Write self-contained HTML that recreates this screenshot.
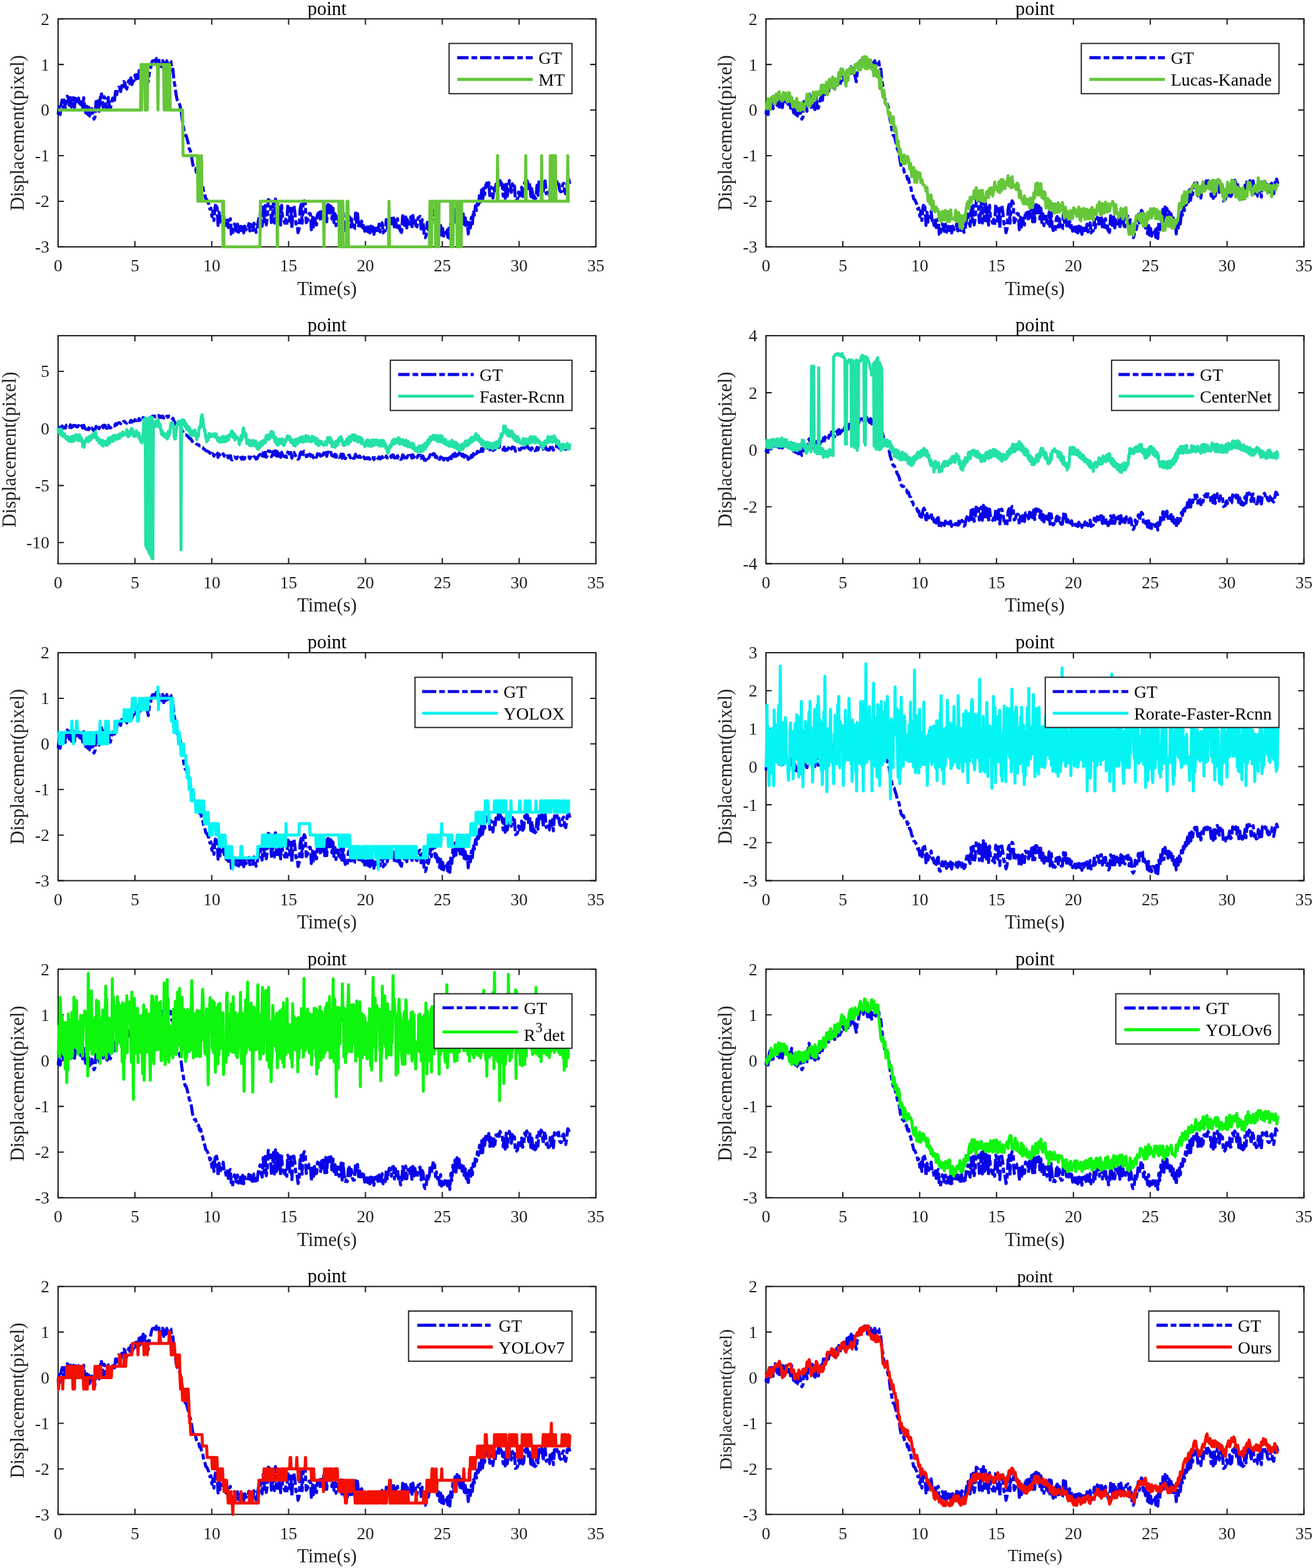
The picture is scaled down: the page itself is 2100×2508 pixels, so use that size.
<!DOCTYPE html>
<html lang="en"><head><meta charset="utf-8"><title>point displacement comparison</title>
<style>html,body{margin:0;padding:0;background:#fff}svg{display:block}text{font-family:"Liberation Serif", "Times New Roman", serif;fill:#000}.tk{font-size:27.5px;fill:#1f1f1f}.lg{font-size:28.0px}.lb{font-size:30.5px;fill:#1f1f1f}.tt{font-size:30.5px}</style></head><body>
<svg width="2100" height="2508" viewBox="0 0 2100 2508">
<rect width="2100" height="2508" fill="#fff"/>
<g id="p00">
<text class="tt" x="523" y="23.5" text-anchor="middle">point</text>
<g stroke="#1f1f1f" stroke-width="2.05" fill="none">
<rect x="92.9" y="30.2" width="860.2" height="364.6"/>
<path d="M92.9,394.8v-9.2M92.9,30.2v9.2M215.8,394.8v-9.2M215.8,30.2v9.2M338.7,394.8v-9.2M338.7,30.2v9.2M461.6,394.8v-9.2M461.6,30.2v9.2M584.5,394.8v-9.2M584.5,30.2v9.2M707.4,394.8v-9.2M707.4,30.2v9.2M830.3,394.8v-9.2M830.3,30.2v9.2M953.1,394.8v-9.2M953.1,30.2v9.2M92.9,30.2h9.2M953.1,30.2h-9.2M92.9,103.1h9.2M953.1,103.1h-9.2M92.9,176h9.2M953.1,176h-9.2M92.9,249h9.2M953.1,249h-9.2M92.9,321.9h9.2M953.1,321.9h-9.2M92.9,394.8h9.2M953.1,394.8h-9.2"/>
</g>
<clipPath id="c00"><rect x="90.5" y="27.8" width="865" height="369.4"/></clipPath>
<g clip-path="url(#c00)" fill="none" stroke-width="4.8" stroke-linejoin="round">
<polyline points="92.9,183.3 94.5,170.9 96.2,183.2 97.8,166.2 99.5,159.9 101.1,174 102.7,160 104.4,173.8 106,155.4 107.7,153.8 109.3,156.8 110.9,168.6 112.6,153.4 114.2,171.4 115.9,165.5 117.5,156.1 119.1,172.2 120.8,157.3 122.4,166.1 124.1,166.3 125.7,156.8 127.3,168.5 129,170.4 130.6,158.4 132.3,173.1 133.9,156.3 135.5,172 137.2,180.5 138.8,170 140.5,183.2 142.1,171.6 143.7,185.9 145.4,186.5 147,173.7 148.7,184.7 150.3,190.6 151.9,187.6 153.6,162.5 155.2,177.5 156.9,161.2 158.5,178 160.1,160.2 161.8,148.3 163.4,155.4 165.1,171.8 166.7,154.8 168.3,157.1 170,173.5 171.6,175.2 173.3,155.6 174.9,170.2 176.6,173.2 178.2,165.9 179.8,157.9 181.5,155.5 183.1,160.5 184.8,146.2 186.4,153.5 188,142.7 189.7,139.6 191.3,140.2 193,146.5 194.6,133.5 196.2,139.3 197.9,130.4 199.5,132.3 201.2,140.1 202.8,142.4 204.4,133.6 206.1,128.8 207.7,137.1 209.4,124.5 211,135.3 212.6,130.6 214.3,128.9 215.9,120.3 217.6,126.4 219.2,116.4 220.8,125.5 222.5,112.9 224.1,123.8 225.8,111.2 227.4,119.7 229,106.5 230.7,116.3 232.3,109.5 234,116.6 235.6,122.7 237.2,130.8 238.9,116.1 240.5,111.7 242.2,101.8 243.8,97.6 245.4,97.2 247.1,96.7 248.7,102.2 250.4,93.4 252,94.4 253.6,92.9 255.3,106.1 256.9,98.4 258.6,106.5 260.2,96.9 261.8,110.1 263.5,100.2 265.1,106.9 266.8,97.1 268.4,105 270,97.7 271.7,97.3 273.3,98.2 275,112 276.6,110.5 278.2,129.3 279.9,137.5 281.5,150.8 283.2,159.2 284.8,161.9 286.4,163.7 288.1,169.9 289.7,177.1 291.4,191.5 293,199.7 294.6,210.1 296.3,216.6 297.9,217 299.6,223.6 301.2,229.3 302.8,238.3 304.5,241.2 306.1,248.5 307.8,260 309.4,267.6 311,270.1 312.7,269.7 314.3,275.9 316,279.1 317.6,278.9 319.2,286.9 320.9,285.3 322.5,295.3 324.2,297.3 325.8,307.4 327.5,310.6 329.1,318.2 330.7,319.2 332.4,322.8 334,326.5 335.7,334.6 337.3,332.9 338.9,346.3 340.6,338 342.2,352.8 343.9,331.6 345.5,325.5 347.1,332 348.8,360.6 350.4,339.6 352.1,355.2 353.7,347.1 355.3,348.1 357,337.9 358.6,352.9 360.3,351.3 361.9,360.9 363.5,352 365.2,364 366.8,351.7 368.5,349.8 370.1,375.2 371.7,376.6 373.4,367.4 375,358.2 376.7,363.1 378.3,369.9 379.9,358.5 381.6,371.5 383.2,368 384.9,362 386.5,372 388.1,358.9 389.8,372.5 391.4,361.6 393.1,366.7 394.7,367.4 396.3,368.1 398,357.6 399.6,369.3 401.3,359 402.9,368.2 404.5,368.6 406.2,356.9 407.8,359.7 409.5,371.7 411.1,369 412.7,355.6 414.4,347.4 416,342.3 417.7,356.5 419.3,361.9 420.9,331 422.6,354.5 424.2,328.8 425.9,359.7 427.5,349.4 429.1,319.2 430.8,320.4 432.4,323 434.1,356 435.7,345.6 437.3,322.7 439,356.9 440.6,318.2 442.3,352.8 443.9,324.1 445.5,353.4 447.2,327.1 448.8,360.1 450.5,328.3 452.1,350.8 453.7,352.2 455.4,357 457,350.6 458.7,360.6 460.3,326.9 461.9,331.5 463.6,353.7 465.2,329.5 466.9,366 468.5,328.9 470.1,328.5 471.8,341 473.4,358.5 475.1,357.8 476.7,372.2 478.4,366 480,334.5 481.6,327.1 483.3,357.1 484.9,326.4 486.6,321.2 488.2,325 489.8,356.2 491.5,353.5 493.1,345.2 494.8,341.2 496.4,341.8 498,367.6 499.7,347.3 501.3,363.2 503,344.9 504.6,356 506.2,360 507.9,338 509.5,341.1 511.2,339.4 512.8,353 514.4,335.8 516.1,347.4 517.7,332.5 519.4,354.9 521,330.4 522.6,354.7 524.3,327.5 525.9,327.7 527.6,340.8 529.2,329.4 530.8,350.3 532.5,332.9 534.1,356 535.8,341.8 537.4,361 539,345.9 540.7,345.9 542.3,360.6 544,358.7 545.6,339.4 547.2,366.6 548.9,340.2 550.5,359.6 552.2,368.8 553.8,366.3 555.4,369.1 557.1,349.3 558.7,346.3 560.4,363.2 562,349.7 563.6,363.5 565.3,367.1 566.9,366.5 568.6,340.8 570.2,355.5 571.8,341.7 573.5,361.2 575.1,351.8 576.8,361.6 578.4,353.6 580,364.4 581.7,357.8 583.3,369.9 585,368.2 586.6,363 588.2,370.5 589.9,363 591.5,372.6 593.2,361.7 594.8,369.6 596.4,362.8 598.1,374.9 599.7,362.3 601.4,368.9 603,360.9 604.6,368.8 606.3,358.4 607.9,371 609.6,367.2 611.2,356.3 612.8,372.6 614.5,368.9 616.1,369.3 617.8,351.3 619.4,364.6 621,354.7 622.7,347.6 624.3,350.7 626,360.5 627.6,345.8 629.2,344.9 630.9,365 632.5,348.3 634.2,363.4 635.8,349.8 637.5,364.8 639.1,361.8 640.7,374.4 642.4,370.7 644,345 645.7,350.7 647.3,364.4 648.9,344.1 650.6,364.6 652.2,350.5 653.9,349.4 655.5,358.5 657.1,346.7 658.8,365.3 660.4,344.7 662.1,360.2 663.7,348.1 665.3,361.2 667,362.8 668.6,348.4 670.3,347.4 671.9,346.1 673.5,366.3 675.2,351.3 676.8,354.9 678.5,377.2 680.1,380.2 681.7,376.4 683.4,355.7 685,367.4 686.7,358.6 688.3,342.6 689.9,356.6 691.6,345.1 693.2,336.5 694.9,339 696.5,361.3 698.1,353.5 699.8,364.8 701.4,358.7 703.1,373.8 704.7,357.8 706.3,376.3 708,365.5 709.6,377.6 711.3,367.6 712.9,368.1 714.5,368 716.2,379.5 717.8,365.2 719.5,381.6 721.1,356 722.7,367.5 724.4,342.6 726,356 727.7,334.6 729.3,354.1 730.9,331 732.6,346.2 734.2,333.4 735.9,351.9 737.5,338.5 739.1,352.7 740.8,342 742.4,359.1 744.1,348.4 745.7,364.3 747.3,355.4 749,374.2 750.6,351.6 752.3,364.7 753.9,347.6 755.5,358.1 757.2,337 758.8,344.3 760.5,329.1 762.1,336.7 763.7,321.3 765.4,327.3 767,311 768.7,323 770.3,303.8 771.9,322.9 773.6,301 775.2,311.1 776.9,296.5 778.5,292.7 780.1,301.6 781.8,292.2 783.4,313.1 785.1,298.9 786.7,302.7 788.4,316.8 790,300.8 791.6,310 793.3,294.4 794.9,296.4 796.6,289.4 798.2,297 799.8,288.9 801.5,293 803.1,294.1 804.8,313.5 806.4,296.5 808,317.4 809.7,291.8 811.3,313.9 813,303.7 814.6,288.8 816.2,293.5 817.9,307.8 819.5,294 821.2,300.5 822.8,297.5 824.4,321.4 826.1,320.4 827.7,318.6 829.4,307 831,313.4 832.6,311.3 834.3,299.4 835.9,314.3 837.6,311.9 839.2,291.5 840.8,295.7 842.5,288.3 844.1,292 845.8,305.4 847.4,292.9 849,314.4 850.7,299.7 852.3,316.3 854,309.2 855.6,318.2 857.2,316.7 858.9,296.3 860.5,312.6 862.2,287.9 863.8,295.8 865.4,286.9 867.1,289.8 868.7,308.8 870.4,293.9 872,289.2 873.6,309.8 875.3,307.5 876.9,314.8 878.6,313.8 880.2,296.6 881.8,311 883.5,297.2 885.1,315.2 886.8,291.1 888.4,290.9 890,287.6 891.7,294.7 893.3,290.2 895,304.3 896.6,306.7 898.2,306.3 899.9,295 901.5,293.1 903.2,307.3 904.8,310 906.4,299.4 908.1,284.7 909.7,287.1 911.4,294.1" stroke="#0903ea" stroke-width="4.9" stroke-dasharray="18.2 4.7 9 4.7"/>
<polyline points="92.9,176 93.7,176 94.5,176 95.4,176 96.2,176 97,176 97.8,176 98.6,176 99.5,176 100.3,176 101.1,176 101.9,176 102.7,176 103.6,176 104.4,176 105.2,176 106,176 106.8,176 107.6,176 108.5,176 109.3,176 110.1,176 110.9,176 111.7,176 112.6,176 113.4,176 114.2,176 115,176 115.8,176 116.7,176 117.5,176 118.3,176 119.1,176 119.9,176 120.8,176 121.6,176 122.4,176 123.2,176 124,176 124.9,176 125.7,176 126.5,176 127.3,176 128.1,176 128.9,176 129.8,176 130.6,176 131.4,176 132.2,176 133,176 133.9,176 134.7,176 135.5,176 136.3,176 137.1,176 138,176 138.8,176 139.6,176 140.4,176 141.2,176 142.1,176 142.9,176 143.7,176 144.5,176 145.3,176 146.2,176 147,176 147.8,176 148.6,176 149.4,176 150.2,176 151.1,176 151.9,176 152.7,176 153.5,176 154.3,176 155.2,176 156,176 156.8,176 157.6,176 158.4,176 159.3,176 160.1,176 160.9,176 161.7,176 162.5,176 163.4,176 164.2,176 165,176 165.8,176 166.6,176 167.5,176 168.3,176 169.1,176 169.9,176 170.7,176 171.6,176 172.4,176 173.2,176 174,176 174.8,176 175.6,176 176.5,176 177.3,176 178.1,176 178.9,176 179.7,176 180.6,176 181.4,176 182.2,176 183,176 183.8,176 184.7,176 185.5,176 186.3,176 187.1,176 187.9,176 188.8,176 189.6,176 190.4,176 191.2,176 192,176 192.9,176 193.7,176 194.5,176 195.3,176 196.1,176 196.9,176 197.8,176 198.6,176 199.4,176 200.2,176 201,176 201.9,176 202.7,176 203.5,176 204.3,176 205.1,176 206,176 206.8,176 207.6,176 208.4,176 209.2,176 210.1,176 210.9,176 211.7,176 212.5,176 213.3,176 214.2,176 215,176 215.8,176 216.6,176 217.4,176 218.3,176 219.1,176 219.9,176 220.7,176 221.5,176 222.3,176 223.2,176 224,176 224.8,176 225.6,103.1 226.4,176 227.3,103.1 228.1,103.1 228.9,103.1 229.7,103.1 230.5,103.1 231.4,103.1 232.2,176 233,103.1 233.8,176 234.6,103.1 235.5,176 236.3,103.1 237.1,103.1 237.9,103.1 238.7,103.1 239.6,103.1 240.4,103.1 241.2,103.1 242,103.1 242.8,103.1 243.6,103.1 244.5,103.1 245.3,103.1 246.1,103.1 246.9,103.1 247.7,103.1 248.6,103.1 249.4,103.1 250.2,103.1 251,103.1 251.8,103.1 252.7,176 253.5,103.1 254.3,103.1 255.1,103.1 255.9,103.1 256.8,103.1 257.6,103.1 258.4,103.1 259.2,103.1 260,103.1 260.9,103.1 261.7,103.1 262.5,176 263.3,103.1 264.1,176 265,103.1 265.8,176 266.6,103.1 267.4,176 268.2,103.1 269,176 269.9,103.1 270.7,176 271.5,103.1 272.3,176 273.1,176 274,176 274.8,176 275.6,176 276.4,176 277.2,176 278.1,176 278.9,176 279.7,176 280.5,176 281.3,176 282.2,176 283,176 283.8,176 284.6,176 285.4,176 286.3,176 287.1,176 287.9,176 288.7,176 289.5,176 290.3,176 291.2,176 292,176 292.8,249 293.6,249 294.4,249 295.3,249 296.1,249 296.9,249 297.7,249 298.5,249 299.4,249 300.2,249 301,249 301.8,249 302.6,249 303.5,249 304.3,249 305.1,249 305.9,249 306.7,249 307.6,249 308.4,249 309.2,249 310,249 310.8,249 311.6,249 312.5,249 313.3,249 314.1,249 314.9,249 315.7,249 316.6,321.9 317.4,249 318.2,321.9 319,321.9 319.8,321.9 320.7,321.9 321.5,321.9 322.3,249 323.1,321.9 323.9,321.9 324.8,321.9 325.6,321.9 326.4,321.9 327.2,321.9 328,321.9 328.9,321.9 329.7,321.9 330.5,321.9 331.3,321.9 332.1,321.9 333,321.9 333.8,321.9 334.6,321.9 335.4,321.9 336.2,321.9 337,321.9 337.9,321.9 338.7,321.9 339.5,321.9 340.3,321.9 341.1,321.9 342,321.9 342.8,321.9 343.6,321.9 344.4,321.9 345.2,321.9 346.1,321.9 346.9,321.9 347.7,321.9 348.5,321.9 349.3,321.9 350.2,321.9 351,321.9 351.8,321.9 352.6,321.9 353.4,321.9 354.3,321.9 355.1,321.9 355.9,321.9 356.7,394.8 357.5,321.9 358.3,394.8 359.2,394.8 360,394.8 360.8,394.8 361.6,394.8 362.4,394.8 363.3,394.8 364.1,394.8 364.9,394.8 365.7,394.8 366.5,394.8 367.4,394.8 368.2,394.8 369,394.8 369.8,394.8 370.6,394.8 371.5,394.8 372.3,394.8 373.1,394.8 373.9,394.8 374.7,394.8 375.6,394.8 376.4,394.8 377.2,394.8 378,394.8 378.8,394.8 379.6,394.8 380.5,394.8 381.3,394.8 382.1,394.8 382.9,394.8 383.7,394.8 384.6,394.8 385.4,394.8 386.2,394.8 387,394.8 387.8,394.8 388.7,394.8 389.5,394.8 390.3,394.8 391.1,394.8 391.9,394.8 392.8,394.8 393.6,394.8 394.4,394.8 395.2,394.8 396,394.8 396.9,394.8 397.7,394.8 398.5,394.8 399.3,394.8 400.1,394.8 401,394.8 401.8,394.8 402.6,394.8 403.4,394.8 404.2,394.8 405,394.8 405.9,394.8 406.7,394.8 407.5,394.8 408.3,394.8 409.1,394.8 410,394.8 410.8,394.8 411.6,394.8 412.4,394.8 413.2,394.8 414.1,394.8 414.9,394.8 415.7,394.8 416.5,321.9 417.3,321.9 418.2,321.9 419,321.9 419.8,321.9 420.6,321.9 421.4,321.9 422.3,321.9 423.1,321.9 423.9,321.9 424.7,321.9 425.5,321.9 426.3,321.9 427.2,321.9 428,321.9 428.8,321.9 429.6,321.9 430.4,321.9 431.3,321.9 432.1,321.9 432.9,321.9 433.7,321.9 434.5,321.9 435.4,321.9 436.2,321.9 437,321.9 437.8,321.9 438.6,321.9 439.5,321.9 440.3,321.9 441.1,321.9 441.9,321.9 442.7,321.9 443.6,394.8 444.4,321.9 445.2,321.9 446,321.9 446.8,321.9 447.7,321.9 448.5,321.9 449.3,321.9 450.1,321.9 450.9,321.9 451.7,321.9 452.6,321.9 453.4,321.9 454.2,321.9 455,321.9 455.8,321.9 456.7,321.9 457.5,321.9 458.3,321.9 459.1,321.9 459.9,321.9 460.8,321.9 461.6,321.9 462.4,321.9 463.2,321.9 464,321.9 464.9,321.9 465.7,321.9 466.5,321.9 467.3,321.9 468.1,321.9 469,321.9 469.8,321.9 470.6,321.9 471.4,321.9 472.2,321.9 473,321.9 473.9,321.9 474.7,321.9 475.5,321.9 476.3,321.9 477.1,321.9 478,321.9 478.8,321.9 479.6,321.9 480.4,321.9 481.2,321.9 482.1,321.9 482.9,321.9 483.7,321.9 484.5,321.9 485.3,321.9 486.2,321.9 487,321.9 487.8,321.9 488.6,321.9 489.4,321.9 490.3,321.9 491.1,321.9 491.9,321.9 492.7,321.9 493.5,321.9 494.4,321.9 495.2,321.9 496,321.9 496.8,321.9 497.6,321.9 498.4,321.9 499.3,321.9 500.1,321.9 500.9,321.9 501.7,321.9 502.5,321.9 503.4,321.9 504.2,321.9 505,321.9 505.8,321.9 506.6,321.9 507.5,321.9 508.3,321.9 509.1,321.9 509.9,321.9 510.7,321.9 511.6,321.9 512.4,321.9 513.2,321.9 514,321.9 514.8,321.9 515.7,321.9 516.5,321.9 517.3,321.9 518.1,394.8 518.9,321.9 519.7,321.9 520.6,321.9 521.4,321.9 522.2,321.9 523,321.9 523.8,321.9 524.7,321.9 525.5,321.9 526.3,321.9 527.1,321.9 527.9,321.9 528.8,321.9 529.6,321.9 530.4,321.9 531.2,321.9 532,321.9 532.9,321.9 533.7,321.9 534.5,321.9 535.3,321.9 536.1,321.9 537,321.9 537.8,321.9 538.6,321.9 539.4,321.9 540.2,321.9 541,321.9 541.9,321.9 542.7,394.8 543.5,321.9 544.3,394.8 545.1,321.9 546,394.8 546.8,321.9 547.6,394.8 548.4,321.9 549.2,394.8 550.1,394.8 550.9,394.8 551.7,394.8 552.5,394.8 553.3,394.8 554.2,394.8 555,321.9 555.8,394.8 556.6,321.9 557.4,394.8 558.3,394.8 559.1,394.8 559.9,394.8 560.7,394.8 561.5,394.8 562.4,394.8 563.2,394.8 564,394.8 564.8,394.8 565.6,394.8 566.4,394.8 567.3,394.8 568.1,394.8 568.9,394.8 569.7,394.8 570.5,394.8 571.4,394.8 572.2,394.8 573,394.8 573.8,394.8 574.6,394.8 575.5,394.8 576.3,394.8 577.1,394.8 577.9,394.8 578.7,394.8 579.6,394.8 580.4,394.8 581.2,394.8 582,394.8 582.8,394.8 583.7,394.8 584.5,394.8 585.3,394.8 586.1,394.8 586.9,394.8 587.7,394.8 588.6,394.8 589.4,394.8 590.2,394.8 591,394.8 591.8,394.8 592.7,394.8 593.5,394.8 594.3,394.8 595.1,394.8 595.9,394.8 596.8,394.8 597.6,394.8 598.4,394.8 599.2,394.8 600,394.8 600.9,394.8 601.7,394.8 602.5,394.8 603.3,394.8 604.1,394.8 605,394.8 605.8,394.8 606.6,394.8 607.4,394.8 608.2,394.8 609,394.8 609.9,394.8 610.7,394.8 611.5,394.8 612.3,394.8 613.1,394.8 614,394.8 614.8,394.8 615.6,394.8 616.4,394.8 617.2,394.8 618.1,394.8 618.9,394.8 619.7,394.8 620.5,394.8 621.3,394.8 622.2,321.9 623,394.8 623.8,394.8 624.6,394.8 625.4,394.8 626.3,394.8 627.1,394.8 627.9,394.8 628.7,394.8 629.5,394.8 630.4,394.8 631.2,394.8 632,394.8 632.8,394.8 633.6,394.8 634.4,394.8 635.3,394.8 636.1,394.8 636.9,394.8 637.7,394.8 638.5,394.8 639.4,394.8 640.2,394.8 641,394.8 641.8,394.8 642.6,394.8 643.5,394.8 644.3,394.8 645.1,394.8 645.9,394.8 646.7,394.8 647.6,394.8 648.4,394.8 649.2,394.8 650,394.8 650.8,394.8 651.7,394.8 652.5,394.8 653.3,394.8 654.1,394.8 654.9,394.8 655.7,394.8 656.6,394.8 657.4,394.8 658.2,394.8 659,394.8 659.8,394.8 660.7,394.8 661.5,394.8 662.3,394.8 663.1,394.8 663.9,394.8 664.8,394.8 665.6,394.8 666.4,394.8 667.2,394.8 668,394.8 668.9,394.8 669.7,394.8 670.5,394.8 671.3,394.8 672.1,394.8 673,394.8 673.8,394.8 674.6,394.8 675.4,394.8 676.2,394.8 677.1,394.8 677.9,394.8 678.7,394.8 679.5,394.8 680.3,394.8 681.1,394.8 682,394.8 682.8,394.8 683.6,394.8 684.4,394.8 685.2,394.8 686.1,394.8 686.9,394.8 687.7,321.9 688.5,394.8 689.3,321.9 690.2,394.8 691,321.9 691.8,321.9 692.6,321.9 693.4,321.9 694.3,321.9 695.1,321.9 695.9,321.9 696.7,394.8 697.5,321.9 698.4,394.8 699.2,321.9 700,394.8 700.8,321.9 701.6,394.8 702.4,321.9 703.3,321.9 704.1,321.9 704.9,321.9 705.7,321.9 706.5,321.9 707.4,321.9 708.2,321.9 709,321.9 709.8,321.9 710.6,321.9 711.5,321.9 712.3,321.9 713.1,321.9 713.9,321.9 714.7,321.9 715.6,321.9 716.4,321.9 717.2,321.9 718,321.9 718.8,321.9 719.7,321.9 720.5,321.9 721.3,394.8 722.1,321.9 722.9,394.8 723.8,321.9 724.6,394.8 725.4,321.9 726.2,321.9 727,321.9 727.8,321.9 728.7,321.9 729.5,321.9 730.3,321.9 731.1,394.8 731.9,321.9 732.8,394.8 733.6,321.9 734.4,394.8 735.2,321.9 736,394.8 736.9,321.9 737.7,394.8 738.5,321.9 739.3,321.9 740.1,321.9 741,321.9 741.8,321.9 742.6,321.9 743.4,321.9 744.2,321.9 745.1,321.9 745.9,321.9 746.7,321.9 747.5,321.9 748.3,321.9 749.1,321.9 750,321.9 750.8,321.9 751.6,321.9 752.4,321.9 753.2,321.9 754.1,321.9 754.9,321.9 755.7,321.9 756.5,321.9 757.3,321.9 758.2,321.9 759,321.9 759.8,321.9 760.6,321.9 761.4,321.9 762.3,321.9 763.1,321.9 763.9,321.9 764.7,321.9 765.5,321.9 766.4,321.9 767.2,321.9 768,321.9 768.8,321.9 769.6,321.9 770.4,321.9 771.3,321.9 772.1,321.9 772.9,321.9 773.7,321.9 774.5,321.9 775.4,321.9 776.2,321.9 777,321.9 777.8,321.9 778.6,321.9 779.5,321.9 780.3,321.9 781.1,321.9 781.9,321.9 782.7,321.9 783.6,321.9 784.4,321.9 785.2,321.9 786,321.9 786.8,321.9 787.7,321.9 788.5,321.9 789.3,321.9 790.1,321.9 790.9,321.9 791.8,321.9 792.6,321.9 793.4,321.9 794.2,321.9 795,321.9 795.8,249 796.7,321.9 797.5,321.9 798.3,321.9 799.1,321.9 799.9,321.9 800.8,321.9 801.6,321.9 802.4,321.9 803.2,321.9 804,321.9 804.9,321.9 805.7,321.9 806.5,321.9 807.3,321.9 808.1,321.9 809,321.9 809.8,321.9 810.6,321.9 811.4,321.9 812.2,321.9 813.1,321.9 813.9,321.9 814.7,321.9 815.5,321.9 816.3,321.9 817.1,321.9 818,321.9 818.8,321.9 819.6,321.9 820.4,321.9 821.2,321.9 822.1,321.9 822.9,321.9 823.7,321.9 824.5,321.9 825.3,321.9 826.2,321.9 827,321.9 827.8,321.9 828.6,321.9 829.4,321.9 830.3,321.9 831.1,321.9 831.9,321.9 832.7,321.9 833.5,321.9 834.4,321.9 835.2,321.9 836,321.9 836.8,321.9 837.6,321.9 838.4,321.9 839.3,321.9 840.1,321.9 840.9,249 841.7,321.9 842.5,321.9 843.4,321.9 844.2,321.9 845,321.9 845.8,321.9 846.6,321.9 847.5,321.9 848.3,321.9 849.1,321.9 849.9,321.9 850.7,321.9 851.6,321.9 852.4,321.9 853.2,321.9 854,321.9 854.8,321.9 855.7,321.9 856.5,321.9 857.3,321.9 858.1,321.9 858.9,321.9 859.8,321.9 860.6,321.9 861.4,321.9 862.2,321.9 863,321.9 863.8,321.9 864.7,321.9 865.5,321.9 866.3,249 867.1,321.9 867.9,321.9 868.8,321.9 869.6,321.9 870.4,321.9 871.2,321.9 872,321.9 872.9,321.9 873.7,321.9 874.5,321.9 875.3,321.9 876.1,321.9 877,321.9 877.8,321.9 878.6,321.9 879.4,321.9 880.2,249 881.1,321.9 881.9,249 882.7,321.9 883.5,249 884.3,321.9 885.1,249 886,321.9 886.8,249 887.6,321.9 888.4,249 889.2,321.9 890.1,321.9 890.9,321.9 891.7,321.9 892.5,321.9 893.3,321.9 894.2,321.9 895,321.9 895.8,321.9 896.6,321.9 897.4,321.9 898.3,321.9 899.1,321.9 899.9,321.9 900.7,321.9 901.5,321.9 902.4,321.9 903.2,321.9 904,321.9 904.8,321.9 905.6,321.9 906.5,321.9 907.3,321.9 908.1,249 908.9,321.9 909.7,321.9 910.5,321.9 911.4,321.9" stroke="#66c63a"/>
</g>
<rect x="718.3" y="69.5" width="196.5" height="80.3" fill="#fff" stroke="#1c1c1c" stroke-width="1.9"/>
<path d="M731.2,92.3H852" fill="none" stroke="#0903ea" stroke-width="4.9" stroke-dasharray="18.2 4.7 9 4.7"/>
<path d="M731.2,127H852" fill="none" stroke="#66c63a" stroke-width="4.8"/>
<text class="lg" x="861.3" y="102.3">GT</text>
<text class="lg" x="861.3" y="137">MT</text>
<text class="tk" x="92.9" y="434.2" text-anchor="middle">0</text>
<text class="tk" x="215.8" y="434.2" text-anchor="middle">5</text>
<text class="tk" x="338.7" y="434.2" text-anchor="middle">10</text>
<text class="tk" x="461.6" y="434.2" text-anchor="middle">15</text>
<text class="tk" x="584.5" y="434.2" text-anchor="middle">20</text>
<text class="tk" x="707.4" y="434.2" text-anchor="middle">25</text>
<text class="tk" x="830.3" y="434.2" text-anchor="middle">30</text>
<text class="tk" x="953.1" y="434.2" text-anchor="middle">35</text>
<text class="tk" x="79" y="39.6" text-anchor="end">2</text>
<text class="tk" x="79" y="112.5" text-anchor="end">1</text>
<text class="tk" x="79" y="185.4" text-anchor="end">0</text>
<text class="tk" x="79" y="258.4" text-anchor="end">-1</text>
<text class="tk" x="79" y="331.3" text-anchor="end">-2</text>
<text class="tk" x="79" y="404.2" text-anchor="end">-3</text>
<text class="lb" x="523" y="471.6" text-anchor="middle">Time(s)</text>
<text class="lb" transform="translate(38,212.5) rotate(-90)" text-anchor="middle">Displacement(pixel)</text>
</g>
<g id="p01">
<text class="tt" x="1655.3" y="23.5" text-anchor="middle">point</text>
<g stroke="#1f1f1f" stroke-width="2.05" fill="none">
<rect x="1225.1" y="30.2" width="860.4" height="364.6"/>
<path d="M1225.1,394.8v-9.2M1225.1,30.2v9.2M1348,394.8v-9.2M1348,30.2v9.2M1470.9,394.8v-9.2M1470.9,30.2v9.2M1593.8,394.8v-9.2M1593.8,30.2v9.2M1716.8,394.8v-9.2M1716.8,30.2v9.2M1839.7,394.8v-9.2M1839.7,30.2v9.2M1962.6,394.8v-9.2M1962.6,30.2v9.2M2085.5,394.8v-9.2M2085.5,30.2v9.2M1225.1,30.2h9.2M2085.5,30.2h-9.2M1225.1,103.1h9.2M2085.5,103.1h-9.2M1225.1,176h9.2M2085.5,176h-9.2M1225.1,249h9.2M2085.5,249h-9.2M1225.1,321.9h9.2M2085.5,321.9h-9.2M1225.1,394.8h9.2M2085.5,394.8h-9.2"/>
</g>
<clipPath id="c01"><rect x="1222.7" y="27.8" width="865.2" height="369.4"/></clipPath>
<g clip-path="url(#c01)" fill="none" stroke-width="4.8" stroke-linejoin="round">
<polyline points="1225.1,183.3 1226.7,170.9 1228.4,183.2 1230,166.2 1231.7,159.9 1233.3,174 1234.9,160 1236.6,173.8 1238.2,155.4 1239.9,153.8 1241.5,156.8 1243.1,168.6 1244.8,153.4 1246.4,171.4 1248.1,165.5 1249.7,156.1 1251.3,172.2 1253,157.3 1254.6,166.1 1256.3,166.3 1257.9,156.8 1259.6,168.5 1261.2,170.4 1262.8,158.4 1264.5,173.1 1266.1,156.3 1267.8,172 1269.4,180.5 1271,170 1272.7,183.2 1274.3,171.6 1276,185.9 1277.6,186.5 1279.2,173.7 1280.9,184.7 1282.5,190.6 1284.2,187.6 1285.8,162.5 1287.4,177.5 1289.1,161.2 1290.7,178 1292.4,160.2 1294,148.3 1295.6,155.4 1297.3,171.8 1298.9,154.8 1300.6,157.1 1302.2,173.5 1303.8,175.2 1305.5,155.6 1307.1,170.2 1308.8,173.2 1310.4,165.9 1312,157.9 1313.7,155.5 1315.3,160.5 1317,146.2 1318.6,153.5 1320.2,142.7 1321.9,139.6 1323.5,140.2 1325.2,146.5 1326.8,133.5 1328.5,139.3 1330.1,130.4 1331.7,132.3 1333.4,140.1 1335,142.4 1336.7,133.6 1338.3,128.8 1339.9,137.1 1341.6,124.5 1343.2,135.3 1344.9,130.6 1346.5,128.9 1348.1,120.3 1349.8,126.4 1351.4,116.4 1353.1,125.5 1354.7,112.9 1356.3,123.8 1358,111.2 1359.6,119.7 1361.3,106.5 1362.9,116.3 1364.5,109.5 1366.2,116.6 1367.8,122.7 1369.5,130.8 1371.1,116.1 1372.7,111.7 1374.4,101.8 1376,97.6 1377.7,97.2 1379.3,96.7 1380.9,102.2 1382.6,93.4 1384.2,94.4 1385.9,92.9 1387.5,106.1 1389.1,98.4 1390.8,106.5 1392.4,96.9 1394.1,110.1 1395.7,100.2 1397.4,106.9 1399,97.1 1400.6,105 1402.3,97.7 1403.9,97.3 1405.6,98.2 1407.2,112 1408.8,110.5 1410.5,129.3 1412.1,137.5 1413.8,150.8 1415.4,159.2 1417,161.9 1418.7,163.7 1420.3,169.9 1422,177.1 1423.6,191.5 1425.2,199.7 1426.9,210.1 1428.5,216.6 1430.2,217 1431.8,223.6 1433.4,229.3 1435.1,238.3 1436.7,241.2 1438.4,248.5 1440,260 1441.6,267.6 1443.3,270.1 1444.9,269.7 1446.6,275.9 1448.2,279.1 1449.8,278.9 1451.5,286.9 1453.1,285.3 1454.8,295.3 1456.4,297.3 1458.1,307.4 1459.7,310.6 1461.3,318.2 1463,319.2 1464.6,322.8 1466.3,326.5 1467.9,334.6 1469.5,332.9 1471.2,346.3 1472.8,338 1474.5,352.8 1476.1,331.6 1477.7,325.5 1479.4,332 1481,360.6 1482.7,339.6 1484.3,355.2 1485.9,347.1 1487.6,348.1 1489.2,337.9 1490.9,352.9 1492.5,351.3 1494.1,360.9 1495.8,352 1497.4,364 1499.1,351.7 1500.7,349.8 1502.3,375.2 1504,376.6 1505.6,367.4 1507.3,358.2 1508.9,363.1 1510.5,369.9 1512.2,358.5 1513.8,371.5 1515.5,368 1517.1,362 1518.7,372 1520.4,358.9 1522,372.5 1523.7,361.6 1525.3,366.7 1527,367.4 1528.6,368.1 1530.2,357.6 1531.9,369.3 1533.5,359 1535.2,368.2 1536.8,368.6 1538.4,356.9 1540.1,359.7 1541.7,371.7 1543.4,369 1545,355.6 1546.6,347.4 1548.3,342.3 1549.9,356.5 1551.6,361.9 1553.2,331 1554.8,354.5 1556.5,328.8 1558.1,359.7 1559.8,349.4 1561.4,319.2 1563,320.4 1564.7,323 1566.3,356 1568,345.6 1569.6,322.7 1571.2,356.9 1572.9,318.2 1574.5,352.8 1576.2,324.1 1577.8,353.4 1579.4,327.1 1581.1,360.1 1582.7,328.3 1584.4,350.8 1586,352.2 1587.7,357 1589.3,350.6 1590.9,360.6 1592.6,326.9 1594.2,331.5 1595.9,353.7 1597.5,329.5 1599.1,366 1600.8,328.9 1602.4,328.5 1604.1,341 1605.7,358.5 1607.3,357.8 1609,372.2 1610.6,366 1612.3,334.5 1613.9,327.1 1615.5,357.1 1617.2,326.4 1618.8,321.2 1620.5,325 1622.1,356.2 1623.7,353.5 1625.4,345.2 1627,341.2 1628.7,341.8 1630.3,367.6 1631.9,347.3 1633.6,363.2 1635.2,344.9 1636.9,356 1638.5,360 1640.1,338 1641.8,341.1 1643.4,339.4 1645.1,353 1646.7,335.8 1648.3,347.4 1650,332.5 1651.6,354.9 1653.3,330.4 1654.9,354.7 1656.6,327.5 1658.2,327.7 1659.8,340.8 1661.5,329.4 1663.1,350.3 1664.8,332.9 1666.4,356 1668,341.8 1669.7,361 1671.3,345.9 1673,345.9 1674.6,360.6 1676.2,358.7 1677.9,339.4 1679.5,366.6 1681.2,340.2 1682.8,359.6 1684.4,368.8 1686.1,366.3 1687.7,369.1 1689.4,349.3 1691,346.3 1692.6,363.2 1694.3,349.7 1695.9,363.5 1697.6,367.1 1699.2,366.5 1700.8,340.8 1702.5,355.5 1704.1,341.7 1705.8,361.2 1707.4,351.8 1709,361.6 1710.7,353.6 1712.3,364.4 1714,357.8 1715.6,369.9 1717.2,368.2 1718.9,363 1720.5,370.5 1722.2,363 1723.8,372.6 1725.5,361.7 1727.1,369.6 1728.7,362.8 1730.4,374.9 1732,362.3 1733.7,368.9 1735.3,360.9 1736.9,368.8 1738.6,358.4 1740.2,371 1741.9,367.2 1743.5,356.3 1745.1,372.6 1746.8,368.9 1748.4,369.3 1750.1,351.3 1751.7,364.6 1753.3,354.7 1755,347.6 1756.6,350.7 1758.3,360.5 1759.9,345.8 1761.5,344.9 1763.2,365 1764.8,348.3 1766.5,363.4 1768.1,349.8 1769.7,364.8 1771.4,361.8 1773,374.4 1774.7,370.7 1776.3,345 1777.9,350.7 1779.6,364.4 1781.2,344.1 1782.9,364.6 1784.5,350.5 1786.2,349.4 1787.8,358.5 1789.4,346.7 1791.1,365.3 1792.7,344.7 1794.4,360.2 1796,348.1 1797.6,361.2 1799.3,362.8 1800.9,348.4 1802.6,347.4 1804.2,346.1 1805.8,366.3 1807.5,351.3 1809.1,354.9 1810.8,377.2 1812.4,380.2 1814,376.4 1815.7,355.7 1817.3,367.4 1819,358.6 1820.6,342.6 1822.2,356.6 1823.9,345.1 1825.5,336.5 1827.2,339 1828.8,361.3 1830.4,353.5 1832.1,364.8 1833.7,358.7 1835.4,373.8 1837,357.8 1838.6,376.3 1840.3,365.5 1841.9,377.6 1843.6,367.6 1845.2,368.1 1846.8,368 1848.5,379.5 1850.1,365.2 1851.8,381.6 1853.4,356 1855.1,367.5 1856.7,342.6 1858.3,356 1860,334.6 1861.6,354.1 1863.3,331 1864.9,346.2 1866.5,333.4 1868.2,351.9 1869.8,338.5 1871.5,352.7 1873.1,342 1874.7,359.1 1876.4,348.4 1878,364.3 1879.7,355.4 1881.3,374.2 1882.9,351.6 1884.6,364.7 1886.2,347.6 1887.9,358.1 1889.5,337 1891.1,344.3 1892.8,329.1 1894.4,336.7 1896.1,321.3 1897.7,327.3 1899.3,311 1901,323 1902.6,303.8 1904.3,322.9 1905.9,301 1907.5,311.1 1909.2,296.5 1910.8,292.7 1912.5,301.6 1914.1,292.2 1915.8,313.1 1917.4,298.9 1919,302.7 1920.7,316.8 1922.3,300.8 1924,310 1925.6,294.4 1927.2,296.4 1928.9,289.4 1930.5,297 1932.2,288.9 1933.8,293 1935.4,294.1 1937.1,313.5 1938.7,296.5 1940.4,317.4 1942,291.8 1943.6,313.9 1945.3,303.7 1946.9,288.8 1948.6,293.5 1950.2,307.8 1951.8,294 1953.5,300.5 1955.1,297.5 1956.8,321.4 1958.4,320.4 1960,318.6 1961.7,307 1963.3,313.4 1965,311.3 1966.6,299.4 1968.2,314.3 1969.9,311.9 1971.5,291.5 1973.2,295.7 1974.8,288.3 1976.4,292 1978.1,305.4 1979.7,292.9 1981.4,314.4 1983,299.7 1984.7,316.3 1986.3,309.2 1987.9,318.2 1989.6,316.7 1991.2,296.3 1992.9,312.6 1994.5,287.9 1996.1,295.8 1997.8,286.9 1999.4,289.8 2001.1,308.8 2002.7,293.9 2004.3,289.2 2006,309.8 2007.6,307.5 2009.3,314.8 2010.9,313.8 2012.5,296.6 2014.2,311 2015.8,297.2 2017.5,315.2 2019.1,291.1 2020.7,290.9 2022.4,287.6 2024,294.7 2025.7,290.2 2027.3,304.3 2028.9,306.7 2030.6,306.3 2032.2,295 2033.9,293.1 2035.5,307.3 2037.1,310 2038.8,299.4 2040.4,284.7 2042.1,287.1 2043.7,294.1" stroke="#0903ea" stroke-width="4.9" stroke-dasharray="18.2 4.7 9 4.7"/>
<polyline points="1225.1,163.4 1226.7,174.1 1228.4,157.6 1230,171.7 1231.7,175.3 1233.3,156.4 1234.9,159.2 1236.6,153.7 1238.2,166 1239.9,166.1 1241.5,150.3 1243.1,160.6 1244.8,149.4 1246.4,146.9 1248.1,158.8 1249.7,158.7 1251.3,161.4 1253,147.9 1254.6,158.6 1256.3,148.8 1257.9,158.8 1259.6,163.3 1261.2,147.7 1262.8,148.9 1264.5,162.4 1266.1,155.9 1267.8,171 1269.4,161.9 1271,164.7 1272.7,171.6 1274.3,157.4 1276,176.8 1277.6,163.8 1279.2,176.8 1280.9,176.5 1282.5,164.2 1284.2,173 1285.8,175.9 1287.4,166.5 1289.1,163 1290.7,150.6 1292.4,169.5 1294,150.6 1295.6,169.7 1297.3,161.6 1298.9,164.9 1300.6,147.3 1302.2,147.9 1303.8,160.3 1305.5,146.9 1307.1,151.3 1308.8,152.2 1310.4,145.7 1312,151.8 1313.7,136.1 1315.3,148.7 1317,136 1318.6,138.8 1320.2,149.3 1321.9,131.2 1323.5,151.5 1325.2,133.2 1326.8,126.6 1328.5,140.5 1330.1,139.1 1331.7,123.1 1333.4,128.7 1335,142.4 1336.7,126.2 1338.3,134.2 1339.9,136.8 1341.6,116 1343.2,126.5 1344.9,109.8 1346.5,119.5 1348.1,110.9 1349.8,117.9 1351.4,129.3 1353.1,137.6 1354.7,112.3 1356.3,128.8 1358,110.5 1359.6,117.5 1361.3,107.1 1362.9,113 1364.5,116.3 1366.2,116.7 1367.8,103.1 1369.5,103.1 1371.1,101.5 1372.7,112.4 1374.4,97.6 1376,112 1377.7,106.8 1379.3,91.9 1380.9,106.8 1382.6,90.3 1384.2,109.9 1385.9,90.8 1387.5,110.1 1389.1,95 1390.8,107.7 1392.4,96 1394.1,110.7 1395.7,103.8 1397.4,121.4 1399,104.7 1400.6,105.3 1402.3,123.1 1403.9,122.7 1405.6,112.9 1407.2,141.6 1408.8,124.9 1410.5,144.6 1412.1,155.1 1413.8,144.6 1415.4,164.7 1417,167.6 1418.7,165.7 1420.3,179.2 1422,186.1 1423.6,180.2 1425.2,197.4 1426.9,188.5 1428.5,186.7 1430.2,209.8 1431.8,202.3 1433.4,209.7 1435.1,234.1 1436.7,225.3 1438.4,246.5 1440,238.5 1441.6,258.7 1443.3,248.1 1444.9,262.2 1446.6,248.1 1448.2,261.8 1449.8,254.4 1451.5,250 1453.1,253.8 1454.8,270.4 1456.4,261 1458.1,282.6 1459.7,272.5 1461.3,267.6 1463,291.4 1464.6,272.8 1466.3,291.7 1467.9,275.9 1469.5,276.1 1471.2,276.8 1472.8,291.9 1474.5,286.9 1476.1,295.5 1477.7,295.7 1479.4,297.4 1481,305.8 1482.7,299.9 1484.3,321.9 1485.9,312 1487.6,326.8 1489.2,312 1490.9,335.6 1492.5,321.5 1494.1,337.1 1495.8,338.8 1497.4,331.1 1499.1,334.1 1500.7,337.2 1502.3,351.4 1504,340.5 1505.6,354.5 1507.3,337.9 1508.9,340.8 1510.5,352.1 1512.2,336.4 1513.8,341.4 1515.5,354.5 1517.1,338.1 1518.7,354.3 1520.4,335.6 1522,350.1 1523.7,349.3 1525.3,350.6 1527,352 1528.6,336.5 1530.2,354 1531.9,354.4 1533.5,339.8 1535.2,363 1536.8,344.7 1538.4,366.1 1540.1,345 1541.7,354 1543.4,352.7 1545,335.4 1546.6,326.5 1548.3,322.3 1549.9,333.7 1551.6,315.5 1553.2,324.1 1554.8,315.5 1556.5,318.2 1558.1,304.8 1559.8,316.9 1561.4,300.2 1563,321 1564.7,305.5 1566.3,318.1 1568,304.9 1569.6,321.2 1571.2,304.2 1572.9,322.2 1574.5,318.3 1576.2,322.6 1577.8,307.1 1579.4,305.4 1581.1,316 1582.7,301.1 1584.4,309.9 1586,300.4 1587.7,313.7 1589.3,304.6 1590.9,291.1 1592.6,303 1594.2,300.1 1595.9,306.2 1597.5,290.8 1599.1,308.4 1600.8,287.4 1602.4,304.1 1604.1,287.1 1605.7,291.8 1607.3,301.9 1609,290.9 1610.6,295.4 1612.3,281 1613.9,297.5 1615.5,285.1 1617.2,300.5 1618.8,282.7 1620.5,299.3 1622.1,298.5 1623.7,295.8 1625.4,303.4 1627,292.7 1628.7,295.9 1630.3,316 1631.9,305 1633.6,318 1635.2,321.1 1636.9,326 1638.5,313.2 1640.1,326.1 1641.8,318.1 1643.4,326.9 1645.1,318.9 1646.7,332.5 1648.3,316.5 1650,332 1651.6,331.9 1653.3,308.6 1654.9,316.5 1656.6,294 1658.2,311.3 1659.8,292.5 1661.5,312 1663.1,300.1 1664.8,293.7 1666.4,316.1 1668,305.8 1669.7,318.6 1671.3,307.4 1673,332.9 1674.6,322.8 1676.2,317.5 1677.9,334.5 1679.5,321.2 1681.2,335.3 1682.8,325 1684.4,329.7 1686.1,341.1 1687.7,325.8 1689.4,340 1691,338.5 1692.6,324 1694.3,339.4 1695.9,327.9 1697.6,336.1 1699.2,323.6 1700.8,338.5 1702.5,348.9 1704.1,331.3 1705.8,347 1707.4,338.2 1709,350.9 1710.7,339.3 1712.3,336.5 1714,349.8 1715.6,348.9 1717.2,332.5 1718.9,333.9 1720.5,337.3 1722.2,346.1 1723.8,337.3 1725.5,331 1727.1,351 1728.7,353.3 1730.4,334.2 1732,345.4 1733.7,333.1 1735.3,351.1 1736.9,337.1 1738.6,334.8 1740.2,350.2 1741.9,336.4 1743.5,349.6 1745.1,334.2 1746.8,331.8 1748.4,352.3 1750.1,336.5 1751.7,335.6 1753.3,343.4 1755,327.8 1756.6,336.9 1758.3,323 1759.9,342.6 1761.5,343.8 1763.2,325.4 1764.8,340.6 1766.5,340.6 1768.1,323.1 1769.7,336 1771.4,339.1 1773,325.8 1774.7,337.6 1776.3,327.8 1777.9,326.1 1779.6,322.2 1781.2,328.1 1782.9,342.4 1784.5,327.2 1786.2,338.5 1787.8,342.1 1789.4,347.9 1791.1,344.5 1792.7,333.1 1794.4,343.5 1796,350.2 1797.6,334.1 1799.3,343.7 1800.9,331.9 1802.6,354.1 1804.2,363.4 1805.8,375 1807.5,361.8 1809.1,374.3 1810.8,357.7 1812.4,376.4 1814,368.6 1815.7,355.2 1817.3,345.1 1819,349 1820.6,343.5 1822.2,352.3 1823.9,342.2 1825.5,356.6 1827.2,341.1 1828.8,362.2 1830.4,342.2 1832.1,361.4 1833.7,358.1 1835.4,340 1837,350.5 1838.6,338.4 1840.3,333.7 1841.9,348.7 1843.6,336.9 1845.2,333.2 1846.8,334.9 1848.5,350 1850.1,334.8 1851.8,349.8 1853.4,340.4 1855.1,338.4 1856.7,353.3 1858.3,345.9 1860,368.8 1861.6,367 1863.3,368.3 1864.9,351.9 1866.5,347.8 1868.2,361.8 1869.8,347.2 1871.5,362.6 1873.1,347.8 1874.7,365 1876.4,351.4 1878,364.4 1879.7,351.9 1881.3,357.4 1882.9,352.8 1884.6,345.8 1886.2,325.2 1887.9,328.1 1889.5,332.9 1891.1,313 1892.8,327.5 1894.4,306.7 1896.1,324.6 1897.7,324.1 1899.3,306.4 1901,306.3 1902.6,306 1904.3,307.3 1905.9,301.9 1907.5,297.2 1909.2,295.6 1910.8,298.8 1912.5,292.4 1914.1,311.5 1915.8,296.5 1917.4,312.2 1919,299.9 1920.7,297.7 1922.3,307.6 1924,290.7 1925.6,305.8 1927.2,305.6 1928.9,297.8 1930.5,298.7 1932.2,301.3 1933.8,290.8 1935.4,302.9 1937.1,289.6 1938.7,305.9 1940.4,287.8 1942,310.8 1943.6,288.9 1945.3,305.8 1946.9,290.5 1948.6,286.9 1950.2,288.3 1951.8,290.7 1953.5,307.3 1955.1,294.9 1956.8,315.5 1958.4,320.8 1960,302.4 1961.7,313.8 1963.3,291.2 1965,307.9 1966.6,294.7 1968.2,308.4 1969.9,287.9 1971.5,292.2 1973.2,308.5 1974.8,290 1976.4,315.1 1978.1,299.1 1979.7,299.8 1981.4,317.9 1983,319.8 1984.7,301.4 1986.3,318.7 1987.9,300.7 1989.6,307.3 1991.2,318.2 1992.9,305.3 1994.5,314 1996.1,290.9 1997.8,299.1 1999.4,292.4 2001.1,304.7 2002.7,312.5 2004.3,307.9 2006,298 2007.6,296.4 2009.3,306.1 2010.9,307.2 2012.5,284.4 2014.2,304.9 2015.8,298.9 2017.5,290.5 2019.1,304 2020.7,301.2 2022.4,289.5 2024,304.4 2025.7,295 2027.3,309.2 2028.9,295.7 2030.6,299.8 2032.2,296.8 2033.9,314.7 2035.5,297.7 2037.1,296.2 2038.8,297.9 2040.4,303.8 2042.1,294.9 2043.7,298.8" stroke="#66c63a"/>
</g>
<rect x="1729.4" y="69.5" width="316.2" height="80.3" fill="#fff" stroke="#1c1c1c" stroke-width="1.9"/>
<path d="M1742.3,92.3H1863.1" fill="none" stroke="#0903ea" stroke-width="4.9" stroke-dasharray="18.2 4.7 9 4.7"/>
<path d="M1742.3,127H1863.1" fill="none" stroke="#66c63a" stroke-width="4.8"/>
<text class="lg" x="1872.4" y="102.3">GT</text>
<text class="lg" x="1872.4" y="137">Lucas-Kanade</text>
<text class="tk" x="1225.1" y="434.2" text-anchor="middle">0</text>
<text class="tk" x="1348" y="434.2" text-anchor="middle">5</text>
<text class="tk" x="1470.9" y="434.2" text-anchor="middle">10</text>
<text class="tk" x="1593.8" y="434.2" text-anchor="middle">15</text>
<text class="tk" x="1716.8" y="434.2" text-anchor="middle">20</text>
<text class="tk" x="1839.7" y="434.2" text-anchor="middle">25</text>
<text class="tk" x="1962.6" y="434.2" text-anchor="middle">30</text>
<text class="tk" x="2085.5" y="434.2" text-anchor="middle">35</text>
<text class="tk" x="1211.2" y="39.6" text-anchor="end">2</text>
<text class="tk" x="1211.2" y="112.5" text-anchor="end">1</text>
<text class="tk" x="1211.2" y="185.4" text-anchor="end">0</text>
<text class="tk" x="1211.2" y="258.4" text-anchor="end">-1</text>
<text class="tk" x="1211.2" y="331.3" text-anchor="end">-2</text>
<text class="tk" x="1211.2" y="404.2" text-anchor="end">-3</text>
<text class="lb" x="1655.3" y="471.6" text-anchor="middle">Time(s)</text>
<text class="lb" transform="translate(1170.2,212.5) rotate(-90)" text-anchor="middle">Displacement(pixel)</text>
</g>
<g id="p10">
<text class="tt" x="523" y="530.2" text-anchor="middle">point</text>
<g stroke="#1f1f1f" stroke-width="2.05" fill="none">
<rect x="92.9" y="536.9" width="860.2" height="364.7"/>
<path d="M92.9,901.6v-9.2M92.9,536.9v9.2M215.8,901.6v-9.2M215.8,536.9v9.2M338.7,901.6v-9.2M338.7,536.9v9.2M461.6,901.6v-9.2M461.6,536.9v9.2M584.5,901.6v-9.2M584.5,536.9v9.2M707.4,901.6v-9.2M707.4,536.9v9.2M830.3,901.6v-9.2M830.3,536.9v9.2M953.1,901.6v-9.2M953.1,536.9v9.2M92.9,594h9.2M953.1,594h-9.2M92.9,685.3h9.2M953.1,685.3h-9.2M92.9,776.6h9.2M953.1,776.6h-9.2M92.9,867.8h9.2M953.1,867.8h-9.2"/>
</g>
<clipPath id="c10"><rect x="90.5" y="534.5" width="865" height="369.5"/></clipPath>
<g clip-path="url(#c10)" fill="none" stroke-width="4.8" stroke-linejoin="round">
<polyline points="92.9,687.1 94.5,684 96.2,687.1 97.8,682.8 99.5,681.3 101.1,684.8 102.7,681.3 104.4,684.7 106,680.1 107.7,679.7 109.3,680.5 110.9,683.4 112.6,679.6 114.2,684.1 115.9,682.7 117.5,680.3 119.1,684.3 120.8,680.6 122.4,682.8 124.1,682.9 125.7,680.5 127.3,683.4 129,683.9 130.6,680.9 132.3,684.6 133.9,680.3 135.5,684.3 137.2,686.4 138.8,683.8 140.5,687.1 142.1,684.2 143.7,687.8 145.4,687.9 147,684.7 148.7,687.5 150.3,688.9 151.9,688.2 153.6,681.9 155.2,685.7 156.9,681.6 158.5,685.8 160.1,681.3 161.8,678.4 163.4,680.1 165.1,684.2 166.7,680 168.3,680.6 170,684.7 171.6,685.1 173.3,680.2 174.9,683.8 176.6,684.6 178.2,682.8 179.8,680.7 181.5,680.2 183.1,681.4 184.8,677.8 186.4,679.6 188,676.9 189.7,676.2 191.3,676.3 193,677.9 194.6,674.6 196.2,676.1 197.9,673.9 199.5,674.4 201.2,676.3 202.8,676.9 204.4,674.7 206.1,673.5 207.7,675.5 209.4,672.4 211,675.1 212.6,673.9 214.3,673.5 215.9,671.3 217.6,672.9 219.2,670.4 220.8,672.7 222.5,669.5 224.1,672.2 225.8,669.1 227.4,671.2 229,667.9 230.7,670.3 232.3,668.6 234,670.4 235.6,671.9 237.2,674 238.9,670.3 240.5,669.2 242.2,666.7 243.8,665.7 245.4,665.6 247.1,665.4 248.7,666.8 250.4,664.6 252,664.9 253.6,664.5 255.3,667.8 256.9,665.9 258.6,667.9 260.2,665.5 261.8,668.8 263.5,666.3 265.1,668 266.8,665.5 268.4,667.5 270,665.7 271.7,665.6 273.3,665.8 275,669.3 276.6,668.9 278.2,673.6 279.9,675.7 281.5,679 283.2,681.1 284.8,681.8 286.4,682.2 288.1,683.8 289.7,685.6 291.4,689.2 293,691.2 294.6,693.8 296.3,695.5 297.9,695.6 299.6,697.2 301.2,698.6 302.8,700.9 304.5,701.6 306.1,703.4 307.8,706.3 309.4,708.2 311,708.9 312.7,708.7 314.3,710.3 316,711.1 317.6,711.1 319.2,713.1 320.9,712.7 322.5,715.2 324.2,715.7 325.8,718.2 327.5,719 329.1,720.9 330.7,721.1 332.4,722 334,723 335.7,725 337.3,724.6 338.9,727.9 340.6,725.9 342.2,729.5 343.9,724.2 345.5,722.7 347.1,724.3 348.8,731.5 350.4,726.2 352.1,730.2 353.7,728.1 355.3,728.4 357,725.8 358.6,729.6 360.3,729.2 361.9,731.6 363.5,729.3 365.2,732.3 366.8,729.3 368.5,728.8 370.1,735.1 371.7,735.5 373.4,733.2 375,730.9 376.7,732.1 378.3,733.8 379.9,731 381.6,734.2 383.2,733.3 384.9,731.9 386.5,734.3 388.1,731.1 389.8,734.5 391.4,731.7 393.1,733 394.7,733.2 396.3,733.4 398,730.8 399.6,733.7 401.3,731.1 402.9,733.4 404.5,733.5 406.2,730.6 407.8,731.3 409.5,734.3 411.1,733.6 412.7,730.3 414.4,728.2 416,726.9 417.7,730.5 419.3,731.8 420.9,724.1 422.6,730 424.2,723.5 425.9,731.3 427.5,728.7 429.1,721.1 430.8,721.4 432.4,722.1 434.1,730.4 435.7,727.8 437.3,722 439,730.6 440.6,720.9 442.3,729.5 443.9,722.4 445.5,729.7 447.2,723.1 448.8,731.4 450.5,723.4 452.1,729 453.7,729.4 455.4,730.6 457,729 458.7,731.5 460.3,723.1 461.9,724.2 463.6,729.8 465.2,723.7 466.9,732.9 468.5,723.6 470.1,723.5 471.8,726.6 473.4,731 475.1,730.8 476.7,734.4 478.4,732.9 480,725 481.6,723.1 483.3,730.6 484.9,722.9 486.6,721.6 488.2,722.6 489.8,730.4 491.5,729.7 493.1,727.7 494.8,726.7 496.4,726.8 498,733.3 499.7,728.2 501.3,732.2 503,727.6 504.6,730.3 506.2,731.3 507.9,725.8 509.5,726.6 511.2,726.2 512.8,729.6 514.4,725.3 516.1,728.2 517.7,724.5 519.4,730.1 521,723.9 522.6,730 524.3,723.2 525.9,723.3 527.6,726.5 529.2,723.7 530.8,728.9 532.5,724.6 534.1,730.3 535.8,726.8 537.4,731.6 539,727.8 540.7,727.8 542.3,731.5 544,731 545.6,726.2 547.2,733 548.9,726.4 550.5,731.3 552.2,733.5 553.8,732.9 555.4,733.6 557.1,728.7 558.7,727.9 560.4,732.2 562,728.8 563.6,732.2 565.3,733.1 566.9,733 568.6,726.6 570.2,730.2 571.8,726.8 573.5,731.6 575.1,729.3 576.8,731.7 578.4,729.7 580,732.5 581.7,730.8 583.3,733.8 585,733.4 586.6,732.1 588.2,734 589.9,732.1 591.5,734.5 593.2,731.8 594.8,733.7 596.4,732 598.1,735.1 599.7,731.9 601.4,733.6 603,731.6 604.6,733.5 606.3,730.9 607.9,734.1 609.6,733.2 611.2,730.4 612.8,734.5 614.5,733.6 616.1,733.7 617.8,729.2 619.4,732.5 621,730 622.7,728.2 624.3,729 626,731.5 627.6,727.8 629.2,727.6 630.9,732.6 632.5,728.4 634.2,732.2 635.8,728.8 637.5,732.6 639.1,731.8 640.7,734.9 642.4,734 644,727.6 645.7,729 647.3,732.4 648.9,727.4 650.6,732.5 652.2,729 653.9,728.7 655.5,731 657.1,728 658.8,732.7 660.4,727.5 662.1,731.4 663.7,728.4 665.3,731.6 667,732 668.6,728.5 670.3,728.2 671.9,727.9 673.5,732.9 675.2,729.2 676.8,730.1 678.5,735.7 680.1,736.4 681.7,735.5 683.4,730.3 685,733.2 686.7,731 688.3,727 689.9,730.5 691.6,727.6 693.2,725.5 694.9,726.1 696.5,731.7 698.1,729.7 699.8,732.5 701.4,731 703.1,734.8 704.7,730.8 706.3,735.4 708,732.7 709.6,735.8 711.3,733.3 712.9,733.4 714.5,733.4 716.2,736.2 717.8,732.6 719.5,736.8 721.1,730.3 722.7,733.2 724.4,727 726,730.3 727.7,725 729.3,729.9 730.9,724.1 732.6,727.9 734.2,724.7 735.9,729.3 737.5,726 739.1,729.5 740.8,726.8 742.4,731.1 744.1,728.4 745.7,732.4 747.3,730.2 749,734.9 750.6,729.2 752.3,732.5 753.9,728.2 755.5,730.9 757.2,725.6 758.8,727.4 760.5,723.6 762.1,725.5 763.7,721.7 765.4,723.2 767,719.1 768.7,722.1 770.3,717.3 771.9,722.1 773.6,716.6 775.2,719.1 776.9,715.5 778.5,714.5 780.1,716.7 781.8,714.4 783.4,719.6 785.1,716 786.7,717 788.4,720.5 790,716.5 791.6,718.8 793.3,714.9 794.9,715.4 796.6,713.7 798.2,715.6 799.8,713.5 801.5,714.6 803.1,714.8 804.8,719.7 806.4,715.4 808,720.7 809.7,714.3 811.3,719.8 813,717.3 814.6,713.5 816.2,714.7 817.9,718.3 819.5,714.8 821.2,716.4 822.8,715.7 824.4,721.7 826.1,721.4 827.7,721 829.4,718.1 831,719.7 832.6,719.2 834.3,716.2 835.9,719.9 837.6,719.3 839.2,714.2 840.8,715.2 842.5,713.4 844.1,714.3 845.8,717.7 847.4,714.5 849,719.9 850.7,716.2 852.3,720.4 854,718.6 855.6,720.9 857.2,720.5 858.9,715.4 860.5,719.5 862.2,713.3 863.8,715.3 865.4,713 867.1,713.8 868.7,718.5 870.4,714.8 872,713.6 873.6,718.8 875.3,718.2 876.9,720 878.6,719.8 880.2,715.5 881.8,719.1 883.5,715.6 885.1,720.1 886.8,714.1 888.4,714.1 890,713.2 891.7,715 893.3,713.9 895,717.4 896.6,718 898.2,717.9 899.9,715.1 901.5,714.6 903.2,718.2 904.8,718.8 906.4,716.2 908.1,712.5 909.7,713.1 911.4,714.9" stroke="#0903ea" stroke-width="4.9" stroke-dasharray="18.2 4.7 9 4.7"/>
<polyline points="92.9,684.5 93.7,690.1 94.5,690.9 95.4,693.7 96.2,686.7 97,686.2 97.8,696 98.6,686.8 99.5,696.1 100.3,697.5 101.1,698.2 101.9,693.4 102.7,698.5 103.6,694.3 104.4,699.8 105.2,700.4 106,702.3 106.8,700.5 107.6,702.5 108.5,698.4 109.3,705.2 110.1,704.2 110.9,705.8 111.7,704.6 112.6,700.4 113.4,705.9 114.2,698.3 115,706.5 115.8,705.9 116.7,697.4 117.5,700.2 118.3,704.7 119.1,705 119.9,698.3 120.8,695.7 121.6,697.8 122.4,695.2 123.2,698.6 124,703.7 124.9,696.8 125.7,705 126.5,698.9 127.3,695.4 128.1,704.1 128.9,705.2 129.8,699.6 130.6,702.4 131.4,702.5 132.2,714.2 133,714.1 133.9,715.6 134.7,714.1 135.5,705.9 136.3,707.9 137.1,705.3 138,701.2 138.8,700.4 139.6,703.7 140.4,704.6 141.2,706.5 142.1,699 142.9,702.6 143.7,697.8 144.5,704.2 145.3,703.6 146.2,701.9 147,695.9 147.8,698.9 148.6,694 149.4,699.3 150.2,697.4 151.1,700 151.9,697.1 152.7,690.4 153.5,694.1 154.3,699.8 155.2,703.9 156,703.5 156.8,700.2 157.6,701.2 158.4,708.6 159.3,705.5 160.1,703.7 160.9,706.3 161.7,706.6 162.5,712 163.4,705.7 164.2,704.2 165,713.5 165.8,705.5 166.6,706.9 167.5,710.6 168.3,711.7 169.1,710.9 169.9,706.8 170.7,704.9 171.6,712.3 172.4,703.4 173.2,703.3 174,700.1 174.8,709.6 175.6,707.1 176.5,705.1 177.3,700 178.1,705.6 178.9,705.9 179.7,698 180.6,697.4 181.4,705.7 182.2,697.7 183,696.2 183.8,698.3 184.7,701.9 185.5,701.7 186.3,703 187.1,697.9 187.9,695.6 188.8,701.8 189.6,697.1 190.4,695.8 191.2,701.4 192,693.6 192.9,695.9 193.7,695.4 194.5,697.9 195.3,693.8 196.1,690.9 196.9,691.2 197.8,696.4 198.6,694 199.4,693.6 200.2,695.2 201,693.9 201.9,694.1 202.7,687.2 203.5,689.3 204.3,698.2 205.1,693.1 206,698.5 206.8,690.2 207.6,696 208.4,694.7 209.2,692.5 210.1,685.4 210.9,685.9 211.7,694.6 212.5,687.7 213.3,697 214.2,694.4 215,698.2 215.8,691.2 216.6,691.2 217.4,696.9 218.3,688.8 219.1,695.3 219.9,697.3 220.7,696.4 221.5,699.3 222.3,692.5 223.2,700.1 224,703.3 224.8,704 225.6,707.3 226.4,707 227.3,708.3 228.1,698.7 228.9,693.7 229.7,678 230.5,670.7 231.4,671.3 232.2,668.6 233,872.9 233.8,669.2 234.6,876.8 235.5,671.5 236.3,879 237.1,670.3 237.9,883.7 238.7,667.6 239.6,886 240.4,671 241.2,889.3 242,667 242.8,893.3 243.6,668.2 244.5,893.9 245.3,682.7 246.1,682.5 246.9,683.2 247.7,682 248.6,674 249.4,675.3 250.2,681.5 251,680.4 251.8,678.5 252.7,671 253.5,676 254.3,682.8 255.1,683.6 255.9,678.3 256.8,682.5 257.6,690.7 258.4,694.6 259.2,688.8 260,696.3 260.9,691.9 261.7,693.5 262.5,695.6 263.3,698.8 264.1,697.4 265,696.3 265.8,693.6 266.6,695.2 267.4,702.1 268.2,699.7 269,689.8 269.9,698.3 270.7,690 271.5,693.6 272.3,684.1 273.1,679.4 274,676.2 274.8,681.5 275.6,675.6 276.4,677.8 277.2,682.5 278.1,688.9 278.9,699.9 279.7,702.2 280.5,702 281.3,692.7 282.2,688.1 283,680.4 283.8,678.2 284.6,678.5 285.4,673.5 286.3,674.5 287.1,674.3 287.9,680.2 288.7,679.1 289.5,879.5 290.3,672.6 291.2,679.8 292,671.4 292.8,674.1 293.6,673.1 294.4,672.2 295.3,673 296.1,682.4 296.9,676.8 297.7,678 298.5,686.4 299.4,680.6 300.2,687.9 301,684.4 301.8,682.6 302.6,690.4 303.5,684.6 304.3,696 305.1,689.4 305.9,696.5 306.7,697.1 307.6,689.5 308.4,692.9 309.2,694.4 310,696 310.8,692.6 311.6,687.8 312.5,690.5 313.3,693.3 314.1,701.7 314.9,703.3 315.7,693.9 316.6,693.7 317.4,697.8 318.2,686.8 319,682.7 319.8,685 320.7,683.6 321.5,670.2 322.3,665.6 323.1,663.3 323.9,677.2 324.8,669.9 325.6,683.1 326.4,683.7 327.2,690.2 328,688.4 328.9,700 329.7,696.8 330.5,706.7 331.3,702.5 332.1,697.4 333,704.1 333.8,696.1 334.6,693.3 335.4,694 336.2,698.6 337,697.6 337.9,698.2 338.7,695.4 339.5,694.6 340.3,697.8 341.1,696 342,698.2 342.8,698.6 343.6,693.3 344.4,699 345.2,695.7 346.1,694.9 346.9,701.7 347.7,702.1 348.5,705.5 349.3,703.3 350.2,700.1 351,705.7 351.8,707.4 352.6,706.8 353.4,700.7 354.3,700.1 355.1,707.1 355.9,705.1 356.7,697.6 357.5,706.6 358.3,703.7 359.2,704.3 360,698.9 360.8,706.5 361.6,698.2 362.4,705.5 363.3,698.6 364.1,697.2 364.9,697.9 365.7,703.5 366.5,695.9 367.4,698.5 368.2,694.3 369,698 369.8,689.7 370.6,691.8 371.5,689.6 372.3,698 373.1,699.9 373.9,695.1 374.7,693.6 375.6,703.9 376.4,696.6 377.2,699.6 378,698.4 378.8,701.1 379.6,699.1 380.5,702.5 381.3,702.1 382.1,704.8 382.9,711.3 383.7,703.9 384.6,706.9 385.4,697 386.2,703.9 387,702.9 387.8,698.4 388.7,686.8 389.5,684.3 390.3,691.1 391.1,693 391.9,691.9 392.8,700.1 393.6,695.2 394.4,709 395.2,702.8 396,709.8 396.9,703.6 397.7,709.6 398.5,703.9 399.3,712.9 400.1,705 401,711.1 401.8,712.7 402.6,706.6 403.4,704.5 404.2,710.2 405,704.5 405.9,713 406.7,707.2 407.5,706.8 408.3,707.2 409.1,705.5 410,714 410.8,715.9 411.6,708.6 412.4,718.3 413.2,718.7 414.1,716.3 414.9,710 415.7,715.5 416.5,707.2 417.3,707.7 418.2,713.2 419,705.6 419.8,711.7 420.6,704.9 421.4,707.9 422.3,703.9 423.1,708.8 423.9,705.4 424.7,707.6 425.5,696.9 426.3,697.1 427.2,696.8 428,695.9 428.8,702.9 429.6,703 430.4,695.6 431.3,701.4 432.1,698.1 432.9,691.1 433.7,697.7 434.5,689.8 435.4,698.6 436.2,699.4 437,692 437.8,696.7 438.6,698 439.5,706 440.3,700 441.1,699.7 441.9,710 442.7,703.3 443.6,704.5 444.4,712.4 445.2,709.4 446,702.3 446.8,702.6 447.7,709.1 448.5,704.3 449.3,702.6 450.1,702.2 450.9,710 451.7,701.9 452.6,710.9 453.4,704.1 454.2,712.6 455,710 455.8,704.6 456.7,707.2 457.5,703.1 458.3,700 459.1,701.1 459.9,697 460.8,703.2 461.6,698.3 462.4,698 463.2,698.2 464,700.9 464.9,707.5 465.7,702.6 466.5,708 467.3,704 468.1,709.6 469,703.8 469.8,712.6 470.6,704.3 471.4,711.1 472.2,713.3 473,702.7 473.9,710.3 474.7,702.3 475.5,710.2 476.3,702.8 477.1,708.4 478,705.4 478.8,700.5 479.6,705.5 480.4,706.1 481.2,699.6 482.1,699.1 482.9,706.6 483.7,698.3 484.5,707.4 485.3,699.2 486.2,706.8 487,700.6 487.8,698.9 488.6,704.3 489.4,696.6 490.3,705.6 491.1,697.8 491.9,705.7 492.7,697.7 493.5,698.4 494.4,700.4 495.2,700.3 496,706.5 496.8,704.6 497.6,705.9 498.4,706.4 499.3,697.7 500.1,703.8 500.9,703.6 501.7,704.6 502.5,699.4 503.4,705.8 504.2,702 505,709.8 505.8,710 506.6,701 507.5,703.3 508.3,710 509.1,712.7 509.9,705.5 510.7,705.1 511.6,710.9 512.4,707.5 513.2,707 514,706.1 514.8,707.4 515.7,710.9 516.5,710.8 517.3,709.3 518.1,712.6 518.9,711.5 519.7,708.6 520.6,706.5 521.4,711.1 522.2,711.7 523,708.5 523.8,700 524.7,700.7 525.5,705.3 526.3,699.7 527.1,699.7 527.9,708.2 528.8,700.9 529.6,703.2 530.4,703.9 531.2,714.6 532,707.1 532.9,712.9 533.7,710.6 534.5,714.4 535.3,708.6 536.1,715.5 537,705.8 537.8,705.9 538.6,705.2 539.4,712.3 540.2,705 541,710.5 541.9,700.6 542.7,702.4 543.5,700.3 544.3,705.1 545.1,698.3 546,701.3 546.8,702.1 547.6,707 548.4,711.2 549.2,708.6 550.1,712.6 550.9,711.1 551.7,706.7 552.5,711.8 553.3,704.9 554.2,703.4 555,709.7 555.8,701.3 556.6,710.4 557.4,710.1 558.3,699 559.1,700 559.9,698.4 560.7,706.8 561.5,698.1 562.4,698.4 563.2,696 564,702.4 564.8,702.8 565.6,695.5 566.4,704.7 567.3,697.9 568.1,695.9 568.9,697.4 569.7,705.2 570.5,699.1 571.4,703.4 572.2,698.1 573,707.3 573.8,700.8 574.6,699 575.5,701.2 576.3,699.6 577.1,699.8 577.9,709.6 578.7,709.2 579.6,702.5 580.4,709.7 581.2,709.9 582,711.9 582.8,710.4 583.7,714.3 584.5,711.3 585.3,706.3 586.1,704.8 586.9,704.5 587.7,703.8 588.6,713.2 589.4,711.1 590.2,704.4 591,713.2 591.8,706.6 592.7,713.7 593.5,704.7 594.3,714.1 595.1,705 595.9,703.9 596.8,712.5 597.6,706 598.4,712.2 599.2,703.7 600,706.5 600.9,710.8 601.7,703.7 602.5,706.2 603.3,710.5 604.1,704.5 605,712.6 605.8,706.6 606.6,706.3 607.4,713.5 608.2,707.1 609,704.2 609.9,705.2 610.7,706.8 611.5,713.8 612.3,713.5 613.1,704.4 614,707.2 614.8,708.3 615.6,708.7 616.4,710.1 617.2,717.3 618.1,714.4 618.9,714.8 619.7,724 620.5,718 621.3,724.1 622.2,715.7 623,717.7 623.8,712.2 624.6,715.7 625.4,714.5 626.3,711.4 627.1,704.9 627.9,704.7 628.7,710.8 629.5,702.9 630.4,702.7 631.2,710.1 632,702.6 632.8,708.9 633.6,708 634.4,703.3 635.3,702.8 636.1,707.4 636.9,699.9 637.7,708.4 638.5,701.2 639.4,710.7 640.2,702.7 641,704.5 641.8,709.6 642.6,708.8 643.5,708.4 644.3,703.1 645.1,710 645.9,711.8 646.7,711.4 647.6,712.5 648.4,712.7 649.2,703.9 650,713.1 650.8,711.8 651.7,707.5 652.5,714.5 653.3,705.9 654.1,706.9 654.9,711.5 655.7,714.7 656.6,713.9 657.4,712.7 658.2,709.8 659,716.1 659.8,708.6 660.7,717.6 661.5,710.6 662.3,716.4 663.1,717.1 663.9,720.8 664.8,715.7 665.6,719.5 666.4,721.1 667.2,717.1 668,722.8 668.9,721.8 669.7,714.7 670.5,713.2 671.3,713.9 672.1,713.4 673,722.5 673.8,719.8 674.6,721.9 675.4,712.6 676.2,721.2 677.1,720.7 677.9,712.2 678.7,710.4 679.5,709.1 680.3,718.2 681.1,715.2 682,714.8 682.8,712.8 683.6,705.9 684.4,703.7 685.2,708.5 686.1,709.9 686.9,702.5 687.7,699.2 688.5,699.5 689.3,705.1 690.2,698.5 691,699 691.8,697.3 692.6,696.3 693.4,697.7 694.3,703 695.1,702.7 695.9,697.7 696.7,696.4 697.5,704 698.4,704.1 699.2,696.9 700,706.3 700.8,696.8 701.6,699.4 702.4,705 703.3,706.5 704.1,706.9 704.9,696.6 705.7,705.6 706.5,697.1 707.4,698.2 708.2,707.2 709,702 709.8,709 710.6,704.5 711.5,710.1 712.3,702.5 713.1,710.6 713.9,707.4 714.7,711.5 715.6,711.9 716.4,712 717.2,706.4 718,713.9 718.8,713.2 719.7,711.9 720.5,708.1 721.3,706.5 722.1,714 722.9,704 723.8,711.1 724.6,714.4 725.4,707 726.2,712.9 727,715.9 727.8,707.3 728.7,713.2 729.5,707.6 730.3,717.3 731.1,717.2 731.9,710.1 732.8,711.3 733.6,719.8 734.4,717.9 735.2,713.1 736,720.5 736.9,714 737.7,717.8 738.5,710.6 739.3,712 740.1,718.8 741,716.3 741.8,709.2 742.6,710.5 743.4,713.7 744.2,705.7 745.1,712.6 745.9,705 746.7,713.4 747.5,705.9 748.3,711.9 749.1,711.9 750,704.3 750.8,702.9 751.6,702.4 752.4,708.5 753.2,707.5 754.1,699.4 754.9,706.8 755.7,705.1 756.5,705.2 757.3,704.3 758.2,698.6 759,703.8 759.8,696.1 760.6,696.3 761.4,693.5 762.3,696.2 763.1,701.4 763.9,703.7 764.7,701.1 765.5,697.1 766.4,705.2 767.2,701.4 768,707.6 768.8,702 769.6,702.5 770.4,711.2 771.3,703.9 772.1,705.9 772.9,705.3 773.7,708.9 774.5,714.6 775.4,707.6 776.2,707.8 777,716.6 777.8,709.8 778.6,709.9 779.5,707.4 780.3,707.4 781.1,707.7 781.9,716.1 782.7,710.4 783.6,715.9 784.4,709 785.2,710.8 786,711.5 786.8,710.2 787.7,718 788.5,717.7 789.3,708.6 790.1,710.3 790.9,715.9 791.8,710.1 792.6,708.9 793.4,706.9 794.2,717.1 795,716 795.8,709.4 796.7,705.8 797.5,713.6 798.3,708.4 799.1,701.9 799.9,708.9 800.8,697.6 801.6,694 802.4,698.9 803.2,696.5 804,693.1 804.9,691 805.7,681.4 806.5,689 807.3,689.6 808.1,681.3 809,691 809.8,693.8 810.6,686.6 811.4,694 812.2,696.9 813.1,687.6 813.9,697.6 814.7,696.8 815.5,697.8 816.3,690.7 817.1,695.7 818,689.3 818.8,690.4 819.6,691 820.4,700.6 821.2,700.5 822.1,694.9 822.9,703.9 823.7,696.3 824.5,704.1 825.3,697.9 826.2,706.1 827,706.7 827.8,698.2 828.6,700.8 829.4,701.5 830.3,702.9 831.1,707.8 831.9,708.4 832.7,708.5 833.5,708.2 834.4,709.8 835.2,707.6 836,703.3 836.8,701.3 837.6,710.2 838.4,711.9 839.3,710.4 840.1,711.6 840.9,705.6 841.7,701.8 842.5,708.1 843.4,703.5 844.2,708.9 845,706.8 845.8,709.6 846.6,701.4 847.5,705.6 848.3,698.5 849.1,708.4 849.9,698.9 850.7,707.4 851.6,699.3 852.4,704 853.2,698.7 854,703.3 854.8,707.4 855.7,708.3 856.5,699 857.3,707.9 858.1,704.1 858.9,704.2 859.8,702.8 860.6,704.9 861.4,707.9 862.2,704.8 863,708.8 863.8,710 864.7,707.5 865.5,712 866.3,712.2 867.1,710.7 867.9,717.2 868.8,714.3 869.6,708.3 870.4,713.2 871.2,705.6 872,705.3 872.9,705.4 873.7,709 874.5,708.6 875.3,708.6 876.1,698.7 877,699.2 877.8,699 878.6,707.3 879.4,700.8 880.2,705.9 881.1,704.2 881.9,698.3 882.7,704.1 883.5,707.5 884.3,699.7 885.1,699.4 886,697.1 886.8,705.8 887.6,699.4 888.4,707.8 889.2,702.2 890.1,704.1 890.9,709.6 891.7,706.5 892.5,711.1 893.3,705.1 894.2,708.1 895,714.1 895.8,711.2 896.6,717.2 897.4,720.6 898.3,718.3 899.1,711 899.9,712.9 900.7,716.8 901.5,710.6 902.4,711.5 903.2,713.5 904,717.2 904.8,712.9 905.6,712.5 906.5,711 907.3,709.2 908.1,716.5 908.9,718.7 909.7,712.6 910.5,718.1 911.4,709.2" stroke="#23e1a7"/>
</g>
<rect x="624.3" y="576.2" width="290.5" height="80.3" fill="#fff" stroke="#1c1c1c" stroke-width="1.9"/>
<path d="M636.9,599H680.2" fill="none" stroke="#0903ea" stroke-width="4.9" stroke-dasharray="18.2 4.7 9 4.7"/>
<path d="M679.6,599H757.7" fill="none" stroke="#0903ea" stroke-width="4.9" stroke-dasharray="18.2 4.7 9 4.7"/>
<path d="M636.9,633.7H757.7" fill="none" stroke="#23e1a7" stroke-width="4.8"/>
<text class="lg" x="767" y="609">GT</text>
<text class="lg" x="767" y="643.7">Faster-Rcnn</text>
<text class="tk" x="92.9" y="941" text-anchor="middle">0</text>
<text class="tk" x="215.8" y="941" text-anchor="middle">5</text>
<text class="tk" x="338.7" y="941" text-anchor="middle">10</text>
<text class="tk" x="461.6" y="941" text-anchor="middle">15</text>
<text class="tk" x="584.5" y="941" text-anchor="middle">20</text>
<text class="tk" x="707.4" y="941" text-anchor="middle">25</text>
<text class="tk" x="830.3" y="941" text-anchor="middle">30</text>
<text class="tk" x="953.1" y="941" text-anchor="middle">35</text>
<text class="tk" x="79" y="603.4" text-anchor="end">5</text>
<text class="tk" x="79" y="694.7" text-anchor="end">0</text>
<text class="tk" x="79" y="786" text-anchor="end">-5</text>
<text class="tk" x="79" y="877.2" text-anchor="end">-10</text>
<text class="lb" x="523" y="978.4" text-anchor="middle">Time(s)</text>
<text class="lb" transform="translate(25,719.2) rotate(-90)" text-anchor="middle">Displacement(pixel)</text>
</g>
<g id="p11">
<text class="tt" x="1655.3" y="530.2" text-anchor="middle">point</text>
<g stroke="#1f1f1f" stroke-width="2.05" fill="none">
<rect x="1225.1" y="536.9" width="860.4" height="364.7"/>
<path d="M1225.1,901.6v-9.2M1225.1,536.9v9.2M1348,901.6v-9.2M1348,536.9v9.2M1470.9,901.6v-9.2M1470.9,536.9v9.2M1593.8,901.6v-9.2M1593.8,536.9v9.2M1716.8,901.6v-9.2M1716.8,536.9v9.2M1839.7,901.6v-9.2M1839.7,536.9v9.2M1962.6,901.6v-9.2M1962.6,536.9v9.2M2085.5,901.6v-9.2M2085.5,536.9v9.2M1225.1,536.9h9.2M2085.5,536.9h-9.2M1225.1,628.1h9.2M2085.5,628.1h-9.2M1225.1,719.2h9.2M2085.5,719.2h-9.2M1225.1,810.4h9.2M2085.5,810.4h-9.2M1225.1,901.6h9.2M2085.5,901.6h-9.2"/>
</g>
<clipPath id="c11"><rect x="1222.7" y="534.5" width="865.2" height="369.5"/></clipPath>
<g clip-path="url(#c11)" fill="none" stroke-width="4.8" stroke-linejoin="round">
<polyline points="1225.1,723.8 1226.7,716.1 1228.4,723.7 1230,713.1 1231.7,709.2 1233.3,718 1234.9,709.2 1236.6,717.9 1238.2,706.3 1239.9,705.3 1241.5,707.2 1243.1,714.6 1244.8,705.1 1246.4,716.3 1248.1,712.7 1249.7,706.8 1251.3,716.8 1253,707.5 1254.6,713.1 1256.3,713.1 1257.9,707.2 1259.6,714.5 1261.2,715.8 1262.8,708.2 1264.5,717.4 1266.1,706.9 1267.8,716.8 1269.4,722 1271,715.5 1272.7,723.7 1274.3,716.5 1276,725.4 1277.6,725.8 1279.2,717.8 1280.9,724.6 1282.5,728.4 1284.2,726.5 1285.8,710.8 1287.4,720.2 1289.1,710 1290.7,720.5 1292.4,709.4 1294,701.9 1295.6,706.3 1297.3,716.6 1298.9,706 1300.6,707.4 1302.2,717.6 1303.8,718.7 1305.5,706.4 1307.1,715.6 1308.8,717.5 1310.4,712.9 1312,707.9 1313.7,706.4 1315.3,709.5 1317,700.6 1318.6,705.1 1320.2,698.4 1321.9,696.5 1323.5,696.9 1325.2,700.8 1326.8,692.7 1328.5,696.3 1330.1,690.7 1331.7,691.9 1333.4,696.8 1335,698.2 1336.7,692.7 1338.3,689.7 1339.9,694.9 1341.6,687.1 1343.2,693.8 1344.9,690.8 1346.5,689.8 1348.1,684.4 1349.8,688.2 1351.4,682 1353.1,687.7 1354.7,679.8 1356.3,686.6 1358,678.7 1359.6,684 1361.3,675.8 1362.9,681.9 1364.5,677.6 1366.2,682.1 1367.8,685.9 1369.5,691 1371.1,681.8 1372.7,679 1374.4,672.8 1376,670.2 1377.7,670 1379.3,669.7 1380.9,673.1 1382.6,667.6 1384.2,668.2 1385.9,667.2 1387.5,675.5 1389.1,670.7 1390.8,675.8 1392.4,669.7 1394.1,678 1395.7,671.8 1397.4,676 1399,669.9 1400.6,674.9 1402.3,670.3 1403.9,670 1405.6,670.6 1407.2,679.2 1408.8,678.3 1410.5,690 1412.1,695.2 1413.8,703.5 1415.4,708.7 1417,710.4 1418.7,711.5 1420.3,715.4 1422,719.9 1423.6,728.9 1425.2,734 1426.9,740.5 1428.5,744.6 1430.2,744.9 1431.8,749 1433.4,752.6 1435.1,758.2 1436.7,760 1438.4,764.5 1440,771.8 1441.6,776.5 1443.3,778.1 1444.9,777.8 1446.6,781.7 1448.2,783.7 1449.8,783.6 1451.5,788.6 1453.1,787.6 1454.8,793.8 1456.4,795.1 1458.1,801.4 1459.7,803.4 1461.3,808.1 1463,808.7 1464.6,811 1466.3,813.3 1467.9,818.3 1469.5,817.3 1471.2,825.7 1472.8,820.5 1474.5,829.7 1476.1,816.5 1477.7,812.7 1479.4,816.7 1481,834.7 1482.7,821.5 1484.3,831.3 1485.9,826.2 1487.6,826.8 1489.2,820.5 1490.9,829.8 1492.5,828.8 1494.1,834.8 1495.8,829.2 1497.4,836.7 1499.1,829 1500.7,827.9 1502.3,843.8 1504,844.6 1505.6,838.9 1507.3,833.1 1508.9,836.2 1510.5,840.4 1512.2,833.3 1513.8,841.4 1515.5,839.2 1517.1,835.5 1518.7,841.7 1520.4,833.6 1522,842 1523.7,835.2 1525.3,838.4 1527,838.9 1528.6,839.3 1530.2,832.8 1531.9,840 1533.5,833.6 1535.2,839.4 1536.8,839.6 1538.4,832.3 1540.1,834.1 1541.7,841.5 1543.4,839.9 1545,831.5 1546.6,826.4 1548.3,823.2 1549.9,832.1 1551.6,835.4 1553.2,816.1 1554.8,830.8 1556.5,814.7 1558.1,834.1 1559.8,827.6 1561.4,808.7 1563,809.5 1564.7,811.1 1566.3,831.8 1568,825.3 1569.6,811 1571.2,832.3 1572.9,808.2 1574.5,829.7 1576.2,811.8 1577.8,830.1 1579.4,813.7 1581.1,834.3 1582.7,814.4 1584.4,828.5 1586,829.4 1587.7,832.4 1589.3,828.4 1590.9,834.6 1592.6,813.6 1594.2,816.5 1595.9,830.3 1597.5,815.2 1599.1,838 1600.8,814.8 1602.4,814.5 1604.1,822.4 1605.7,833.3 1607.3,832.9 1609,841.9 1610.6,838 1612.3,818.3 1613.9,813.7 1615.5,832.4 1617.2,813.3 1618.8,810 1620.5,812.4 1622.1,831.9 1623.7,830.2 1625.4,825 1627,822.5 1628.7,822.9 1630.3,839 1631.9,826.3 1633.6,836.3 1635.2,824.8 1636.9,831.7 1638.5,834.2 1640.1,820.5 1641.8,822.4 1643.4,821.4 1645.1,829.9 1646.7,819.2 1648.3,826.4 1650,817 1651.6,831.1 1653.3,815.8 1654.9,831 1656.6,813.9 1658.2,814.1 1659.8,822.2 1661.5,815.1 1663.1,828.2 1664.8,817.3 1666.4,831.7 1668,822.9 1669.7,834.9 1671.3,825.5 1673,825.5 1674.6,834.6 1676.2,833.4 1677.9,821.4 1679.5,838.4 1681.2,821.9 1682.8,834 1684.4,839.8 1686.1,838.2 1687.7,840 1689.4,827.6 1691,825.7 1692.6,836.3 1694.3,827.8 1695.9,836.4 1697.6,838.7 1699.2,838.3 1700.8,822.3 1702.5,831.4 1704.1,822.8 1705.8,835 1707.4,829.1 1709,835.2 1710.7,830.2 1712.3,837 1714,832.9 1715.6,840.4 1717.2,839.4 1718.9,836.1 1720.5,840.8 1722.2,836.1 1723.8,842.1 1725.5,835.3 1727.1,840.2 1728.7,836 1730.4,843.5 1732,835.7 1733.7,839.8 1735.3,834.8 1736.9,839.7 1738.6,833.2 1740.2,841.1 1741.9,838.8 1743.5,831.9 1745.1,842.2 1746.8,839.8 1748.4,840.1 1750.1,828.8 1751.7,837.1 1753.3,830.9 1755,826.5 1756.6,828.5 1758.3,834.6 1759.9,825.4 1761.5,824.8 1763.2,837.4 1764.8,826.9 1766.5,836.4 1768.1,827.9 1769.7,837.3 1771.4,835.4 1773,843.2 1774.7,840.9 1776.3,824.9 1777.9,828.4 1779.6,837 1781.2,824.3 1782.9,837.1 1784.5,828.3 1786.2,827.7 1787.8,833.3 1789.4,825.9 1791.1,837.6 1792.7,824.7 1794.4,834.4 1796,826.8 1797.6,835 1799.3,836 1800.9,827 1802.6,826.4 1804.2,825.5 1805.8,838.2 1807.5,828.8 1809.1,831.1 1810.8,845 1812.4,846.9 1814,844.5 1815.7,831.6 1817.3,838.9 1819,833.4 1820.6,823.4 1822.2,832.1 1823.9,824.9 1825.5,819.5 1827.2,821.1 1828.8,835.1 1830.4,830.2 1832.1,837.2 1833.7,833.5 1835.4,842.9 1837,832.9 1838.6,844.4 1840.3,837.7 1841.9,845.3 1843.6,839 1845.2,839.3 1846.8,839.3 1848.5,846.5 1850.1,837.5 1851.8,847.8 1853.4,831.7 1855.1,838.9 1856.7,823.4 1858.3,831.8 1860,818.4 1861.6,830.6 1863.3,816.1 1864.9,825.6 1866.5,817.6 1868.2,829.2 1869.8,820.8 1871.5,829.7 1873.1,823 1874.7,833.7 1876.4,827 1878,837 1879.7,831.4 1881.3,843.1 1882.9,829 1884.6,837.2 1886.2,826.5 1887.9,833.1 1889.5,819.8 1891.1,824.5 1892.8,814.9 1894.4,819.7 1896.1,810.1 1897.7,813.8 1899.3,803.6 1901,811.1 1902.6,799.1 1904.3,811 1905.9,797.4 1907.5,803.7 1909.2,794.6 1910.8,792.2 1912.5,797.8 1914.1,791.9 1915.8,804.9 1917.4,796 1919,798.4 1920.7,807.3 1922.3,797.2 1924,803 1925.6,793.3 1927.2,794.5 1928.9,790.1 1930.5,794.9 1932.2,789.8 1933.8,792.4 1935.4,793 1937.1,805.2 1938.7,794.5 1940.4,807.6 1942,791.6 1943.6,805.4 1945.3,799.1 1946.9,789.7 1948.6,792.7 1950.2,801.6 1951.8,793 1953.5,797 1955.1,795.2 1956.8,810.1 1958.4,809.5 1960,808.4 1961.7,801.1 1963.3,805.2 1965,803.8 1966.6,796.4 1968.2,805.7 1969.9,804.2 1971.5,791.5 1973.2,794 1974.8,789.5 1976.4,791.8 1978.1,800.1 1979.7,792.3 1981.4,805.8 1983,796.5 1984.7,806.9 1986.3,802.5 1987.9,808.1 1989.6,807.2 1991.2,794.4 1992.9,804.6 1994.5,789.2 1996.1,794.1 1997.8,788.5 1999.4,790.4 2001.1,802.2 2002.7,792.9 2004.3,790 2006,802.8 2007.6,801.4 2009.3,806 2010.9,805.4 2012.5,794.7 2014.2,803.6 2015.8,795 2017.5,806.2 2019.1,791.2 2020.7,791.1 2022.4,789 2024,793.5 2025.7,790.6 2027.3,799.4 2028.9,801 2030.6,800.7 2032.2,793.6 2033.9,792.4 2035.5,801.3 2037.1,803 2038.8,796.4 2040.4,787.2 2042.1,788.7 2043.7,793.1" stroke="#0903ea" stroke-width="4.9" stroke-dasharray="18.2 4.7 9 4.7"/>
<polyline points="1225.1,716.7 1225.9,716.3 1226.7,704 1227.6,704.1 1228.4,715.8 1229.2,715.2 1230,705.2 1230.8,714.3 1231.7,704.1 1232.5,711.8 1233.3,716.5 1234.1,715 1234.9,703.2 1235.8,714.8 1236.6,707 1237.4,702.6 1238.2,711.8 1239,704.3 1239.8,710.9 1240.7,703.7 1241.5,714.8 1242.3,704.1 1243.1,702.1 1243.9,703.2 1244.8,702.8 1245.6,713.6 1246.4,702.7 1247.2,713.7 1248,710.4 1248.9,713.5 1249.7,702.8 1250.5,700.5 1251.3,714.2 1252.1,711.4 1253,705 1253.8,710.5 1254.6,702.8 1255.4,703.3 1256.2,714.4 1257.1,714.1 1257.9,703.1 1258.7,706.7 1259.5,706.9 1260.3,714.3 1261.2,707.8 1262,716.7 1262.8,713.4 1263.6,715.2 1264.4,717.7 1265.3,707.2 1266.1,708.8 1266.9,718.2 1267.7,719.9 1268.5,716.9 1269.3,720.5 1270.2,710.4 1271,709 1271.8,711.4 1272.6,719.3 1273.4,711.7 1274.3,717.1 1275.1,720.9 1275.9,710.7 1276.7,717.4 1277.5,710.9 1278.4,718.5 1279.2,716.4 1280,718 1280.8,710.7 1281.6,714.5 1282.5,709.1 1283.3,704 1284.1,704.7 1284.9,712.3 1285.7,704.4 1286.6,716.6 1287.4,711.3 1288.2,711.8 1289,723.7 1289.8,724.9 1290.7,712.3 1291.5,721.9 1292.3,719.6 1293.1,712.9 1293.9,717.4 1294.8,711.9 1295.6,717.9 1296.4,712.2 1297.2,722.8 1298,585.7 1298.8,713.7 1299.7,585.7 1300.5,714 1301.3,585.7 1302.1,712.2 1302.9,721.7 1303.8,723.4 1304.6,712.6 1305.4,722.3 1306.2,723.4 1307,725.6 1307.9,716.6 1308.7,723.2 1309.5,588.4 1310.3,726 1311.1,723.4 1312,717.4 1312.8,717.2 1313.6,716.7 1314.4,726.3 1315.2,721 1316.1,717.8 1316.9,731.5 1317.7,721.9 1318.5,729.5 1319.3,727.9 1320.2,721.7 1321,729.7 1321.8,722.4 1322.6,722.1 1323.4,731 1324.3,722.2 1325.1,728.2 1325.9,728.9 1326.7,718.8 1327.5,723.1 1328.3,721 1329.2,720.5 1330,727.7 1330.8,726.9 1331.6,719.1 1332.4,728.8 1333.3,570.7 1334.1,570.8 1334.9,568.3 1335.7,567.9 1336.5,566.5 1337.4,567.2 1338.2,567.2 1339,567.6 1339.8,565.4 1340.6,565.4 1341.5,568 1342.3,567.8 1343.1,566.4 1343.9,567.4 1344.7,569.6 1345.6,566.3 1346.4,567.8 1347.2,565.8 1348,571.1 1348.8,570.3 1349.7,572.1 1350.5,572.4 1351.3,574.4 1352.1,710.3 1352.9,578.2 1353.8,710.4 1354.6,578.2 1355.4,577.7 1356.2,577.9 1357,577.9 1357.8,575.5 1358.7,579.9 1359.5,575.8 1360.3,577.2 1361.1,579.3 1361.9,714 1362.8,576 1363.6,710.4 1364.4,577.8 1365.2,711.5 1366,578.4 1366.9,715.9 1367.7,580.5 1368.5,710.9 1369.3,576 1370.1,577.9 1371,720.6 1371.8,576.9 1372.6,713.4 1373.4,576.9 1374.2,578.8 1375.1,578 1375.9,577.9 1376.7,577.3 1377.5,570.7 1378.3,574.4 1379.2,568.2 1380,568.7 1380.8,570.9 1381.6,570.2 1382.4,707.7 1383.2,573.5 1384.1,712.2 1384.9,570.3 1385.7,571.3 1386.5,571.9 1387.3,572.7 1388.2,575.7 1389,576.9 1389.8,580.6 1390.6,581.5 1391.4,587.9 1392.3,590.3 1393.1,591.4 1393.9,600.1 1394.7,599.1 1395.5,594.1 1396.4,588.6 1397.2,581.7 1398,713.2 1398.8,578.9 1399.6,714.8 1400.5,578.8 1401.3,718.6 1402.1,575.2 1402.9,713.4 1403.7,571.9 1404.6,712.2 1405.4,581.6 1406.2,719.4 1407,580.2 1407.8,718.8 1408.7,584.2 1409.5,717.4 1410.3,589 1411.1,711.7 1411.9,711.2 1412.7,713.7 1413.6,710.9 1414.4,703 1415.2,712.2 1416,705.6 1416.8,704.5 1417.7,713 1418.5,703.7 1419.3,714.2 1420.1,706.6 1420.9,705.1 1421.8,713.4 1422.6,709.2 1423.4,706.5 1424.2,719.2 1425,712.4 1425.9,711.9 1426.7,722.5 1427.5,714.8 1428.3,718.7 1429.1,719.8 1430,729.8 1430.8,718.8 1431.6,729.8 1432.4,727.8 1433.2,727.4 1434.1,719.5 1434.9,732.3 1435.7,732 1436.5,731.4 1437.3,721.4 1438.2,725.3 1439,735 1439.8,725.7 1440.6,725.5 1441.4,735.6 1442.2,725 1443.1,722.9 1443.9,735 1444.7,724.8 1445.5,725.6 1446.3,734.3 1447.2,735.1 1448,726 1448.8,735 1449.6,729.6 1450.4,727.9 1451.3,731.7 1452.1,739.5 1452.9,741.7 1453.7,739.9 1454.5,731.6 1455.4,735.4 1456.2,733.9 1457,744.5 1457.8,743.7 1458.6,735.8 1459.5,744.1 1460.3,731.8 1461.1,741.4 1461.9,729.9 1462.7,733.1 1463.6,736.6 1464.4,731.1 1465.2,734.4 1466,726.1 1466.8,733.6 1467.7,723.5 1468.5,732 1469.3,723.5 1470.1,730.4 1470.9,730.8 1471.7,731.3 1472.6,721.3 1473.4,723.7 1474.2,720.2 1475,726.8 1475.8,728.7 1476.7,726.8 1477.5,717.1 1478.3,717.9 1479.1,719.5 1479.9,727.7 1480.8,728.5 1481.6,729.2 1482.4,720.7 1483.2,723.9 1484,730.8 1484.9,731.8 1485.7,727.8 1486.5,737.2 1487.3,738.7 1488.1,743.2 1489,736 1489.8,745.1 1490.6,739.9 1491.4,739.7 1492.2,744.4 1493.1,746.8 1493.9,755.1 1494.7,744.4 1495.5,739.4 1496.3,737.7 1497.2,748.3 1498,746.6 1498.8,743.3 1499.6,743.8 1500.4,745.8 1501.2,740.1 1502.1,755 1502.9,748.8 1503.7,746.8 1504.5,752 1505.3,746.3 1506.2,754 1507,750.1 1507.8,741.6 1508.6,743.1 1509.4,743.1 1510.3,737.9 1511.1,745.9 1511.9,740.3 1512.7,744 1513.5,739.7 1514.4,738.3 1515.2,744 1516,744.8 1516.8,742.7 1517.6,742.2 1518.5,736.5 1519.3,734.8 1520.1,734.8 1520.9,740.9 1521.7,738.5 1522.6,730.5 1523.4,732.3 1524.2,738 1525,729.6 1525.8,732.3 1526.6,739.6 1527.5,739.3 1528.3,737 1529.1,727.8 1529.9,726 1530.7,734 1531.6,730.7 1532.4,731.9 1533.2,730.2 1534,742.8 1534.8,741 1535.7,737.1 1536.5,748.1 1537.3,750.3 1538.1,750.6 1538.9,749.4 1539.8,752.1 1540.6,740.7 1541.4,736.9 1542.2,743.5 1543,744.9 1543.9,732.1 1544.7,740.1 1545.5,740 1546.3,736.6 1547.1,738.1 1548,734.5 1548.8,723.9 1549.6,732 1550.4,722.9 1551.2,731.1 1552.1,733.6 1552.9,722.7 1553.7,724.2 1554.5,724.7 1555.3,720.6 1556.1,724.4 1557,719.9 1557.8,728.3 1558.6,720.7 1559.4,728.9 1560.2,727.3 1561.1,729.7 1561.9,722.5 1562.7,731.2 1563.5,722 1564.3,722.4 1565.2,731.8 1566,726.9 1566.8,726.4 1567.6,727.9 1568.4,736.4 1569.3,738.3 1570.1,728.9 1570.9,730.2 1571.7,737.4 1572.5,728.7 1573.4,736.4 1574.2,728.2 1575,737.3 1575.8,734.8 1576.6,724.5 1577.5,728.7 1578.3,723.4 1579.1,724.3 1579.9,726.5 1580.7,733.3 1581.6,723.1 1582.4,722.6 1583.2,720.8 1584,723.2 1584.8,731.8 1585.6,722 1586.5,729.3 1587.3,720.4 1588.1,729.6 1588.9,718.7 1589.7,725.4 1590.6,719.4 1591.4,729 1592.2,720.1 1593,723.5 1593.8,721.5 1594.7,729.1 1595.5,731.7 1596.3,722.7 1597.1,723.8 1597.9,733.2 1598.8,732.8 1599.6,725.4 1600.4,736.2 1601.2,733.1 1602,734.2 1602.9,737.6 1603.7,726.9 1604.5,729.5 1605.3,726.6 1606.1,728.8 1607,728.3 1607.8,735.1 1608.6,733.4 1609.4,731.1 1610.2,733.1 1611.1,722.7 1611.9,730 1612.7,721.5 1613.5,728 1614.3,724.7 1615.1,718.1 1616,726 1616.8,723.8 1617.6,716.2 1618.4,722.8 1619.2,710.9 1620.1,710.7 1620.9,723 1621.7,711.1 1622.5,713.9 1623.3,722.4 1624.2,719.5 1625,712.3 1625.8,711 1626.6,711.5 1627.4,719 1628.3,718.3 1629.1,717 1629.9,706.3 1630.7,714.8 1631.5,708.1 1632.4,719.9 1633.2,718.9 1634,711 1634.8,721.8 1635.6,720.9 1636.5,714.1 1637.3,725 1638.1,717.7 1638.9,727.9 1639.7,727.5 1640.6,718 1641.4,727.1 1642.2,728.8 1643,729.5 1643.8,720.6 1644.6,733.9 1645.5,731.5 1646.3,728.7 1647.1,737.6 1647.9,728.6 1648.7,738.1 1649.6,738.2 1650.4,742.9 1651.2,732.4 1652,736.5 1652.8,743.6 1653.7,743 1654.5,742.5 1655.3,735 1656.1,740.3 1656.9,737 1657.8,727.9 1658.6,734.8 1659.4,727.5 1660.2,738 1661,736.1 1661.9,725 1662.7,726.3 1663.5,731.5 1664.3,719.8 1665.1,717.3 1666,726.8 1666.8,721.2 1667.6,717 1668.4,723 1669.2,728.4 1670,726.5 1670.9,722.8 1671.7,733.4 1672.5,724.4 1673.3,726.6 1674.1,734.9 1675,731.3 1675.8,741 1676.6,740.3 1677.4,741.8 1678.2,738.8 1679.1,738.1 1679.9,739 1680.7,725.9 1681.5,735.1 1682.3,726.1 1683.2,721.2 1684,723.2 1684.8,721.6 1685.6,718.9 1686.4,717.8 1687.3,721.5 1688.1,720.5 1688.9,723 1689.7,721.1 1690.5,724.3 1691.4,721.7 1692.2,731 1693,731.3 1693.8,725.6 1694.6,723.1 1695.5,725.8 1696.3,736.1 1697.1,724.8 1697.9,737.2 1698.7,730 1699.5,741.4 1700.4,730.1 1701.2,733.4 1702,743.9 1702.8,743.7 1703.6,739.8 1704.5,746 1705.3,742 1706.1,741.2 1706.9,751.9 1707.7,741.2 1708.6,747 1709.4,747.1 1710.2,738.3 1711,724.8 1711.8,715.7 1712.7,720.7 1713.5,717.2 1714.3,726.2 1715.1,716.5 1715.9,715.4 1716.8,725.5 1717.6,726.7 1718.4,716.5 1719.2,718.7 1720,725 1720.9,720 1721.7,727.3 1722.5,720.8 1723.3,726.9 1724.1,720 1725,728.9 1725.8,730.8 1726.6,724.8 1727.4,723.8 1728.2,732 1729,727.3 1729.9,734.3 1730.7,728 1731.5,734.4 1732.3,727.7 1733.1,729.8 1734,738 1734.8,731.2 1735.6,738.9 1736.4,738.5 1737.2,738.3 1738.1,734.5 1738.9,739.7 1739.7,742.4 1740.5,736.6 1741.3,738.1 1742.2,746 1743,737.1 1743.8,748.2 1744.6,739.1 1745.4,742.9 1746.3,748.1 1747.1,744.8 1747.9,744.7 1748.7,754.2 1749.5,742.7 1750.4,740.8 1751.2,739.7 1752,741.6 1752.8,739.6 1753.6,747.2 1754.5,746.5 1755.3,739 1756.1,742.5 1756.9,742.2 1757.7,732.1 1758.5,733.4 1759.4,742.8 1760.2,733.5 1761,742.3 1761.8,733.9 1762.6,741.8 1763.5,739.8 1764.3,729.4 1765.1,736.8 1765.9,735.5 1766.7,731.3 1767.6,734.6 1768.4,738.6 1769.2,729.6 1770,728 1770.8,732.6 1771.7,737 1772.5,735 1773.3,725.6 1774.1,735.3 1774.9,725.8 1775.8,738.1 1776.6,738.9 1777.4,741.2 1778.2,740.9 1779,732.8 1779.9,744.6 1780.7,744.9 1781.5,736.3 1782.3,745 1783.1,746.8 1784,739.8 1784.8,747.3 1785.6,746.1 1786.4,742.3 1787.2,751.1 1788,742.8 1788.9,749.5 1789.7,749.8 1790.5,754.2 1791.3,743.8 1792.1,746.4 1793,746.2 1793.8,755.8 1794.6,747.2 1795.4,742.2 1796.2,741.9 1797.1,741.3 1797.9,751.8 1798.7,740.5 1799.5,748 1800.3,751.1 1801.2,747.6 1802,741.1 1802.8,745.6 1803.6,743.5 1804.4,741 1805.3,728.2 1806.1,731.7 1806.9,717.4 1807.7,726.3 1808.5,719.3 1809.4,724.5 1810.2,718.1 1811,719.6 1811.8,724.5 1812.6,725.9 1813.4,723.7 1814.3,724.2 1815.1,716 1815.9,716.1 1816.7,722 1817.5,714.4 1818.4,721.9 1819.2,722.2 1820,722.2 1820.8,721 1821.6,714.1 1822.5,711 1823.3,715 1824.1,721.8 1824.9,718.9 1825.7,711 1826.6,722.5 1827.4,724.5 1828.2,724.6 1829,726.3 1829.8,718.5 1830.7,729.7 1831.5,732.7 1832.3,721.9 1833.1,729.7 1833.9,732 1834.8,718.6 1835.6,718.6 1836.4,721 1837.2,728.9 1838,715.7 1838.9,726.2 1839.7,714.4 1840.5,722.4 1841.3,714 1842.1,722.8 1842.9,718.3 1843.8,717.9 1844.6,727.4 1845.4,717.2 1846.2,720.1 1847,729.6 1847.9,729.1 1848.7,721.8 1849.5,730.6 1850.3,731.7 1851.1,723.9 1852,733.8 1852.8,728.3 1853.6,738.6 1854.4,741.1 1855.2,746 1856.1,744.4 1856.9,745.5 1857.7,746.3 1858.5,738.2 1859.3,746.4 1860.2,738.3 1861,748.2 1861.8,738.4 1862.6,748.2 1863.4,746.1 1864.3,739.5 1865.1,741.5 1865.9,742.5 1866.7,749.4 1867.5,738.1 1868.4,738.1 1869.2,738.7 1870,748.4 1870.8,748.1 1871.6,737 1872.4,747.3 1873.3,745 1874.1,743.4 1874.9,736.9 1875.7,742.5 1876.5,734 1877.4,742.6 1878.2,731.8 1879,729.8 1879.8,727.3 1880.6,737.5 1881.5,723.8 1882.3,730.8 1883.1,733 1883.9,719.5 1884.7,720.3 1885.6,725 1886.4,717.4 1887.2,725.2 1888,714.5 1888.8,714.1 1889.7,722.6 1890.5,716.3 1891.3,714.6 1892.1,725 1892.9,713.9 1893.8,716.5 1894.6,723.4 1895.4,713.6 1896.2,715.3 1897,723.9 1897.9,712.3 1898.7,723.5 1899.5,720.4 1900.3,724 1901.1,723.1 1901.9,720.9 1902.8,720.9 1903.6,723.4 1904.4,720.9 1905.2,722.8 1906,712.8 1906.9,714.6 1907.7,721.8 1908.5,713.8 1909.3,714 1910.1,715.2 1911,721.9 1911.8,721.4 1912.6,722.8 1913.4,715.9 1914.2,720.8 1915.1,714.1 1915.9,714 1916.7,721.2 1917.5,717.3 1918.3,722 1919.2,723.4 1920,723.1 1920.8,725.1 1921.6,712.8 1922.4,711.7 1923.3,712.7 1924.1,711.2 1924.9,722 1925.7,723.1 1926.5,711 1927.4,722.4 1928.2,720 1929,719 1929.8,711.8 1930.6,720.2 1931.4,712.2 1932.3,721.3 1933.1,720.8 1933.9,720.5 1934.7,719.7 1935.5,717.5 1936.4,721.5 1937.2,712.3 1938,713.1 1938.8,708.6 1939.6,712.7 1940.5,718.5 1941.3,718.7 1942.1,711.2 1942.9,720.4 1943.7,722.2 1944.6,721.7 1945.4,710.4 1946.2,722 1947,710.3 1947.8,722.8 1948.7,715.1 1949.5,713.7 1950.3,721.8 1951.1,714.9 1951.9,722.9 1952.8,711.9 1953.6,723.1 1954.4,715.8 1955.2,712.7 1956,722.8 1956.8,723.7 1957.7,720.8 1958.5,716.5 1959.3,722.8 1960.1,711.6 1960.9,711 1961.8,723.5 1962.6,710.6 1963.4,721 1964.2,709 1965,709.1 1965.9,718.5 1966.7,711.9 1967.5,717.2 1968.3,710.4 1969.1,716.8 1970,717.9 1970.8,706.5 1971.6,705.4 1972.4,715.8 1973.2,706.8 1974.1,715.8 1974.9,705.7 1975.7,713.8 1976.5,715.9 1977.3,713.2 1978.2,716.6 1979,716.3 1979.8,704.8 1980.6,713.7 1981.4,706.1 1982.3,717.6 1983.1,708.6 1983.9,711.5 1984.7,717 1985.5,720 1986.3,719 1987.2,714.1 1988,712.7 1988.8,711.5 1989.6,721 1990.4,713.2 1991.3,719.9 1992.1,721.5 1992.9,721 1993.7,722.4 1994.5,714.6 1995.4,722.2 1996.2,724.2 1997,723.9 1997.8,725.9 1998.6,715.9 1999.5,717.4 2000.3,717.4 2001.1,728.1 2001.9,718.8 2002.7,720.7 2003.6,725.7 2004.4,726.4 2005.2,728.3 2006,719.2 2006.8,725.3 2007.7,725.3 2008.5,718.2 2009.3,722.4 2010.1,715.5 2010.9,715.7 2011.8,721 2012.6,717.3 2013.4,717.6 2014.2,726.1 2015,719.8 2015.8,721.8 2016.7,731.7 2017.5,720.8 2018.3,723.2 2019.1,721.7 2019.9,723.6 2020.8,730.6 2021.6,725.6 2022.4,725.3 2023.2,724.3 2024,729.7 2024.9,733.3 2025.7,724.3 2026.5,732.8 2027.3,731.5 2028.1,720.1 2029,723.8 2029.8,731.2 2030.6,720 2031.4,731 2032.2,722.3 2033.1,731.4 2033.9,731.1 2034.7,729.4 2035.5,729.7 2036.3,732.4 2037.2,725.9 2038,725.4 2038.8,730 2039.6,724.7 2040.4,732.1 2041.3,733.4 2042.1,722.5 2042.9,731.7 2043.7,724.2" stroke="#23e1a7"/>
</g>
<rect x="1777.8" y="576.2" width="267.8" height="80.3" fill="#fff" stroke="#1c1c1c" stroke-width="1.9"/>
<path d="M1788.9,599H1909.7" fill="none" stroke="#0903ea" stroke-width="4.9" stroke-dasharray="18.2 4.7 9 4.7"/>
<path d="M1788.9,633.7H1909.7" fill="none" stroke="#23e1a7" stroke-width="4.8"/>
<text class="lg" x="1919" y="609">GT</text>
<text class="lg" x="1919" y="643.7">CenterNet</text>
<text class="tk" x="1225.1" y="941" text-anchor="middle">0</text>
<text class="tk" x="1348" y="941" text-anchor="middle">5</text>
<text class="tk" x="1470.9" y="941" text-anchor="middle">10</text>
<text class="tk" x="1593.8" y="941" text-anchor="middle">15</text>
<text class="tk" x="1716.8" y="941" text-anchor="middle">20</text>
<text class="tk" x="1839.7" y="941" text-anchor="middle">25</text>
<text class="tk" x="1962.6" y="941" text-anchor="middle">30</text>
<text class="tk" x="2085.5" y="941" text-anchor="middle">35</text>
<text class="tk" x="1211.2" y="546.3" text-anchor="end">4</text>
<text class="tk" x="1211.2" y="637.5" text-anchor="end">2</text>
<text class="tk" x="1211.2" y="728.6" text-anchor="end">0</text>
<text class="tk" x="1211.2" y="819.8" text-anchor="end">-2</text>
<text class="tk" x="1211.2" y="911" text-anchor="end">-4</text>
<text class="lb" x="1655.3" y="978.4" text-anchor="middle">Time(s)</text>
<text class="lb" transform="translate(1170.2,719.2) rotate(-90)" text-anchor="middle">Displacement(pixel)</text>
</g>
<g id="p20">
<text class="tt" x="523" y="1037.3" text-anchor="middle">point</text>
<g stroke="#1f1f1f" stroke-width="2.05" fill="none">
<rect x="92.9" y="1044" width="860.2" height="364.6"/>
<path d="M92.9,1408.6v-9.2M92.9,1044v9.2M215.8,1408.6v-9.2M215.8,1044v9.2M338.7,1408.6v-9.2M338.7,1044v9.2M461.6,1408.6v-9.2M461.6,1044v9.2M584.5,1408.6v-9.2M584.5,1044v9.2M707.4,1408.6v-9.2M707.4,1044v9.2M830.3,1408.6v-9.2M830.3,1044v9.2M953.1,1408.6v-9.2M953.1,1044v9.2M92.9,1044h9.2M953.1,1044h-9.2M92.9,1116.9h9.2M953.1,1116.9h-9.2M92.9,1189.8h9.2M953.1,1189.8h-9.2M92.9,1262.8h9.2M953.1,1262.8h-9.2M92.9,1335.7h9.2M953.1,1335.7h-9.2M92.9,1408.6h9.2M953.1,1408.6h-9.2"/>
</g>
<clipPath id="c20"><rect x="90.5" y="1041.6" width="865" height="369.4"/></clipPath>
<g clip-path="url(#c20)" fill="none" stroke-width="4.8" stroke-linejoin="round">
<polyline points="92.9,1197.1 94.5,1184.7 96.2,1197 97.8,1180 99.5,1173.7 101.1,1187.8 102.7,1173.8 104.4,1187.6 106,1169.2 107.7,1167.6 109.3,1170.6 110.9,1182.4 112.6,1167.2 114.2,1185.2 115.9,1179.3 117.5,1169.9 119.1,1186 120.8,1171.1 122.4,1179.9 124.1,1180.1 125.7,1170.6 127.3,1182.3 129,1184.2 130.6,1172.2 132.3,1186.9 133.9,1170.1 135.5,1185.8 137.2,1194.3 138.8,1183.8 140.5,1197 142.1,1185.4 143.7,1199.7 145.4,1200.3 147,1187.5 148.7,1198.5 150.3,1204.4 151.9,1201.4 153.6,1176.3 155.2,1191.3 156.9,1175 158.5,1191.8 160.1,1174 161.8,1162.1 163.4,1169.2 165.1,1185.6 166.7,1168.6 168.3,1170.9 170,1187.3 171.6,1189 173.3,1169.4 174.9,1184 176.6,1187 178.2,1179.7 179.8,1171.7 181.5,1169.3 183.1,1174.3 184.8,1160 186.4,1167.3 188,1156.5 189.7,1153.4 191.3,1154 193,1160.3 194.6,1147.3 196.2,1153.1 197.9,1144.2 199.5,1146.1 201.2,1153.9 202.8,1156.2 204.4,1147.4 206.1,1142.6 207.7,1150.9 209.4,1138.3 211,1149.1 212.6,1144.4 214.3,1142.7 215.9,1134.1 217.6,1140.2 219.2,1130.2 220.8,1139.3 222.5,1126.7 224.1,1137.6 225.8,1125 227.4,1133.5 229,1120.3 230.7,1130.1 232.3,1123.3 234,1130.4 235.6,1136.5 237.2,1144.6 238.9,1129.9 240.5,1125.5 242.2,1115.6 243.8,1111.4 245.4,1111 247.1,1110.5 248.7,1116 250.4,1107.2 252,1108.2 253.6,1106.7 255.3,1119.9 256.9,1112.2 258.6,1120.3 260.2,1110.7 261.8,1123.9 263.5,1114 265.1,1120.7 266.8,1110.9 268.4,1118.8 270,1111.5 271.7,1111.1 273.3,1112 275,1125.8 276.6,1124.3 278.2,1143.1 279.9,1151.3 281.5,1164.6 283.2,1173 284.8,1175.7 286.4,1177.5 288.1,1183.7 289.7,1190.9 291.4,1205.3 293,1213.5 294.6,1223.9 296.3,1230.4 297.9,1230.8 299.6,1237.4 301.2,1243.1 302.8,1252.1 304.5,1255 306.1,1262.3 307.8,1273.8 309.4,1281.4 311,1283.9 312.7,1283.5 314.3,1289.7 316,1292.9 317.6,1292.7 319.2,1300.7 320.9,1299.1 322.5,1309.1 324.2,1311.1 325.8,1321.2 327.5,1324.4 329.1,1332 330.7,1333 332.4,1336.6 334,1340.3 335.7,1348.4 337.3,1346.7 338.9,1360.1 340.6,1351.8 342.2,1366.6 343.9,1345.4 345.5,1339.3 347.1,1345.8 348.8,1374.4 350.4,1353.4 352.1,1369 353.7,1360.9 355.3,1361.9 357,1351.7 358.6,1366.7 360.3,1365.1 361.9,1374.7 363.5,1365.8 365.2,1377.8 366.8,1365.5 368.5,1363.6 370.1,1389 371.7,1390.4 373.4,1381.2 375,1372 376.7,1376.9 378.3,1383.7 379.9,1372.3 381.6,1385.3 383.2,1381.8 384.9,1375.8 386.5,1385.8 388.1,1372.7 389.8,1386.3 391.4,1375.4 393.1,1380.5 394.7,1381.2 396.3,1381.9 398,1371.4 399.6,1383.1 401.3,1372.8 402.9,1382 404.5,1382.4 406.2,1370.7 407.8,1373.5 409.5,1385.5 411.1,1382.8 412.7,1369.4 414.4,1361.2 416,1356.1 417.7,1370.3 419.3,1375.7 420.9,1344.8 422.6,1368.3 424.2,1342.6 425.9,1373.5 427.5,1363.2 429.1,1333 430.8,1334.2 432.4,1336.8 434.1,1369.8 435.7,1359.4 437.3,1336.5 439,1370.7 440.6,1332 442.3,1366.6 443.9,1337.9 445.5,1367.2 447.2,1340.9 448.8,1373.9 450.5,1342.1 452.1,1364.6 453.7,1366 455.4,1370.8 457,1364.4 458.7,1374.4 460.3,1340.7 461.9,1345.3 463.6,1367.5 465.2,1343.3 466.9,1379.8 468.5,1342.7 470.1,1342.3 471.8,1354.8 473.4,1372.3 475.1,1371.6 476.7,1386 478.4,1379.8 480,1348.3 481.6,1340.9 483.3,1370.9 484.9,1340.2 486.6,1335 488.2,1338.8 489.8,1370 491.5,1367.3 493.1,1359 494.8,1355 496.4,1355.6 498,1381.4 499.7,1361.1 501.3,1377 503,1358.7 504.6,1369.8 506.2,1373.8 507.9,1351.8 509.5,1354.9 511.2,1353.2 512.8,1366.8 514.4,1349.6 516.1,1361.2 517.7,1346.3 519.4,1368.7 521,1344.2 522.6,1368.5 524.3,1341.3 525.9,1341.5 527.6,1354.6 529.2,1343.2 530.8,1364.1 532.5,1346.7 534.1,1369.8 535.8,1355.6 537.4,1374.8 539,1359.7 540.7,1359.7 542.3,1374.4 544,1372.5 545.6,1353.2 547.2,1380.4 548.9,1354 550.5,1373.4 552.2,1382.6 553.8,1380.1 555.4,1382.9 557.1,1363.1 558.7,1360.1 560.4,1377 562,1363.5 563.6,1377.3 565.3,1380.9 566.9,1380.3 568.6,1354.6 570.2,1369.3 571.8,1355.5 573.5,1375 575.1,1365.6 576.8,1375.4 578.4,1367.4 580,1378.2 581.7,1371.6 583.3,1383.7 585,1382 586.6,1376.8 588.2,1384.3 589.9,1376.8 591.5,1386.4 593.2,1375.5 594.8,1383.4 596.4,1376.6 598.1,1388.7 599.7,1376.1 601.4,1382.7 603,1374.7 604.6,1382.6 606.3,1372.2 607.9,1384.8 609.6,1381 611.2,1370.1 612.8,1386.4 614.5,1382.7 616.1,1383.1 617.8,1365.1 619.4,1378.4 621,1368.5 622.7,1361.4 624.3,1364.5 626,1374.3 627.6,1359.6 629.2,1358.7 630.9,1378.8 632.5,1362.1 634.2,1377.2 635.8,1363.6 637.5,1378.6 639.1,1375.6 640.7,1388.2 642.4,1384.5 644,1358.8 645.7,1364.5 647.3,1378.2 648.9,1357.9 650.6,1378.4 652.2,1364.3 653.9,1363.2 655.5,1372.3 657.1,1360.5 658.8,1379.1 660.4,1358.5 662.1,1374 663.7,1361.9 665.3,1375 667,1376.6 668.6,1362.2 670.3,1361.2 671.9,1359.9 673.5,1380.1 675.2,1365.1 676.8,1368.7 678.5,1391 680.1,1394 681.7,1390.2 683.4,1369.5 685,1381.2 686.7,1372.4 688.3,1356.4 689.9,1370.4 691.6,1358.9 693.2,1350.3 694.9,1352.8 696.5,1375.1 698.1,1367.3 699.8,1378.6 701.4,1372.5 703.1,1387.6 704.7,1371.6 706.3,1390.1 708,1379.3 709.6,1391.4 711.3,1381.4 712.9,1381.9 714.5,1381.8 716.2,1393.3 717.8,1379 719.5,1395.4 721.1,1369.8 722.7,1381.3 724.4,1356.4 726,1369.8 727.7,1348.4 729.3,1367.9 730.9,1344.8 732.6,1360 734.2,1347.2 735.9,1365.7 737.5,1352.3 739.1,1366.5 740.8,1355.8 742.4,1372.9 744.1,1362.2 745.7,1378.1 747.3,1369.2 749,1388 750.6,1365.4 752.3,1378.5 753.9,1361.4 755.5,1371.9 757.2,1350.8 758.8,1358.1 760.5,1342.9 762.1,1350.5 763.7,1335.1 765.4,1341.1 767,1324.8 768.7,1336.8 770.3,1317.6 771.9,1336.7 773.6,1314.8 775.2,1324.9 776.9,1310.3 778.5,1306.5 780.1,1315.4 781.8,1306 783.4,1326.9 785.1,1312.7 786.7,1316.5 788.4,1330.6 790,1314.6 791.6,1323.8 793.3,1308.2 794.9,1310.2 796.6,1303.2 798.2,1310.8 799.8,1302.7 801.5,1306.8 803.1,1307.9 804.8,1327.3 806.4,1310.3 808,1331.2 809.7,1305.6 811.3,1327.7 813,1317.5 814.6,1302.6 816.2,1307.3 817.9,1321.6 819.5,1307.8 821.2,1314.3 822.8,1311.3 824.4,1335.2 826.1,1334.2 827.7,1332.4 829.4,1320.8 831,1327.2 832.6,1325.1 834.3,1313.2 835.9,1328.1 837.6,1325.7 839.2,1305.3 840.8,1309.5 842.5,1302.1 844.1,1305.8 845.8,1319.2 847.4,1306.7 849,1328.2 850.7,1313.5 852.3,1330.1 854,1323 855.6,1332 857.2,1330.5 858.9,1310.1 860.5,1326.4 862.2,1301.7 863.8,1309.6 865.4,1300.7 867.1,1303.6 868.7,1322.6 870.4,1307.7 872,1303 873.6,1323.6 875.3,1321.3 876.9,1328.6 878.6,1327.6 880.2,1310.4 881.8,1324.8 883.5,1311 885.1,1329 886.8,1304.9 888.4,1304.7 890,1301.4 891.7,1308.5 893.3,1304 895,1318.1 896.6,1320.5 898.2,1320.1 899.9,1308.8 901.5,1306.9 903.2,1321.1 904.8,1323.8 906.4,1313.2 908.1,1298.5 909.7,1300.9 911.4,1307.9" stroke="#0903ea" stroke-width="4.9" stroke-dasharray="18.2 4.7 9 4.7"/>
<polyline points="92.9,1171.6 93.7,1171.6 94.5,1171.6 95.4,1189.8 96.2,1171.6 97,1189.8 97.8,1189.8 98.6,1171.6 99.5,1171.6 100.3,1171.6 101.1,1189.8 101.9,1171.6 102.7,1171.6 103.6,1171.6 104.4,1171.6 105.2,1171.6 106,1171.6 106.8,1171.6 107.6,1171.6 108.5,1171.6 109.3,1171.6 110.1,1171.6 110.9,1171.6 111.7,1171.6 112.6,1171.6 113.4,1171.6 114.2,1171.6 115,1153.4 115.8,1171.6 116.7,1171.6 117.5,1189.8 118.3,1171.6 119.1,1171.6 119.9,1171.6 120.8,1171.6 121.6,1171.6 122.4,1153.4 123.2,1153.4 124,1171.6 124.9,1171.6 125.7,1171.6 126.5,1171.6 127.3,1171.6 128.1,1171.6 128.9,1171.6 129.8,1171.6 130.6,1171.6 131.4,1171.6 132.2,1171.6 133,1171.6 133.9,1171.6 134.7,1189.8 135.5,1189.8 136.3,1171.6 137.1,1189.8 138,1189.8 138.8,1171.6 139.6,1171.6 140.4,1171.6 141.2,1171.6 142.1,1189.8 142.9,1171.6 143.7,1189.8 144.5,1171.6 145.3,1171.6 146.2,1171.6 147,1189.8 147.8,1189.8 148.6,1171.6 149.4,1171.6 150.2,1189.8 151.1,1171.6 151.9,1171.6 152.7,1171.6 153.5,1171.6 154.3,1171.6 155.2,1171.6 156,1171.6 156.8,1171.6 157.6,1171.6 158.4,1189.8 159.3,1171.6 160.1,1153.4 160.9,1189.8 161.7,1189.8 162.5,1189.8 163.4,1189.8 164.2,1171.6 165,1171.6 165.8,1189.8 166.6,1171.6 167.5,1171.6 168.3,1171.6 169.1,1153.4 169.9,1189.8 170.7,1189.8 171.6,1189.8 172.4,1189.8 173.2,1153.4 174,1171.6 174.8,1171.6 175.6,1171.6 176.5,1171.6 177.3,1171.6 178.1,1171.6 178.9,1171.6 179.7,1171.6 180.6,1171.6 181.4,1171.6 182.2,1171.6 183,1171.6 183.8,1153.4 184.7,1171.6 185.5,1153.4 186.3,1171.6 187.1,1153.4 187.9,1153.4 188.8,1153.4 189.6,1153.4 190.4,1153.4 191.2,1153.4 192,1153.4 192.9,1153.4 193.7,1153.4 194.5,1153.4 195.3,1153.4 196.1,1153.4 196.9,1153.4 197.8,1153.4 198.6,1135.2 199.4,1153.4 200.2,1153.4 201,1135.2 201.9,1135.2 202.7,1135.2 203.5,1153.4 204.3,1153.4 205.1,1153.4 206,1153.4 206.8,1135.2 207.6,1153.4 208.4,1135.2 209.2,1153.4 210.1,1153.4 210.9,1135.2 211.7,1116.9 212.5,1135.2 213.3,1135.2 214.2,1116.9 215,1135.2 215.8,1116.9 216.6,1116.9 217.4,1135.2 218.3,1135.2 219.1,1135.2 219.9,1153.4 220.7,1153.4 221.5,1153.4 222.3,1135.2 223.2,1116.9 224,1116.9 224.8,1135.2 225.6,1135.2 226.4,1135.2 227.3,1116.9 228.1,1135.2 228.9,1135.2 229.7,1135.2 230.5,1116.9 231.4,1135.2 232.2,1116.9 233,1116.9 233.8,1135.2 234.6,1116.9 235.5,1116.9 236.3,1135.2 237.1,1116.9 237.9,1116.9 238.7,1116.9 239.6,1116.9 240.4,1116.9 241.2,1116.9 242,1116.9 242.8,1116.9 243.6,1116.9 244.5,1116.9 245.3,1116.9 246.1,1116.9 246.9,1116.9 247.7,1116.9 248.6,1116.9 249.4,1116.9 250.2,1116.9 251,1116.9 251.8,1116.9 252.7,1098.7 253.5,1135.2 254.3,1116.9 255.1,1116.9 255.9,1116.9 256.8,1116.9 257.6,1116.9 258.4,1116.9 259.2,1116.9 260,1116.9 260.9,1116.9 261.7,1116.9 262.5,1116.9 263.3,1116.9 264.1,1116.9 265,1116.9 265.8,1116.9 266.6,1116.9 267.4,1116.9 268.2,1116.9 269,1116.9 269.9,1116.9 270.7,1116.9 271.5,1116.9 272.3,1116.9 273.1,1116.9 274,1153.4 274.8,1116.9 275.6,1153.4 276.4,1116.9 277.2,1153.4 278.1,1171.6 278.9,1153.4 279.7,1171.6 280.5,1153.4 281.3,1171.6 282.2,1153.4 283,1153.4 283.8,1171.6 284.6,1171.6 285.4,1189.8 286.3,1189.8 287.1,1171.6 287.9,1189.8 288.7,1189.8 289.5,1208.1 290.3,1208.1 291.2,1189.8 292,1208.1 292.8,1189.8 293.6,1189.8 294.4,1208.1 295.3,1208.1 296.1,1208.1 296.9,1208.1 297.7,1226.3 298.5,1226.3 299.4,1244.5 300.2,1244.5 301,1226.3 301.8,1244.5 302.6,1262.8 303.5,1262.8 304.3,1244.5 305.1,1262.8 305.9,1281 306.7,1281 307.6,1281 308.4,1262.8 309.2,1262.8 310,1281 310.8,1281 311.6,1281 312.5,1281 313.3,1299.2 314.1,1281 314.9,1281 315.7,1281 316.6,1281 317.4,1299.2 318.2,1281 319,1299.2 319.8,1281 320.7,1299.2 321.5,1299.2 322.3,1299.2 323.1,1281 323.9,1299.2 324.8,1281 325.6,1281 326.4,1299.2 327.2,1317.4 328,1317.4 328.9,1317.4 329.7,1299.2 330.5,1299.2 331.3,1317.4 332.1,1317.4 333,1299.2 333.8,1317.4 334.6,1317.4 335.4,1335.7 336.2,1335.7 337,1335.7 337.9,1335.7 338.7,1317.4 339.5,1335.7 340.3,1317.4 341.1,1317.4 342,1317.4 342.8,1317.4 343.6,1317.4 344.4,1317.4 345.2,1335.7 346.1,1317.4 346.9,1335.7 347.7,1317.4 348.5,1317.4 349.3,1317.4 350.2,1335.7 351,1353.9 351.8,1335.7 352.6,1335.7 353.4,1353.9 354.3,1353.9 355.1,1353.9 355.9,1353.9 356.7,1335.7 357.5,1353.9 358.3,1335.7 359.2,1335.7 360,1335.7 360.8,1353.9 361.6,1372.1 362.4,1372.1 363.3,1372.1 364.1,1372.1 364.9,1353.9 365.7,1353.9 366.5,1372.1 367.4,1353.9 368.2,1372.1 369,1372.1 369.8,1353.9 370.6,1353.9 371.5,1372.1 372.3,1390.4 373.1,1372.1 373.9,1372.1 374.7,1372.1 375.6,1372.1 376.4,1372.1 377.2,1372.1 378,1372.1 378.8,1372.1 379.6,1372.1 380.5,1372.1 381.3,1372.1 382.1,1372.1 382.9,1372.1 383.7,1372.1 384.6,1372.1 385.4,1353.9 386.2,1372.1 387,1353.9 387.8,1372.1 388.7,1372.1 389.5,1372.1 390.3,1372.1 391.1,1372.1 391.9,1372.1 392.8,1372.1 393.6,1372.1 394.4,1372.1 395.2,1372.1 396,1372.1 396.9,1372.1 397.7,1372.1 398.5,1372.1 399.3,1372.1 400.1,1372.1 401,1372.1 401.8,1372.1 402.6,1372.1 403.4,1372.1 404.2,1372.1 405,1372.1 405.9,1372.1 406.7,1372.1 407.5,1372.1 408.3,1372.1 409.1,1372.1 410,1372.1 410.8,1372.1 411.6,1372.1 412.4,1353.9 413.2,1353.9 414.1,1353.9 414.9,1353.9 415.7,1353.9 416.5,1353.9 417.3,1353.9 418.2,1353.9 419,1353.9 419.8,1335.7 420.6,1335.7 421.4,1353.9 422.3,1335.7 423.1,1353.9 423.9,1335.7 424.7,1353.9 425.5,1335.7 426.3,1335.7 427.2,1335.7 428,1353.9 428.8,1353.9 429.6,1335.7 430.4,1335.7 431.3,1335.7 432.1,1353.9 432.9,1335.7 433.7,1335.7 434.5,1335.7 435.4,1353.9 436.2,1335.7 437,1353.9 437.8,1353.9 438.6,1353.9 439.5,1353.9 440.3,1353.9 441.1,1335.7 441.9,1335.7 442.7,1353.9 443.6,1335.7 444.4,1353.9 445.2,1335.7 446,1353.9 446.8,1335.7 447.7,1353.9 448.5,1335.7 449.3,1335.7 450.1,1335.7 450.9,1353.9 451.7,1335.7 452.6,1335.7 453.4,1335.7 454.2,1335.7 455,1335.7 455.8,1335.7 456.7,1353.9 457.5,1317.4 458.3,1335.7 459.1,1335.7 459.9,1335.7 460.8,1335.7 461.6,1335.7 462.4,1335.7 463.2,1335.7 464,1335.7 464.9,1335.7 465.7,1335.7 466.5,1335.7 467.3,1335.7 468.1,1335.7 469,1335.7 469.8,1335.7 470.6,1335.7 471.4,1335.7 472.2,1335.7 473,1335.7 473.9,1335.7 474.7,1335.7 475.5,1335.7 476.3,1335.7 477.1,1335.7 478,1335.7 478.8,1317.4 479.6,1317.4 480.4,1317.4 481.2,1317.4 482.1,1317.4 482.9,1317.4 483.7,1317.4 484.5,1317.4 485.3,1317.4 486.2,1317.4 487,1317.4 487.8,1317.4 488.6,1317.4 489.4,1317.4 490.3,1317.4 491.1,1317.4 491.9,1317.4 492.7,1317.4 493.5,1317.4 494.4,1317.4 495.2,1317.4 496,1335.7 496.8,1335.7 497.6,1335.7 498.4,1335.7 499.3,1335.7 500.1,1335.7 500.9,1335.7 501.7,1335.7 502.5,1335.7 503.4,1335.7 504.2,1335.7 505,1335.7 505.8,1353.9 506.6,1353.9 507.5,1335.7 508.3,1353.9 509.1,1335.7 509.9,1353.9 510.7,1335.7 511.6,1335.7 512.4,1353.9 513.2,1335.7 514,1353.9 514.8,1335.7 515.7,1335.7 516.5,1353.9 517.3,1335.7 518.1,1353.9 518.9,1335.7 519.7,1335.7 520.6,1335.7 521.4,1335.7 522.2,1335.7 523,1335.7 523.8,1335.7 524.7,1335.7 525.5,1335.7 526.3,1335.7 527.1,1335.7 527.9,1335.7 528.8,1335.7 529.6,1335.7 530.4,1335.7 531.2,1335.7 532,1335.7 532.9,1335.7 533.7,1335.7 534.5,1335.7 535.3,1335.7 536.1,1335.7 537,1335.7 537.8,1335.7 538.6,1335.7 539.4,1335.7 540.2,1335.7 541,1335.7 541.9,1335.7 542.7,1353.9 543.5,1353.9 544.3,1335.7 545.1,1353.9 546,1335.7 546.8,1335.7 547.6,1353.9 548.4,1353.9 549.2,1335.7 550.1,1353.9 550.9,1335.7 551.7,1335.7 552.5,1335.7 553.3,1353.9 554.2,1353.9 555,1335.7 555.8,1353.9 556.6,1335.7 557.4,1353.9 558.3,1335.7 559.1,1335.7 559.9,1353.9 560.7,1372.1 561.5,1372.1 562.4,1353.9 563.2,1372.1 564,1353.9 564.8,1353.9 565.6,1372.1 566.4,1353.9 567.3,1372.1 568.1,1353.9 568.9,1353.9 569.7,1372.1 570.5,1353.9 571.4,1372.1 572.2,1353.9 573,1372.1 573.8,1372.1 574.6,1372.1 575.5,1353.9 576.3,1372.1 577.1,1372.1 577.9,1372.1 578.7,1372.1 579.6,1372.1 580.4,1353.9 581.2,1353.9 582,1372.1 582.8,1353.9 583.7,1372.1 584.5,1372.1 585.3,1372.1 586.1,1372.1 586.9,1353.9 587.7,1353.9 588.6,1353.9 589.4,1372.1 590.2,1372.1 591,1372.1 591.8,1372.1 592.7,1353.9 593.5,1372.1 594.3,1353.9 595.1,1372.1 595.9,1353.9 596.8,1353.9 597.6,1353.9 598.4,1353.9 599.2,1353.9 600,1353.9 600.9,1372.1 601.7,1372.1 602.5,1353.9 603.3,1372.1 604.1,1372.1 605,1390.4 605.8,1353.9 606.6,1372.1 607.4,1372.1 608.2,1353.9 609,1353.9 609.9,1372.1 610.7,1372.1 611.5,1353.9 612.3,1372.1 613.1,1372.1 614,1353.9 614.8,1353.9 615.6,1372.1 616.4,1353.9 617.2,1372.1 618.1,1372.1 618.9,1353.9 619.7,1372.1 620.5,1372.1 621.3,1372.1 622.2,1353.9 623,1372.1 623.8,1372.1 624.6,1353.9 625.4,1372.1 626.3,1372.1 627.1,1353.9 627.9,1353.9 628.7,1353.9 629.5,1353.9 630.4,1353.9 631.2,1353.9 632,1353.9 632.8,1353.9 633.6,1372.1 634.4,1353.9 635.3,1353.9 636.1,1372.1 636.9,1353.9 637.7,1353.9 638.5,1353.9 639.4,1353.9 640.2,1372.1 641,1353.9 641.8,1353.9 642.6,1353.9 643.5,1353.9 644.3,1372.1 645.1,1353.9 645.9,1372.1 646.7,1372.1 647.6,1353.9 648.4,1372.1 649.2,1372.1 650,1353.9 650.8,1372.1 651.7,1372.1 652.5,1372.1 653.3,1353.9 654.1,1353.9 654.9,1372.1 655.7,1353.9 656.6,1372.1 657.4,1372.1 658.2,1353.9 659,1353.9 659.8,1353.9 660.7,1353.9 661.5,1372.1 662.3,1353.9 663.1,1353.9 663.9,1353.9 664.8,1372.1 665.6,1353.9 666.4,1372.1 667.2,1372.1 668,1372.1 668.9,1372.1 669.7,1372.1 670.5,1372.1 671.3,1372.1 672.1,1372.1 673,1372.1 673.8,1372.1 674.6,1372.1 675.4,1372.1 676.2,1372.1 677.1,1372.1 677.9,1353.9 678.7,1372.1 679.5,1372.1 680.3,1353.9 681.1,1372.1 682,1372.1 682.8,1372.1 683.6,1353.9 684.4,1353.9 685.2,1335.7 686.1,1353.9 686.9,1335.7 687.7,1353.9 688.5,1335.7 689.3,1353.9 690.2,1335.7 691,1335.7 691.8,1335.7 692.6,1353.9 693.4,1335.7 694.3,1335.7 695.1,1353.9 695.9,1335.7 696.7,1353.9 697.5,1353.9 698.4,1353.9 699.2,1353.9 700,1335.7 700.8,1335.7 701.6,1335.7 702.4,1335.7 703.3,1335.7 704.1,1353.9 704.9,1353.9 705.7,1335.7 706.5,1317.4 707.4,1335.7 708.2,1335.7 709,1335.7 709.8,1335.7 710.6,1335.7 711.5,1335.7 712.3,1335.7 713.1,1335.7 713.9,1335.7 714.7,1335.7 715.6,1335.7 716.4,1335.7 717.2,1353.9 718,1353.9 718.8,1335.7 719.7,1353.9 720.5,1335.7 721.3,1353.9 722.1,1335.7 722.9,1335.7 723.8,1353.9 724.6,1353.9 725.4,1353.9 726.2,1353.9 727,1353.9 727.8,1353.9 728.7,1353.9 729.5,1353.9 730.3,1353.9 731.1,1335.7 731.9,1353.9 732.8,1353.9 733.6,1353.9 734.4,1335.7 735.2,1353.9 736,1353.9 736.9,1353.9 737.7,1335.7 738.5,1335.7 739.3,1353.9 740.1,1335.7 741,1353.9 741.8,1353.9 742.6,1353.9 743.4,1353.9 744.2,1335.7 745.1,1335.7 745.9,1353.9 746.7,1353.9 747.5,1335.7 748.3,1335.7 749.1,1335.7 750,1353.9 750.8,1335.7 751.6,1335.7 752.4,1335.7 753.2,1317.4 754.1,1335.7 754.9,1335.7 755.7,1317.4 756.5,1335.7 757.3,1317.4 758.2,1335.7 759,1335.7 759.8,1335.7 760.6,1335.7 761.4,1299.2 762.3,1299.2 763.1,1299.2 763.9,1317.4 764.7,1299.2 765.5,1299.2 766.4,1317.4 767.2,1317.4 768,1299.2 768.8,1299.2 769.6,1317.4 770.4,1317.4 771.3,1317.4 772.1,1299.2 772.9,1317.4 773.7,1317.4 774.5,1299.2 775.4,1317.4 776.2,1281 777,1281 777.8,1281 778.6,1299.2 779.5,1281 780.3,1281 781.1,1299.2 781.9,1317.4 782.7,1299.2 783.6,1299.2 784.4,1299.2 785.2,1299.2 786,1299.2 786.8,1299.2 787.7,1299.2 788.5,1299.2 789.3,1299.2 790.1,1299.2 790.9,1281 791.8,1281 792.6,1281 793.4,1299.2 794.2,1281 795,1299.2 795.8,1281 796.7,1281 797.5,1299.2 798.3,1281 799.1,1299.2 799.9,1299.2 800.8,1281 801.6,1299.2 802.4,1281 803.2,1281 804,1299.2 804.9,1299.2 805.7,1281 806.5,1299.2 807.3,1281 808.1,1281 809,1281 809.8,1299.2 810.6,1317.4 811.4,1299.2 812.2,1299.2 813.1,1299.2 813.9,1299.2 814.7,1299.2 815.5,1299.2 816.3,1317.4 817.1,1281 818,1299.2 818.8,1299.2 819.6,1299.2 820.4,1299.2 821.2,1299.2 822.1,1299.2 822.9,1299.2 823.7,1299.2 824.5,1299.2 825.3,1299.2 826.2,1299.2 827,1299.2 827.8,1299.2 828.6,1299.2 829.4,1299.2 830.3,1299.2 831.1,1281 831.9,1281 832.7,1299.2 833.5,1299.2 834.4,1299.2 835.2,1299.2 836,1299.2 836.8,1299.2 837.6,1299.2 838.4,1299.2 839.3,1299.2 840.1,1281 840.9,1281 841.7,1281 842.5,1281 843.4,1299.2 844.2,1299.2 845,1299.2 845.8,1281 846.6,1281 847.5,1281 848.3,1299.2 849.1,1299.2 849.9,1299.2 850.7,1299.2 851.6,1299.2 852.4,1299.2 853.2,1299.2 854,1299.2 854.8,1299.2 855.7,1299.2 856.5,1299.2 857.3,1281 858.1,1299.2 858.9,1299.2 859.8,1299.2 860.6,1299.2 861.4,1299.2 862.2,1299.2 863,1299.2 863.8,1299.2 864.7,1281 865.5,1299.2 866.3,1281 867.1,1281 867.9,1299.2 868.8,1299.2 869.6,1281 870.4,1299.2 871.2,1281 872,1299.2 872.9,1299.2 873.7,1281 874.5,1299.2 875.3,1299.2 876.1,1281 877,1299.2 877.8,1299.2 878.6,1299.2 879.4,1281 880.2,1299.2 881.1,1299.2 881.9,1281 882.7,1281 883.5,1281 884.3,1281 885.1,1281 886,1281 886.8,1299.2 887.6,1299.2 888.4,1281 889.2,1281 890.1,1281 890.9,1299.2 891.7,1281 892.5,1281 893.3,1281 894.2,1299.2 895,1299.2 895.8,1281 896.6,1299.2 897.4,1299.2 898.3,1299.2 899.1,1299.2 899.9,1281 900.7,1281 901.5,1281 902.4,1299.2 903.2,1281 904,1299.2 904.8,1299.2 905.6,1281 906.5,1299.2 907.3,1299.2 908.1,1299.2 908.9,1299.2 909.7,1281 910.5,1281 911.4,1281" stroke="#04f4f4"/>
</g>
<rect x="663.7" y="1083.3" width="251.1" height="80.3" fill="#fff" stroke="#1c1c1c" stroke-width="1.9"/>
<path d="M675.2,1106.1H680.2" fill="none" stroke="#0903ea" stroke-width="4.9" stroke-dasharray="18.2 4.7 9 4.7"/>
<path d="M679.6,1106.1H796" fill="none" stroke="#0903ea" stroke-width="4.9" stroke-dasharray="18.2 4.7 9 4.7"/>
<path d="M675.2,1140.8H796" fill="none" stroke="#04f4f4" stroke-width="4.8"/>
<text class="lg" x="805.3" y="1116.1">GT</text>
<text class="lg" x="805.3" y="1150.8">YOLOX</text>
<text class="tk" x="92.9" y="1448" text-anchor="middle">0</text>
<text class="tk" x="215.8" y="1448" text-anchor="middle">5</text>
<text class="tk" x="338.7" y="1448" text-anchor="middle">10</text>
<text class="tk" x="461.6" y="1448" text-anchor="middle">15</text>
<text class="tk" x="584.5" y="1448" text-anchor="middle">20</text>
<text class="tk" x="707.4" y="1448" text-anchor="middle">25</text>
<text class="tk" x="830.3" y="1448" text-anchor="middle">30</text>
<text class="tk" x="953.1" y="1448" text-anchor="middle">35</text>
<text class="tk" x="79" y="1053.4" text-anchor="end">2</text>
<text class="tk" x="79" y="1126.3" text-anchor="end">1</text>
<text class="tk" x="79" y="1199.2" text-anchor="end">0</text>
<text class="tk" x="79" y="1272.2" text-anchor="end">-1</text>
<text class="tk" x="79" y="1345.1" text-anchor="end">-2</text>
<text class="tk" x="79" y="1418" text-anchor="end">-3</text>
<text class="lb" x="523" y="1485.4" text-anchor="middle">Time(s)</text>
<text class="lb" transform="translate(38,1226.3) rotate(-90)" text-anchor="middle">Displacement(pixel)</text>
</g>
<g id="p21">
<text class="tt" x="1655.3" y="1037.3" text-anchor="middle">point</text>
<g stroke="#1f1f1f" stroke-width="2.05" fill="none">
<rect x="1225.1" y="1044" width="860.4" height="364.6"/>
<path d="M1225.1,1408.6v-9.2M1225.1,1044v9.2M1348,1408.6v-9.2M1348,1044v9.2M1470.9,1408.6v-9.2M1470.9,1044v9.2M1593.8,1408.6v-9.2M1593.8,1044v9.2M1716.8,1408.6v-9.2M1716.8,1044v9.2M1839.7,1408.6v-9.2M1839.7,1044v9.2M1962.6,1408.6v-9.2M1962.6,1044v9.2M2085.5,1408.6v-9.2M2085.5,1044v9.2M1225.1,1044h9.2M2085.5,1044h-9.2M1225.1,1104.8h9.2M2085.5,1104.8h-9.2M1225.1,1165.5h9.2M2085.5,1165.5h-9.2M1225.1,1226.3h9.2M2085.5,1226.3h-9.2M1225.1,1287.1h9.2M2085.5,1287.1h-9.2M1225.1,1347.8h9.2M2085.5,1347.8h-9.2M1225.1,1408.6h9.2M2085.5,1408.6h-9.2"/>
</g>
<clipPath id="c21"><rect x="1222.7" y="1041.6" width="865.2" height="369.4"/></clipPath>
<g clip-path="url(#c21)" fill="none" stroke-width="4.8" stroke-linejoin="round">
<polyline points="1225.1,1232.4 1226.7,1222 1228.4,1232.2 1230,1218.1 1231.7,1212.9 1233.3,1224.6 1234.9,1213 1236.6,1224.5 1238.2,1209.1 1239.9,1207.7 1241.5,1210.2 1243.1,1220.1 1244.8,1207.4 1246.4,1222.4 1248.1,1217.5 1249.7,1209.7 1251.3,1223.1 1253,1210.6 1254.6,1218 1256.3,1218.1 1257.9,1210.3 1259.6,1220 1261.2,1221.6 1262.8,1211.6 1264.5,1223.9 1266.1,1209.8 1267.8,1223 1269.4,1230 1271,1221.2 1272.7,1232.3 1274.3,1222.6 1276,1234.5 1277.6,1235 1279.2,1224.4 1280.9,1233.5 1282.5,1238.5 1284.2,1235.9 1285.8,1215.1 1287.4,1227.5 1289.1,1213.9 1290.7,1227.9 1292.4,1213.1 1294,1203.2 1295.6,1209.1 1297.3,1222.8 1298.9,1208.6 1300.6,1210.5 1302.2,1224.1 1303.8,1225.6 1305.5,1209.2 1307.1,1221.5 1308.8,1224 1310.4,1217.8 1312,1211.1 1313.7,1209.2 1315.3,1213.3 1317,1201.5 1318.6,1207.5 1320.2,1198.5 1321.9,1195.9 1323.5,1196.5 1325.2,1201.7 1326.8,1190.8 1328.5,1195.6 1330.1,1188.3 1331.7,1189.9 1333.4,1196.4 1335,1198.3 1336.7,1191 1338.3,1186.9 1339.9,1193.8 1341.6,1183.4 1343.2,1192.4 1344.9,1188.4 1346.5,1187 1348.1,1179.8 1349.8,1184.9 1351.4,1176.6 1353.1,1184.2 1354.7,1173.7 1356.3,1182.8 1358,1172.3 1359.6,1179.4 1361.3,1168.4 1362.9,1176.5 1364.5,1170.8 1366.2,1176.8 1367.8,1181.8 1369.5,1188.6 1371.1,1176.4 1372.7,1172.6 1374.4,1164.4 1376,1161 1377.7,1160.6 1379.3,1160.2 1380.9,1164.7 1382.6,1157.5 1384.2,1158.2 1385.9,1157 1387.5,1168 1389.1,1161.6 1390.8,1168.3 1392.4,1160.3 1394.1,1171.3 1395.7,1163.1 1397.4,1168.7 1399,1160.5 1400.6,1167.1 1402.3,1161 1403.9,1160.7 1405.6,1161.5 1407.2,1172.9 1408.8,1171.7 1410.5,1187.3 1412.1,1194.2 1413.8,1205.3 1415.4,1212.3 1417,1214.5 1418.7,1216 1420.3,1221.2 1422,1227.2 1423.6,1239.2 1425.2,1246 1426.9,1254.6 1428.5,1260.1 1430.2,1260.5 1431.8,1266 1433.4,1270.7 1435.1,1278.2 1436.7,1280.6 1438.4,1286.7 1440,1296.3 1441.6,1302.6 1443.3,1304.7 1444.9,1304.4 1446.6,1309.5 1448.2,1312.2 1449.8,1312.1 1451.5,1318.7 1453.1,1317.4 1454.8,1325.7 1456.4,1327.4 1458.1,1335.8 1459.7,1338.5 1461.3,1344.8 1463,1345.6 1464.6,1348.6 1466.3,1351.7 1467.9,1358.4 1469.5,1357.1 1471.2,1368.1 1472.8,1361.3 1474.5,1373.6 1476.1,1355.9 1477.7,1350.9 1479.4,1356.3 1481,1380.1 1482.7,1362.6 1484.3,1375.6 1485.9,1368.9 1487.6,1369.7 1489.2,1361.2 1490.9,1373.7 1492.5,1372.4 1494.1,1380.4 1495.8,1372.9 1497.4,1382.9 1499.1,1372.7 1500.7,1371.1 1502.3,1392.3 1504,1393.4 1505.6,1385.8 1507.3,1378.1 1508.9,1382.2 1510.5,1387.8 1512.2,1378.3 1513.8,1389.1 1515.5,1386.2 1517.1,1381.3 1518.7,1389.6 1520.4,1378.7 1522,1390 1523.7,1380.9 1525.3,1385.2 1527,1385.8 1528.6,1386.3 1530.2,1377.6 1531.9,1387.3 1533.5,1378.8 1535.2,1386.4 1536.8,1386.7 1538.4,1377.1 1540.1,1379.3 1541.7,1389.3 1543.4,1387.1 1545,1375.9 1546.6,1369.1 1548.3,1364.9 1549.9,1376.7 1551.6,1381.2 1553.2,1355.4 1554.8,1375.1 1556.5,1353.6 1558.1,1379.4 1559.8,1370.7 1561.4,1345.6 1563,1346.6 1564.7,1348.7 1566.3,1376.3 1568,1367.6 1569.6,1348.5 1571.2,1377 1572.9,1344.8 1574.5,1373.6 1576.2,1349.7 1577.8,1374.1 1579.4,1352.2 1581.1,1379.7 1582.7,1353.2 1584.4,1372 1586,1373.1 1587.7,1377.1 1589.3,1371.7 1590.9,1380.1 1592.6,1352 1594.2,1355.9 1595.9,1374.3 1597.5,1354.2 1599.1,1384.6 1600.8,1353.7 1602.4,1353.3 1604.1,1363.8 1605.7,1378.4 1607.3,1377.7 1609,1389.8 1610.6,1384.6 1612.3,1358.3 1613.9,1352.2 1615.5,1377.2 1617.2,1351.6 1618.8,1347.2 1620.5,1350.4 1622.1,1376.4 1623.7,1374.2 1625.4,1367.3 1627,1364 1628.7,1364.4 1630.3,1385.9 1631.9,1369.1 1633.6,1382.3 1635.2,1367 1636.9,1376.2 1638.5,1379.6 1640.1,1361.2 1641.8,1363.8 1643.4,1362.4 1645.1,1373.8 1646.7,1359.5 1648.3,1369.1 1650,1356.6 1651.6,1375.4 1653.3,1355 1654.9,1375.2 1656.6,1352.5 1658.2,1352.7 1659.8,1363.6 1661.5,1354.1 1663.1,1371.6 1664.8,1357 1666.4,1376.2 1668,1364.4 1669.7,1380.5 1671.3,1367.9 1673,1367.9 1674.6,1380.1 1676.2,1378.5 1677.9,1362.4 1679.5,1385.1 1681.2,1363.1 1682.8,1379.3 1684.4,1386.9 1686.1,1384.9 1687.7,1387.2 1689.4,1370.7 1691,1368.2 1692.6,1382.3 1694.3,1371 1695.9,1382.5 1697.6,1385.5 1699.2,1385 1700.8,1363.6 1702.5,1375.8 1704.1,1364.3 1705.8,1380.6 1707.4,1372.8 1709,1380.9 1710.7,1374.2 1712.3,1383.3 1714,1377.8 1715.6,1387.8 1717.2,1386.4 1718.9,1382.1 1720.5,1388.4 1722.2,1382.1 1723.8,1390.1 1725.5,1381 1727.1,1387.6 1728.7,1381.9 1730.4,1392 1732,1381.5 1733.7,1387 1735.3,1380.4 1736.9,1386.9 1738.6,1378.3 1740.2,1388.7 1741.9,1385.6 1743.5,1376.5 1745.1,1390.1 1746.8,1387 1748.4,1387.4 1750.1,1372.4 1751.7,1383.4 1753.3,1375.2 1755,1369.3 1756.6,1371.9 1758.3,1380 1759.9,1367.8 1761.5,1367 1763.2,1383.7 1764.8,1369.8 1766.5,1382.5 1768.1,1371.1 1769.7,1383.6 1771.4,1381.1 1773,1391.6 1774.7,1388.5 1776.3,1367.1 1777.9,1371.8 1779.6,1383.3 1781.2,1366.4 1782.9,1383.4 1784.5,1371.7 1786.2,1370.8 1787.8,1378.4 1789.4,1368.5 1791.1,1384 1792.7,1366.9 1794.4,1379.7 1796,1369.7 1797.6,1380.6 1799.3,1381.9 1800.9,1370 1802.6,1369.1 1804.2,1368 1805.8,1384.8 1807.5,1372.4 1809.1,1375.4 1810.8,1393.9 1812.4,1396.4 1814,1393.3 1815.7,1376 1817.3,1385.8 1819,1378.4 1820.6,1365.1 1822.2,1376.8 1823.9,1367.2 1825.5,1360 1827.2,1362.1 1828.8,1380.7 1830.4,1374.2 1832.1,1383.6 1833.7,1378.5 1835.4,1391.1 1837,1377.8 1838.6,1393.2 1840.3,1384.2 1841.9,1394.3 1843.6,1386 1845.2,1386.4 1846.8,1386.3 1848.5,1395.9 1850.1,1383.9 1851.8,1397.6 1853.4,1376.2 1855.1,1385.8 1856.7,1365.1 1858.3,1376.3 1860,1358.4 1861.6,1374.7 1863.3,1355.4 1864.9,1368.1 1866.5,1357.4 1868.2,1372.8 1869.8,1361.7 1871.5,1373.5 1873.1,1364.6 1874.7,1378.9 1876.4,1369.9 1878,1383.2 1879.7,1375.8 1881.3,1391.4 1882.9,1372.6 1884.6,1383.5 1886.2,1369.3 1887.9,1378 1889.5,1360.4 1891.1,1366.6 1892.8,1353.8 1894.4,1360.2 1896.1,1347.4 1897.7,1352.3 1899.3,1338.7 1901,1348.8 1902.6,1332.8 1904.3,1348.7 1905.9,1330.4 1907.5,1338.9 1909.2,1326.7 1910.8,1323.5 1912.5,1330.9 1914.1,1323.1 1915.8,1340.5 1917.4,1328.7 1919,1331.9 1920.7,1343.6 1922.3,1330.2 1924,1337.9 1925.6,1325 1927.2,1326.6 1928.9,1320.8 1930.5,1327.1 1932.2,1320.3 1933.8,1323.8 1935.4,1324.7 1937.1,1340.9 1938.7,1326.6 1940.4,1344.1 1942,1322.8 1943.6,1341.2 1945.3,1332.7 1946.9,1320.3 1948.6,1324.2 1950.2,1336.1 1951.8,1324.6 1953.5,1330 1955.1,1327.5 1956.8,1347.4 1958.4,1346.6 1960,1345.1 1961.7,1335.4 1963.3,1340.8 1965,1339 1966.6,1329.1 1968.2,1341.5 1969.9,1339.5 1971.5,1322.5 1973.2,1326 1974.8,1319.9 1976.4,1323 1978.1,1334.1 1979.7,1323.7 1981.4,1341.6 1983,1329.3 1984.7,1343.2 1986.3,1337.3 1987.9,1344.8 1989.6,1343.5 1991.2,1326.5 1992.9,1340.1 1994.5,1319.5 1996.1,1326.1 1997.8,1318.7 1999.4,1321.1 2001.1,1336.9 2002.7,1324.5 2004.3,1320.6 2006,1337.7 2007.6,1335.8 2009.3,1341.9 2010.9,1341.1 2012.5,1326.8 2014.2,1338.7 2015.8,1327.3 2017.5,1342.2 2019.1,1322.2 2020.7,1322 2022.4,1319.3 2024,1325.2 2025.7,1321.4 2027.3,1333.2 2028.9,1335.2 2030.6,1334.9 2032.2,1325.5 2033.9,1323.9 2035.5,1335.7 2037.1,1337.9 2038.8,1329.1 2040.4,1316.8 2042.1,1318.9 2043.7,1324.7" stroke="#0903ea" stroke-width="4.9" stroke-dasharray="18.2 4.7 9 4.7"/>
<polyline points="1225.1,1227.2 1225.9,1206.3 1226.7,1127.9 1227.6,1210.2 1228.4,1162.4 1229.2,1229.8 1230,1256.7 1230.8,1219.9 1231.7,1219 1232.5,1236.5 1233.3,1168.8 1234.1,1165.5 1234.9,1219.3 1235.8,1229.1 1236.6,1216.5 1237.4,1256.7 1238.2,1135.4 1239,1173.8 1239.8,1158.5 1240.7,1171.1 1241.5,1215.1 1242.3,1219.3 1243.1,1168.5 1243.9,1203.5 1244.8,1144.4 1245.6,1128.5 1246.4,1222.1 1247.2,1174.1 1248,1065.3 1248.9,1224.4 1249.7,1216 1250.5,1172.4 1251.3,1222.1 1252.1,1155.6 1253,1216.9 1253.8,1162.2 1254.6,1222 1255.4,1165.3 1256.2,1147.6 1257.1,1164.7 1257.9,1219.7 1258.7,1212 1259.5,1213.6 1260.3,1236.4 1261.2,1248.2 1262,1222.3 1262.8,1231.6 1263.6,1162.6 1264.4,1156.2 1265.3,1203.7 1266.1,1205.6 1266.9,1208.1 1267.7,1170.6 1268.5,1245.8 1269.3,1169.9 1270.2,1229.2 1271,1175.9 1271.8,1156.8 1272.6,1210.7 1273.4,1214.3 1274.3,1143.1 1275.1,1209.5 1275.9,1162.8 1276.7,1146.3 1277.5,1242.7 1278.4,1149.1 1279.2,1160.3 1280,1216.1 1280.8,1237.7 1281.6,1121.8 1282.5,1217.9 1283.3,1167.1 1284.1,1258.5 1284.9,1208.3 1285.7,1173.6 1286.6,1205 1287.4,1216.5 1288.2,1153.9 1289,1207.3 1289.8,1219 1290.7,1205.2 1291.5,1160.1 1292.3,1178.2 1293.1,1161 1293.9,1138.8 1294.8,1221.5 1295.6,1121.8 1296.4,1208.1 1297.2,1163.5 1298,1224.4 1298.8,1209 1299.7,1251 1300.5,1221.7 1301.3,1175.4 1302.1,1174.7 1302.9,1134.5 1303.8,1210.7 1304.6,1219 1305.4,1212.3 1306.2,1171.9 1307,1128.2 1307.9,1208.3 1308.7,1113.9 1309.5,1138.7 1310.3,1163.8 1311.1,1220.5 1312,1151.5 1312.8,1160.5 1313.6,1232.7 1314.4,1156.6 1315.2,1254.9 1316.1,1203.9 1316.9,1218.1 1317.7,1138.1 1318.5,1229.2 1319.3,1081.7 1320.2,1204.7 1321,1169.8 1321.8,1212 1322.6,1266.4 1323.4,1165.7 1324.3,1212.8 1325.1,1225.1 1325.9,1224.4 1326.7,1175.3 1327.5,1179.2 1328.3,1134.6 1329.2,1207.3 1330,1210.3 1330.8,1217.6 1331.6,1220.1 1332.4,1217.9 1333.3,1253.6 1334.1,1173.4 1334.9,1210.5 1335.7,1144.1 1336.5,1208.8 1337.4,1174.7 1338.2,1222 1339,1202.8 1339.8,1126.6 1340.6,1151 1341.5,1113.9 1342.3,1211.6 1343.1,1228.1 1343.9,1154.1 1344.7,1162.2 1345.6,1159.7 1346.4,1175.6 1347.2,1165.5 1348,1161.1 1348.8,1256.5 1349.7,1177.7 1350.5,1221.5 1351.3,1215.5 1352.1,1136 1352.9,1158.6 1353.8,1160.3 1354.6,1161.7 1355.4,1212 1356.2,1215.7 1357,1209.3 1357.8,1116.9 1358.7,1151.7 1359.5,1158.2 1360.3,1214.5 1361.1,1221.7 1361.9,1168.1 1362.8,1249.8 1363.6,1151.5 1364.4,1167.2 1365.2,1210.2 1366,1210.5 1366.9,1160.1 1367.7,1210.7 1368.5,1234.4 1369.3,1203.1 1370.1,1265.2 1371,1155.7 1371.8,1162.1 1372.6,1201.6 1373.4,1217.7 1374.2,1173 1375.1,1221.3 1375.9,1167.6 1376.7,1121.9 1377.5,1204.8 1378.3,1149.6 1379.2,1225.9 1380,1206 1380.8,1265.2 1381.6,1121.6 1382.4,1222.9 1383.2,1179.3 1384.1,1206.8 1384.9,1061.6 1385.7,1171.3 1386.5,1219.2 1387.3,1151.9 1388.2,1213.3 1389,1151.6 1389.8,1165.6 1390.6,1130.1 1391.4,1208 1392.3,1215 1393.1,1215.1 1393.9,1173.2 1394.7,1265.2 1395.5,1158.5 1396.4,1130.1 1397.2,1092.6 1398,1209.6 1398.8,1225.4 1399.6,1216.9 1400.5,1173.4 1401.3,1148.4 1402.1,1224.8 1402.9,1242.7 1403.7,1127 1404.6,1164.6 1405.4,1230.5 1406.2,1208.1 1407,1256.7 1407.8,1170.5 1408.7,1131.9 1409.5,1121.8 1410.3,1222.1 1411.1,1223.3 1411.9,1179.8 1412.7,1207.8 1413.6,1161.2 1414.4,1137.8 1415.2,1217.9 1416,1123.4 1416.8,1167.1 1417.7,1161.9 1418.5,1211.9 1419.3,1113.9 1420.1,1137 1420.9,1171.9 1421.8,1159.3 1422.6,1173.5 1423.4,1229.9 1424.2,1278 1425,1161 1425.9,1149.8 1426.7,1162.8 1427.5,1167.5 1428.3,1228.3 1429.1,1165.7 1430,1171.9 1430.8,1175.2 1431.6,1098.7 1432.4,1175 1433.2,1154.8 1434.1,1174.4 1434.9,1134.4 1435.7,1216.2 1436.5,1243.5 1437.3,1214.8 1438.2,1204.5 1439,1253.6 1439.8,1136 1440.6,1232.2 1441.4,1115.1 1442.2,1163.9 1443.1,1216.3 1443.9,1160 1444.7,1225.5 1445.5,1166.6 1446.3,1144.7 1447.2,1154.9 1448,1214.8 1448.8,1174.9 1449.6,1203.1 1450.4,1177.2 1451.3,1216.5 1452.1,1212.7 1452.9,1217.9 1453.7,1160.5 1454.5,1161.9 1455.4,1217.9 1456.2,1123 1457,1210.5 1457.8,1154.3 1458.6,1217.6 1459.5,1217.2 1460.3,1208.5 1461.1,1226.4 1461.9,1163.2 1462.7,1072 1463.6,1227.5 1464.4,1235.7 1465.2,1153.6 1466,1146.2 1466.8,1144.7 1467.7,1214.9 1468.5,1217.6 1469.3,1236.5 1470.1,1151.2 1470.9,1134.7 1471.7,1226.7 1472.6,1221.9 1473.4,1216.3 1474.2,1171.6 1475,1172.1 1475.8,1180.2 1476.7,1222.8 1477.5,1123 1478.3,1206.9 1479.1,1223 1479.9,1213.9 1480.8,1182.5 1481.6,1178.1 1482.4,1213.7 1483.2,1256.1 1484,1207.2 1484.9,1175.4 1485.7,1176.4 1486.5,1168.2 1487.3,1216.9 1488.1,1163.1 1489,1179.6 1489.8,1218.4 1490.6,1222.9 1491.4,1216.1 1492.2,1162.5 1493.1,1161.5 1493.9,1161.4 1494.7,1166 1495.5,1213.1 1496.3,1227.5 1497.2,1228.8 1498,1153.2 1498.8,1248.7 1499.6,1164.2 1500.4,1201.2 1501.2,1152.8 1502.1,1226.6 1502.9,1215.5 1503.7,1140.4 1504.5,1147.3 1505.3,1112.7 1506.2,1204.7 1507,1231.8 1507.8,1166.4 1508.6,1214.6 1509.4,1253.6 1510.3,1211 1511.1,1213.1 1511.9,1224.9 1512.7,1164.1 1513.5,1207.8 1514.4,1210.6 1515.2,1120 1516,1155.5 1516.8,1159.7 1517.6,1167 1518.5,1156.2 1519.3,1213.2 1520.1,1172.5 1520.9,1229.4 1521.7,1178.8 1522.6,1157.5 1523.4,1224.1 1524.2,1170.1 1525,1212 1525.8,1130.1 1526.6,1161.4 1527.5,1219.1 1528.3,1181.1 1529.1,1175.7 1529.9,1203.8 1530.7,1162.6 1531.6,1227.5 1532.4,1112.7 1533.2,1133.7 1534,1228.9 1534.8,1167.2 1535.7,1218.2 1536.5,1164.8 1537.3,1216.6 1538.1,1217.1 1538.9,1217.2 1539.8,1234.3 1540.6,1219.5 1541.4,1141.8 1542.2,1167.5 1543,1217.2 1543.9,1176.1 1544.7,1137 1545.5,1170.6 1546.3,1219.5 1547.1,1167.1 1548,1251.8 1548.8,1146.5 1549.6,1141.2 1550.4,1171.6 1551.2,1217 1552.1,1160.2 1552.9,1211.4 1553.7,1130.9 1554.5,1118.7 1555.3,1122.5 1556.1,1169.7 1557,1220.6 1557.8,1218.9 1558.6,1231.6 1559.4,1220.3 1560.2,1142.7 1561.1,1211 1561.9,1145.4 1562.7,1211.1 1563.5,1183.9 1564.3,1211.3 1565.2,1140.2 1566,1216.3 1566.8,1086.5 1567.6,1234.6 1568.4,1208.7 1569.3,1165.9 1570.1,1214.5 1570.9,1231.8 1571.7,1217.2 1572.5,1146.1 1573.4,1231.9 1574.2,1204.4 1575,1235.1 1575.8,1174.9 1576.6,1227.6 1577.5,1164.3 1578.3,1123.3 1579.1,1159.7 1579.9,1242 1580.7,1163.2 1581.6,1211.6 1582.4,1209 1583.2,1160.9 1584,1170.2 1584.8,1169.9 1585.6,1210.6 1586.5,1260.9 1587.3,1163.7 1588.1,1221.9 1588.9,1113.9 1589.7,1179 1590.6,1209.9 1591.4,1131.7 1592.2,1252.1 1593,1162.6 1593.8,1174.4 1594.7,1212.8 1595.5,1177.8 1596.3,1146.1 1597.1,1218.3 1597.9,1206.2 1598.8,1136.2 1599.6,1155.6 1600.4,1176.5 1601.2,1240.6 1602,1203.6 1602.9,1249.4 1603.7,1222.3 1604.5,1218.4 1605.3,1178.3 1606.1,1129.1 1607,1170.3 1607.8,1161.5 1608.6,1250.6 1609.4,1170.3 1610.2,1203.8 1611.1,1132.4 1611.9,1169.9 1612.7,1163.4 1613.5,1169.3 1614.3,1208.4 1615.1,1212.1 1616,1133.3 1616.8,1211.5 1617.6,1234.9 1618.4,1102.3 1619.2,1218 1620.1,1150 1620.9,1183.7 1621.7,1139.9 1622.5,1209.1 1623.3,1252.5 1624.2,1143.9 1625,1130.4 1625.8,1132.3 1626.6,1163.2 1627.4,1236.6 1628.3,1164.6 1629.1,1217.2 1629.9,1215 1630.7,1163.1 1631.5,1221.8 1632.4,1146.8 1633.2,1215.9 1634,1131.5 1634.8,1208.1 1635.6,1166.6 1636.5,1235 1637.3,1159.6 1638.1,1254.9 1638.9,1226.3 1639.7,1241 1640.6,1208.3 1641.4,1168.9 1642.2,1204.4 1643,1131.9 1643.8,1177.8 1644.6,1224.2 1645.5,1101.1 1646.3,1212.8 1647.1,1168 1647.9,1214.3 1648.7,1207.6 1649.6,1205.1 1650.4,1162.6 1651.2,1205.6 1652,1153 1652.8,1110.8 1653.7,1171.4 1654.5,1167.1 1655.3,1242.1 1656.1,1215.5 1656.9,1221.4 1657.8,1133.4 1658.6,1233.2 1659.4,1216.7 1660.2,1161.9 1661,1238.1 1661.9,1131.3 1662.7,1207.9 1663.5,1209.5 1664.3,1212.3 1665.1,1162.9 1666,1226.3 1666.8,1226.2 1667.6,1223.1 1668.4,1162.1 1669.2,1206.2 1670,1221.4 1670.9,1227.8 1671.7,1219 1672.5,1145.3 1673.3,1208.4 1674.1,1147.3 1675,1135.4 1675.8,1183.1 1676.6,1160.6 1677.4,1207.9 1678.2,1151 1679.1,1213.8 1679.9,1210.6 1680.7,1172.3 1681.5,1224.1 1682.3,1215.3 1683.2,1163.6 1684,1233.8 1684.8,1216 1685.6,1174.3 1686.4,1175.1 1687.3,1163.6 1688.1,1129.7 1688.9,1235 1689.7,1216.2 1690.5,1218.3 1691.4,1173.2 1692.2,1241.5 1693,1162 1693.8,1144.9 1694.6,1144.3 1695.5,1173.5 1696.3,1234.2 1697.1,1134.2 1697.9,1150.9 1698.7,1068.3 1699.5,1216.5 1700.4,1170 1701.2,1139.7 1702,1210.2 1702.8,1170.2 1703.6,1210.2 1704.5,1226 1705.3,1220.9 1706.1,1157 1706.9,1176.5 1707.7,1215.1 1708.6,1181.5 1709.4,1173.5 1710.2,1220.6 1711,1214.2 1711.8,1159.8 1712.7,1240.7 1713.5,1200.9 1714.3,1171.5 1715.1,1134.9 1715.9,1209.5 1716.8,1161.1 1717.6,1206.3 1718.4,1225.4 1719.2,1143.7 1720,1178.8 1720.9,1219 1721.7,1171.5 1722.5,1163.2 1723.3,1227.1 1724.1,1225.1 1725,1218.8 1725.8,1164.9 1726.6,1204 1727.4,1215.1 1728.2,1166.7 1729,1156.6 1729.9,1139.9 1730.7,1172.2 1731.5,1216.4 1732.3,1142.3 1733.1,1226.7 1734,1224.4 1734.8,1218.7 1735.6,1168.4 1736.4,1158.2 1737.2,1217.1 1738.1,1162.3 1738.9,1265.2 1739.7,1166.5 1740.5,1216.1 1741.3,1225.3 1742.2,1118 1743,1177.9 1743.8,1244.8 1744.6,1224 1745.4,1180 1746.3,1207.5 1747.1,1127 1747.9,1161 1748.7,1163.9 1749.5,1216.5 1750.4,1157.9 1751.2,1265.2 1752,1216.3 1752.8,1158.8 1753.6,1156.8 1754.5,1224.6 1755.3,1208.7 1756.1,1152.2 1756.9,1215.2 1757.7,1209.2 1758.5,1164.7 1759.4,1168 1760.2,1223 1761,1161.6 1761.8,1209.8 1762.6,1145.1 1763.5,1215.3 1764.3,1139.5 1765.1,1145.3 1765.9,1213.4 1766.7,1170.8 1767.6,1167.5 1768.4,1150 1769.2,1233.3 1770,1228.5 1770.8,1157.5 1771.7,1135.4 1772.5,1218.1 1773.3,1212.5 1774.1,1176 1774.9,1250.1 1775.8,1217.8 1776.6,1160.3 1777.4,1233.4 1778.2,1078 1779,1215.2 1779.9,1214.7 1780.7,1216.7 1781.5,1265.2 1782.3,1168.2 1783.1,1221.5 1784,1224.4 1784.8,1164.3 1785.6,1209 1786.4,1225.5 1787.2,1129.2 1788,1147.9 1788.9,1203.4 1789.7,1225.3 1790.5,1208.5 1791.3,1160.7 1792.1,1206 1793,1141.7 1793.8,1162.4 1794.6,1216 1795.4,1208.5 1796.2,1237.7 1797.1,1253.1 1797.9,1170.5 1798.7,1210.5 1799.5,1207.7 1800.3,1209.3 1801.2,1126.3 1802,1227.6 1802.8,1151 1803.6,1155.7 1804.4,1147.9 1805.3,1150.4 1806.1,1228.1 1806.9,1183.2 1807.7,1205.1 1808.5,1168.7 1809.4,1162.6 1810.2,1124.5 1811,1166.9 1811.8,1162.4 1812.6,1163.4 1813.4,1205 1814.3,1212.5 1815.1,1153.4 1815.9,1250.7 1816.7,1158 1817.5,1217.8 1818.4,1128.3 1819.2,1207.6 1820,1160.3 1820.8,1219.4 1821.6,1221.1 1822.5,1215.7 1823.3,1177.6 1824.1,1201.2 1824.9,1207.6 1825.7,1216 1826.6,1145.9 1827.4,1164.2 1828.2,1172.8 1829,1222.6 1829.8,1207.8 1830.7,1156 1831.5,1143.4 1832.3,1259.7 1833.1,1221 1833.9,1154.7 1834.8,1202.6 1835.6,1248.5 1836.4,1217.6 1837.2,1168.7 1838,1230.4 1838.9,1201.9 1839.7,1155.4 1840.5,1214 1841.3,1147.5 1842.1,1175.7 1842.9,1242 1843.8,1251.7 1844.6,1211.9 1845.4,1142 1846.2,1207.6 1847,1155.7 1847.9,1228 1848.7,1151 1849.5,1210.1 1850.3,1165.3 1851.1,1213.6 1852,1169.6 1852.8,1166.8 1853.6,1214.5 1854.4,1236.3 1855.2,1204.4 1856.1,1243.2 1856.9,1217.1 1857.7,1231.5 1858.5,1156.6 1859.3,1156.7 1860.2,1162.8 1861,1155.8 1861.8,1163.1 1862.6,1221.2 1863.4,1151.5 1864.3,1133 1865.1,1201.7 1865.9,1226.1 1866.7,1265.2 1867.5,1211.2 1868.4,1217.2 1869.2,1220.5 1870,1210.4 1870.8,1219.2 1871.6,1162.1 1872.4,1158.4 1873.3,1219.1 1874.1,1126.1 1874.9,1138.8 1875.7,1227.1 1876.5,1254.1 1877.4,1211.1 1878.2,1241.5 1879,1221.1 1879.8,1175.8 1880.6,1164.9 1881.5,1168.5 1882.3,1141.5 1883.1,1164.9 1883.9,1202.5 1884.7,1211.2 1885.6,1209 1886.4,1162.7 1887.2,1161.6 1888,1217.5 1888.8,1214 1889.7,1227.6 1890.5,1142.2 1891.3,1157.7 1892.1,1167.7 1892.9,1222.4 1893.8,1221.2 1894.6,1216 1895.4,1208 1896.2,1179.4 1897,1219.1 1897.9,1174.5 1898.7,1221.3 1899.5,1210.9 1900.3,1211.4 1901.1,1215.5 1901.9,1225 1902.8,1248.5 1903.6,1216.2 1904.4,1208.3 1905.2,1226.8 1906,1131.6 1906.9,1219.7 1907.7,1159.9 1908.5,1265.2 1909.3,1208.3 1910.1,1165.2 1911,1235.7 1911.8,1221.3 1912.6,1171.4 1913.4,1169.1 1914.2,1212.7 1915.1,1167.3 1915.9,1203.9 1916.7,1213 1917.5,1173.4 1918.3,1203.3 1919.2,1217.7 1920,1208 1920.8,1169.8 1921.6,1215.8 1922.4,1205.2 1923.3,1181.8 1924.1,1170.6 1924.9,1172.2 1925.7,1241.2 1926.5,1129.3 1927.4,1147.4 1928.2,1155.9 1929,1218.6 1929.8,1124.2 1930.6,1163 1931.4,1217.4 1932.3,1155.4 1933.1,1168.3 1933.9,1129.3 1934.7,1146.6 1935.5,1159.7 1936.4,1162.2 1937.2,1209.7 1938,1129.8 1938.8,1144.9 1939.6,1219.4 1940.5,1217.2 1941.3,1173.3 1942.1,1164.5 1942.9,1247.8 1943.7,1218.7 1944.6,1226.5 1945.4,1159.2 1946.2,1133.7 1947,1224.4 1947.8,1206.2 1948.7,1169 1949.5,1223.3 1950.3,1250.6 1951.1,1252.5 1951.9,1207.9 1952.8,1218.1 1953.6,1255.2 1954.4,1148.1 1955.2,1222 1956,1162 1956.8,1152 1957.7,1119 1958.5,1213.4 1959.3,1171.1 1960.1,1219.4 1960.9,1216.6 1961.8,1218 1962.6,1243 1963.4,1173.4 1964.2,1138.4 1965,1210.5 1965.9,1148.9 1966.7,1210.4 1967.5,1202.7 1968.3,1155.8 1969.1,1121.2 1970,1162.1 1970.8,1169.9 1971.6,1158.3 1972.4,1209.9 1973.2,1162.4 1974.1,1173.2 1974.9,1150 1975.7,1204.2 1976.5,1145.1 1977.3,1210 1978.2,1162 1979,1227.1 1979.8,1163 1980.6,1233 1981.4,1139.8 1982.3,1167.8 1983.1,1235.2 1983.9,1213.9 1984.7,1177.2 1985.5,1214.6 1986.3,1247.4 1987.2,1201.7 1988,1152.9 1988.8,1160.3 1989.6,1171.9 1990.4,1218.5 1991.3,1207 1992.1,1125.1 1992.9,1256.5 1993.7,1209.5 1994.5,1150.6 1995.4,1220.1 1996.2,1144.3 1997,1156.6 1997.8,1166.7 1998.6,1154.1 1999.5,1132.2 2000.3,1213.8 2001.1,1200.5 2001.9,1172.4 2002.7,1221.8 2003.6,1168 2004.4,1214.4 2005.2,1217 2006,1173.2 2006.8,1250.2 2007.7,1221.6 2008.5,1212.6 2009.3,1175.4 2010.1,1221.8 2010.9,1229.4 2011.8,1204.5 2012.6,1233.5 2013.4,1173.6 2014.2,1201 2015,1216.2 2015.8,1150.9 2016.7,1213.5 2017.5,1130.2 2018.3,1237.4 2019.1,1209.5 2019.9,1228.6 2020.8,1222 2021.6,1223.1 2022.4,1179.4 2023.2,1169.8 2024,1145.9 2024.9,1137.8 2025.7,1205.3 2026.5,1178.6 2027.3,1180.1 2028.1,1208.8 2029,1134.1 2029.8,1217.6 2030.6,1169.1 2031.4,1219.7 2032.2,1209.8 2033.1,1133.5 2033.9,1166.1 2034.7,1165.8 2035.5,1171.1 2036.3,1203.3 2037.2,1214.8 2038,1168.3 2038.8,1156.8 2039.6,1202.1 2040.4,1222.5 2041.3,1233.6 2042.1,1209.8 2042.9,1229.2 2043.7,1157.3" stroke="#04f4f4"/>
</g>
<rect x="1671.8" y="1083.3" width="373.8" height="80.3" fill="#fff" stroke="#1c1c1c" stroke-width="1.9"/>
<path d="M1683.7,1106.1H1804.5" fill="none" stroke="#0903ea" stroke-width="4.9" stroke-dasharray="18.2 4.7 9 4.7"/>
<path d="M1683.7,1140.8H1804.5" fill="none" stroke="#04f4f4" stroke-width="4.8"/>
<text class="lg" x="1813.8" y="1116.1">GT</text>
<text class="lg" x="1813.8" y="1150.8">Rorate-Faster-Rcnn</text>
<text class="tk" x="1225.1" y="1448" text-anchor="middle">0</text>
<text class="tk" x="1348" y="1448" text-anchor="middle">5</text>
<text class="tk" x="1470.9" y="1448" text-anchor="middle">10</text>
<text class="tk" x="1593.8" y="1448" text-anchor="middle">15</text>
<text class="tk" x="1716.8" y="1448" text-anchor="middle">20</text>
<text class="tk" x="1839.7" y="1448" text-anchor="middle">25</text>
<text class="tk" x="1962.6" y="1448" text-anchor="middle">30</text>
<text class="tk" x="2085.5" y="1448" text-anchor="middle">35</text>
<text class="tk" x="1211.2" y="1053.4" text-anchor="end">3</text>
<text class="tk" x="1211.2" y="1114.2" text-anchor="end">2</text>
<text class="tk" x="1211.2" y="1174.9" text-anchor="end">1</text>
<text class="tk" x="1211.2" y="1235.7" text-anchor="end">0</text>
<text class="tk" x="1211.2" y="1296.5" text-anchor="end">-1</text>
<text class="tk" x="1211.2" y="1357.2" text-anchor="end">-2</text>
<text class="tk" x="1211.2" y="1418" text-anchor="end">-3</text>
<text class="lb" x="1655.3" y="1485.4" text-anchor="middle">Time(s)</text>
<text class="lb" transform="translate(1170.2,1226.3) rotate(-90)" text-anchor="middle">Displacement(pixel)</text>
</g>
<g id="p30">
<text class="tt" x="523" y="1543.5" text-anchor="middle">point</text>
<g stroke="#1f1f1f" stroke-width="2.05" fill="none">
<rect x="92.9" y="1550.2" width="860.2" height="365.6"/>
<path d="M92.9,1915.8v-9.2M92.9,1550.2v9.2M215.8,1915.8v-9.2M215.8,1550.2v9.2M338.7,1915.8v-9.2M338.7,1550.2v9.2M461.6,1915.8v-9.2M461.6,1550.2v9.2M584.5,1915.8v-9.2M584.5,1550.2v9.2M707.4,1915.8v-9.2M707.4,1550.2v9.2M830.3,1915.8v-9.2M830.3,1550.2v9.2M953.1,1915.8v-9.2M953.1,1550.2v9.2M92.9,1550.2h9.2M953.1,1550.2h-9.2M92.9,1623.3h9.2M953.1,1623.3h-9.2M92.9,1696.4h9.2M953.1,1696.4h-9.2M92.9,1769.6h9.2M953.1,1769.6h-9.2M92.9,1842.7h9.2M953.1,1842.7h-9.2M92.9,1915.8h9.2M953.1,1915.8h-9.2"/>
</g>
<clipPath id="c30"><rect x="90.5" y="1547.8" width="865" height="370.4"/></clipPath>
<g clip-path="url(#c30)" fill="none" stroke-width="4.8" stroke-linejoin="round">
<polyline points="92.9,1703.7 94.5,1691.3 96.2,1703.6 97.8,1686.5 99.5,1680.3 101.1,1694.4 102.7,1680.4 104.4,1694.2 106,1675.7 107.7,1674.1 109.3,1677.1 110.9,1689 112.6,1673.7 114.2,1691.7 115.9,1685.9 117.5,1676.5 119.1,1692.6 120.8,1677.6 122.4,1686.5 124.1,1686.6 125.7,1677.1 127.3,1688.8 129,1690.8 130.6,1678.8 132.3,1693.5 133.9,1676.6 135.5,1692.4 137.2,1700.9 138.8,1690.3 140.5,1703.6 142.1,1692 143.7,1706.3 145.4,1706.9 147,1694.1 148.7,1705.1 150.3,1711.1 151.9,1708 153.6,1682.9 155.2,1697.9 156.9,1681.5 158.5,1698.4 160.1,1680.6 161.8,1668.7 163.4,1675.7 165.1,1692.2 166.7,1675.1 168.3,1677.5 170,1693.8 171.6,1695.6 173.3,1675.9 174.9,1690.6 176.6,1693.6 178.2,1686.2 179.8,1678.2 181.5,1675.9 183.1,1680.8 184.8,1666.6 186.4,1673.8 188,1663 189.7,1659.9 191.3,1660.5 193,1666.9 194.6,1653.8 196.2,1659.6 197.9,1650.7 199.5,1652.6 201.2,1660.4 202.8,1662.7 204.4,1653.9 206.1,1649.1 207.7,1657.4 209.4,1644.8 211,1655.6 212.6,1650.8 214.3,1649.2 215.9,1640.5 217.6,1646.6 219.2,1636.6 220.8,1645.8 222.5,1633.2 224.1,1644 225.8,1631.5 227.4,1640 229,1626.7 230.7,1636.5 232.3,1629.7 234,1636.8 235.6,1642.9 237.2,1651.1 238.9,1636.3 240.5,1631.9 242.2,1622 243.8,1617.8 245.4,1617.4 247.1,1616.9 248.7,1622.4 250.4,1613.6 252,1614.5 253.6,1613 255.3,1626.3 256.9,1618.6 258.6,1626.7 260.2,1617 261.8,1630.3 263.5,1620.3 265.1,1627.1 266.8,1617.3 268.4,1625.2 270,1617.9 271.7,1617.5 273.3,1618.4 275,1632.2 276.6,1630.7 278.2,1649.6 279.9,1657.8 281.5,1671.2 283.2,1679.6 284.8,1682.3 286.4,1684 288.1,1690.3 289.7,1697.5 291.4,1712 293,1720.2 294.6,1730.5 296.3,1737.1 297.9,1737.5 299.6,1744.2 301.2,1749.9 302.8,1758.9 304.5,1761.7 306.1,1769.1 307.8,1780.7 309.4,1788.2 311,1790.8 312.7,1790.4 314.3,1796.5 316,1799.8 317.6,1799.6 319.2,1807.7 320.9,1806 322.5,1816.1 324.2,1818.1 325.8,1828.2 327.5,1831.4 329.1,1839 330.7,1840 332.4,1843.7 334,1847.4 335.7,1855.4 337.3,1853.8 338.9,1867.1 340.6,1858.9 342.2,1873.7 343.9,1852.4 345.5,1846.3 347.1,1852.8 348.8,1881.5 350.4,1860.4 352.1,1876.1 353.7,1868 355.3,1868.9 357,1858.8 358.6,1873.8 360.3,1872.2 361.9,1881.8 363.5,1872.8 365.2,1884.9 366.8,1872.5 368.5,1870.7 370.1,1896.1 371.7,1897.5 373.4,1888.4 375,1879.1 376.7,1884 378.3,1890.8 379.9,1879.4 381.6,1892.4 383.2,1888.9 384.9,1882.9 386.5,1892.9 388.1,1879.8 389.8,1893.4 391.4,1882.5 393.1,1887.6 394.7,1888.4 396.3,1889 398,1878.5 399.6,1890.2 401.3,1879.9 402.9,1889.1 404.5,1889.5 406.2,1877.8 407.8,1880.6 409.5,1892.6 411.1,1889.9 412.7,1876.5 414.4,1868.3 416,1863.2 417.7,1877.4 419.3,1882.8 420.9,1851.8 422.6,1875.4 424.2,1849.6 425.9,1880.6 427.5,1870.2 429.1,1840 430.8,1841.2 432.4,1843.8 434.1,1876.9 435.7,1866.5 437.3,1843.5 439,1877.8 440.6,1839 442.3,1873.7 443.9,1844.9 445.5,1874.3 447.2,1847.9 448.8,1881 450.5,1849.1 452.1,1871.7 453.7,1873 455.4,1877.9 457,1871.4 458.7,1881.5 460.3,1847.7 461.9,1852.4 463.6,1874.5 465.2,1850.4 466.9,1886.9 468.5,1849.7 470.1,1849.3 471.8,1861.8 473.4,1879.4 475.1,1878.7 476.7,1893.1 478.4,1886.9 480,1855.3 481.6,1847.9 483.3,1878 484.9,1847.2 486.6,1841.9 488.2,1845.8 489.8,1877 491.5,1874.4 493.1,1866.1 494.8,1862.1 496.4,1862.7 498,1888.5 499.7,1868.2 501.3,1884.1 503,1865.8 504.6,1876.9 506.2,1880.9 507.9,1858.8 509.5,1861.9 511.2,1860.2 512.8,1873.9 514.4,1856.7 516.1,1868.2 517.7,1853.3 519.4,1875.8 521,1851.3 522.6,1875.6 524.3,1848.3 525.9,1848.5 527.6,1861.6 529.2,1850.2 530.8,1871.2 532.5,1853.7 534.1,1876.9 535.8,1862.7 537.4,1881.9 539,1866.8 540.7,1866.8 542.3,1881.5 544,1879.6 545.6,1860.2 547.2,1887.5 548.9,1861 550.5,1880.5 552.2,1889.7 553.8,1887.3 555.4,1890.1 557.1,1870.2 558.7,1867.1 560.4,1884.1 562,1870.5 563.6,1884.4 565.3,1888 566.9,1887.4 568.6,1861.7 570.2,1876.4 571.8,1862.5 573.5,1882.1 575.1,1872.7 576.8,1882.5 578.4,1874.5 580,1885.4 581.7,1878.7 583.3,1890.8 585,1889.1 586.6,1883.9 588.2,1891.5 589.9,1883.9 591.5,1893.5 593.2,1882.6 594.8,1890.5 596.4,1883.7 598.1,1895.8 599.7,1883.2 601.4,1889.8 603,1881.8 604.6,1889.7 606.3,1879.3 607.9,1891.9 609.6,1888.2 611.2,1877.2 612.8,1893.6 614.5,1889.9 616.1,1890.2 617.8,1872.2 619.4,1885.5 621,1875.6 622.7,1868.5 624.3,1871.6 626,1881.4 627.6,1866.7 629.2,1865.8 630.9,1885.9 632.5,1869.2 634.2,1884.4 635.8,1870.7 637.5,1885.8 639.1,1882.7 640.7,1895.3 642.4,1891.6 644,1865.9 645.7,1871.5 647.3,1885.3 648.9,1865 650.6,1885.5 652.2,1871.4 653.9,1870.3 655.5,1879.4 657.1,1867.6 658.8,1886.2 660.4,1865.6 662.1,1881.1 663.7,1869 665.3,1882.1 667,1883.7 668.6,1869.3 670.3,1868.3 671.9,1866.9 673.5,1887.2 675.2,1872.2 676.8,1875.8 678.5,1898.1 680.1,1901.2 681.7,1897.4 683.4,1876.6 685,1888.4 686.7,1879.5 688.3,1863.5 689.9,1877.5 691.6,1865.9 693.2,1857.3 694.9,1859.8 696.5,1882.2 698.1,1874.4 699.8,1885.7 701.4,1879.6 703.1,1894.8 704.7,1878.7 706.3,1897.2 708,1886.4 709.6,1898.6 711.3,1888.6 712.9,1889 714.5,1889 716.2,1900.5 717.8,1886.1 719.5,1902.6 721.1,1876.9 722.7,1888.4 724.4,1863.4 726,1876.9 727.7,1855.4 729.3,1875 730.9,1851.8 732.6,1867.1 734.2,1854.2 735.9,1872.7 737.5,1859.4 739.1,1873.5 740.8,1862.8 742.4,1880 744.1,1869.3 745.7,1885.2 747.3,1876.3 749,1895.2 750.6,1872.4 752.3,1885.6 753.9,1868.5 755.5,1879 757.2,1857.8 758.8,1865.2 760.5,1849.9 762.1,1857.5 763.7,1842.1 765.4,1848.1 767,1831.7 768.7,1843.8 770.3,1824.6 771.9,1843.7 773.6,1821.7 775.2,1831.9 776.9,1817.2 778.5,1813.4 780.1,1822.4 781.8,1812.9 783.4,1833.9 785.1,1819.6 786.7,1823.5 788.4,1837.6 790,1821.5 791.6,1830.8 793.3,1815.2 794.9,1817.1 796.6,1810.1 798.2,1817.7 799.8,1809.6 801.5,1813.7 803.1,1814.8 804.8,1834.3 806.4,1817.2 808,1838.1 809.7,1812.5 811.3,1834.7 813,1824.5 814.6,1809.5 816.2,1814.2 817.9,1828.6 819.5,1814.7 821.2,1821.2 822.8,1818.3 824.4,1842.2 826.1,1841.2 827.7,1839.4 829.4,1827.8 831,1834.2 832.6,1832.1 834.3,1820.2 835.9,1835 837.6,1832.6 839.2,1812.3 840.8,1816.4 842.5,1809 844.1,1812.7 845.8,1826.2 847.4,1813.6 849,1835.2 850.7,1820.4 852.3,1837.1 854,1830 855.6,1839 857.2,1837.5 858.9,1817 860.5,1833.4 862.2,1808.6 863.8,1816.6 865.4,1807.6 867.1,1810.5 868.7,1829.6 870.4,1814.6 872,1810 873.6,1830.5 875.3,1828.3 876.9,1835.5 878.6,1834.6 880.2,1817.4 881.8,1831.7 883.5,1818 885.1,1835.9 886.8,1811.8 888.4,1811.6 890,1808.3 891.7,1815.5 893.3,1810.9 895,1825 896.6,1827.5 898.2,1827.1 899.9,1815.8 901.5,1813.8 903.2,1828.1 904.8,1830.7 906.4,1820.2 908.1,1805.4 909.7,1807.8 911.4,1814.9" stroke="#0903ea" stroke-width="4.9" stroke-dasharray="18.2 4.7 9 4.7"/>
<polyline points="92.9,1686.1 93.7,1679.7 94.5,1640.8 95.4,1690.6 96.2,1595.4 97,1617.1 97.8,1675.8 98.6,1625.2 99.5,1626.9 100.3,1683.3 101.1,1685.9 101.9,1635.3 102.7,1642.4 103.6,1678.6 104.4,1709.8 105.2,1635.5 106,1640.9 106.8,1731.5 107.6,1688.4 108.5,1711.9 109.3,1621.9 110.1,1684.6 110.9,1643.8 111.7,1669.9 112.6,1693.9 113.4,1631.7 114.2,1665.3 115,1619.2 115.8,1690.2 116.7,1633.9 117.5,1642.7 118.3,1594.9 119.1,1632.4 119.9,1674.6 120.8,1675.3 121.6,1669.7 122.4,1600.4 123.2,1677.5 124,1632.9 124.9,1686.1 125.7,1665.2 126.5,1644 127.3,1634.6 128.1,1682.7 128.9,1624 129.8,1634 130.6,1665.7 131.4,1682.9 132.2,1688.9 133,1624.1 133.9,1624.7 134.7,1629.8 135.5,1617 136.3,1619.6 137.1,1629.5 138,1648.5 138.8,1690.4 139.6,1676.3 140.4,1721.3 141.2,1556.8 142.1,1667.2 142.9,1678.8 143.7,1633.9 144.5,1609.7 145.3,1586.6 146.2,1584.9 147,1686.1 147.8,1681.8 148.6,1674.2 149.4,1686.2 150.2,1682.8 151.1,1634.9 151.9,1627.5 152.7,1629.9 153.5,1675.9 154.3,1599.8 155.2,1628.8 156,1692.7 156.8,1674.1 157.6,1601.8 158.4,1629.5 159.3,1627.4 160.1,1700.8 160.9,1673 161.7,1634.3 162.5,1671.6 163.4,1678.5 164.2,1615.9 165,1687.9 165.8,1624.2 166.6,1685.1 167.5,1625.4 168.3,1618.2 169.1,1577.3 169.9,1693.1 170.7,1597.7 171.6,1682.5 172.4,1678.3 173.2,1674.9 174,1645.5 174.8,1628.9 175.6,1682.9 176.5,1684 177.3,1685.7 178.1,1682.9 178.9,1671.1 179.7,1565.6 180.6,1682.3 181.4,1594.4 182.2,1622.5 183,1609 183.8,1615.9 184.7,1631.7 185.5,1627.3 186.3,1681.4 187.1,1631.7 187.9,1594.2 188.8,1626.2 189.6,1604 190.4,1667.3 191.2,1641.6 192,1665.7 192.9,1626.8 193.7,1673.6 194.5,1607.7 195.3,1698.5 196.1,1603.9 196.9,1670.7 197.8,1726.4 198.6,1625.1 199.4,1692.3 200.2,1619.8 201,1604.9 201.9,1678.1 202.7,1592.6 203.5,1683.9 204.3,1634.6 205.1,1605.8 206,1625.9 206.8,1602.5 207.6,1633.4 208.4,1628.5 209.2,1629.9 210.1,1699.2 210.9,1586.9 211.7,1633.6 212.5,1668.6 213.3,1758.6 214.2,1611 215,1596.8 215.8,1679.8 216.6,1683.4 217.4,1684 218.3,1639.3 219.1,1615.5 219.9,1612.8 220.7,1699.7 221.5,1640.8 222.3,1625 223.2,1630.9 224,1632.3 224.8,1632.9 225.6,1683.9 226.4,1624.1 227.3,1676.6 228.1,1717.4 228.9,1677.7 229.7,1607.5 230.5,1727.9 231.4,1686.7 232.2,1680.4 233,1616.3 233.8,1615.4 234.6,1682.9 235.5,1635.5 236.3,1668.4 237.1,1671.2 237.9,1621.8 238.7,1678 239.6,1689.1 240.4,1727.9 241.2,1679.4 242,1636.1 242.8,1592.6 243.6,1686.6 244.5,1594.5 245.3,1682.2 246.1,1701.5 246.9,1604.5 247.7,1633.4 248.6,1680.2 249.4,1622.7 250.2,1593.6 251,1676.6 251.8,1623.6 252.7,1679 253.5,1669.5 254.3,1671 255.1,1603.8 255.9,1644.9 256.8,1601.8 257.6,1695.4 258.4,1696.7 259.2,1689.6 260,1628.3 260.9,1684.6 261.7,1674.8 262.5,1572.1 263.3,1637 264.1,1702.8 265,1695.5 265.8,1625.5 266.6,1616.6 267.4,1567 268.2,1671.6 269,1597.6 269.9,1698.8 270.7,1690.9 271.5,1682.5 272.3,1641.5 273.1,1667.8 274,1675.2 274.8,1672.4 275.6,1682.6 276.4,1692.1 277.2,1614.1 278.1,1682.6 278.9,1680.3 279.7,1634.1 280.5,1601.5 281.3,1686.7 282.2,1682.1 283,1682.1 283.8,1586.8 284.6,1666.8 285.4,1626.3 286.3,1635 287.1,1580.9 287.9,1672 288.7,1675 289.5,1626.3 290.3,1690.5 291.2,1595.2 292,1677.8 292.8,1628.4 293.6,1638.2 294.4,1614.5 295.3,1680.7 296.1,1687.3 296.9,1697.9 297.7,1617.2 298.5,1691.2 299.4,1631.1 300.2,1614.5 301,1672.1 301.8,1678.9 302.6,1682.3 303.5,1619.6 304.3,1679.5 305.1,1616.4 305.9,1606.9 306.7,1568.5 307.6,1605.5 308.4,1634 309.2,1692.3 310,1667.9 310.8,1621.5 311.6,1643.9 312.5,1679.2 313.3,1632.5 314.1,1689.7 314.9,1616.2 315.7,1623.4 316.6,1666.7 317.4,1618.1 318.2,1673.9 319,1690.1 319.8,1616.7 320.7,1689.9 321.5,1632.3 322.3,1664 323.1,1615.9 323.9,1582.4 324.8,1596.4 325.6,1634.9 326.4,1630.5 327.2,1673.2 328,1685.9 328.9,1626.9 329.7,1663.3 330.5,1613.7 331.3,1689.1 332.1,1680 333,1735.2 333.8,1692 334.6,1630.6 335.4,1608.5 336.2,1595.5 337,1631.6 337.9,1626.7 338.7,1614.8 339.5,1676.9 340.3,1600.3 341.1,1679.9 342,1684.1 342.8,1603.3 343.6,1634.1 344.4,1715.1 345.2,1634.7 346.1,1627.3 346.9,1670.7 347.7,1610.8 348.5,1701.9 349.3,1606.3 350.2,1687.3 351,1619.9 351.8,1604.9 352.6,1627.7 353.4,1676.5 354.3,1619.8 355.1,1638.6 355.9,1628.6 356.7,1620.2 357.5,1718.8 358.3,1690.4 359.2,1665.3 360,1683.5 360.8,1673.9 361.6,1699.2 362.4,1593 363.3,1588.1 364.1,1672.4 364.9,1687.9 365.7,1627.4 366.5,1629.2 367.4,1621.6 368.2,1626.3 369,1680.8 369.8,1605.6 370.6,1645.6 371.5,1682.7 372.3,1626.8 373.1,1594.1 373.9,1683.4 374.7,1618.9 375.6,1632.6 376.4,1628.8 377.2,1619.9 378,1689 378.8,1634.2 379.6,1691.8 380.5,1683.3 381.3,1623.8 382.1,1643.2 382.9,1620.5 383.7,1666.9 384.6,1587.5 385.4,1668.1 386.2,1701.1 387,1620 387.8,1673.1 388.7,1665.4 389.5,1622.9 390.3,1745.4 391.1,1693.4 391.9,1669.2 392.8,1599.5 393.6,1684.8 394.4,1677.9 395.2,1622.6 396,1570.7 396.9,1618.3 397.7,1623.1 398.5,1674.4 399.3,1641.7 400.1,1679.2 401,1621.8 401.8,1604.4 402.6,1628.2 403.4,1674.1 404.2,1746.9 405,1685.1 405.9,1610.8 406.7,1670.1 407.5,1637.9 408.3,1617.4 409.1,1679.2 410,1613.2 410.8,1672.2 411.6,1618.9 412.4,1575.1 413.2,1627.8 414.1,1678.6 414.9,1673.5 415.7,1694.2 416.5,1692.7 417.3,1631.4 418.2,1620.9 419,1620.6 419.8,1579.4 420.6,1634.9 421.4,1685.8 422.3,1634.2 423.1,1608.6 423.9,1587.2 424.7,1634.9 425.5,1584.1 426.3,1641.6 427.2,1696 428,1621.7 428.8,1632.5 429.6,1579.4 430.4,1707.4 431.3,1637.7 432.1,1633.3 432.9,1686.2 433.7,1730.1 434.5,1695.4 435.4,1684.8 436.2,1608.1 437,1623.2 437.8,1672.4 438.6,1626.6 439.5,1670.8 440.3,1642 441.1,1646.2 441.9,1680.7 442.7,1620.9 443.6,1708.1 444.4,1687.9 445.2,1691.7 446,1624.9 446.8,1618.6 447.7,1617.1 448.5,1632.6 449.3,1693.1 450.1,1625.9 450.9,1614.5 451.7,1627.9 452.6,1700.2 453.4,1603.9 454.2,1706.7 455,1626.7 455.8,1616 456.7,1687.4 457.5,1622.7 458.3,1613.2 459.1,1597.6 459.9,1675.9 460.8,1683.4 461.6,1645.2 462.4,1644.8 463.2,1665.9 464,1638.9 464.9,1692.5 465.7,1685.9 466.5,1678.6 467.3,1706.8 468.1,1605.5 469,1679.3 469.8,1635.4 470.6,1626.1 471.4,1633.2 472.2,1642.6 473,1679.7 473.9,1678 474.7,1629.9 475.5,1668.4 476.3,1714.7 477.1,1627.4 478,1692.6 478.8,1669.9 479.6,1667.5 480.4,1631.4 481.2,1675.8 482.1,1613.3 482.9,1675.1 483.7,1619 484.5,1628.4 485.3,1690.8 486.2,1564.8 487,1680.5 487.8,1665.6 488.6,1680 489.4,1674 490.3,1670.7 491.1,1624.6 491.9,1613.8 492.7,1671.7 493.5,1636 494.4,1684 495.2,1621.4 496,1669.5 496.8,1672.2 497.6,1636.6 498.4,1703.2 499.3,1622.9 500.1,1677.2 500.9,1624.1 501.7,1636.3 502.5,1612.7 503.4,1627.7 504.2,1637.8 505,1690.3 505.8,1613.6 506.6,1718 507.5,1646.5 508.3,1678.2 509.1,1707.9 509.9,1616.5 510.7,1682.4 511.6,1610.2 512.4,1686.5 513.2,1695.7 514,1691.5 514.8,1618.2 515.7,1685.2 516.5,1675.4 517.3,1690.8 518.1,1625.7 518.9,1624 519.7,1683.9 520.6,1611.2 521.4,1679.8 522.2,1612.5 523,1604.3 523.8,1668.1 524.7,1636.5 525.5,1679.6 526.3,1671.3 527.1,1594 527.9,1692.3 528.8,1687.6 529.6,1615.5 530.4,1683 531.2,1691.6 532,1668 532.9,1565.6 533.7,1673.1 534.5,1698.7 535.3,1597.9 536.1,1633.1 537,1637.1 537.8,1754.2 538.6,1679.9 539.4,1611.1 540.2,1695.9 541,1709 541.9,1617.4 542.7,1612.1 543.5,1669.7 544.3,1625.5 545.1,1616.7 546,1630.7 546.8,1633.3 547.6,1573.6 548.4,1628.6 549.2,1610.8 550.1,1690.5 550.9,1641.5 551.7,1613.9 552.5,1699.7 553.3,1630.1 554.2,1686.5 555,1627.3 555.8,1627.9 556.6,1604.2 557.4,1575.1 558.3,1627.3 559.1,1681.7 559.9,1681.4 560.7,1621.3 561.5,1607.5 562.4,1682.5 563.2,1615.1 564,1669.5 564.8,1644 565.6,1606.9 566.4,1638.7 567.3,1632.7 568.1,1634.4 568.9,1697.3 569.7,1685.2 570.5,1600.9 571.4,1615.9 572.2,1686.4 573,1637.1 573.8,1689 574.6,1618.4 575.5,1602.4 576.3,1738.1 577.1,1627.1 577.9,1675.9 578.7,1621.1 579.6,1691.6 580.4,1673.3 581.2,1679.9 582,1624.2 582.8,1676 583.7,1627.9 584.5,1687.2 585.3,1683.4 586.1,1641.8 586.9,1693.8 587.7,1636.4 588.6,1685.4 589.4,1671.4 590.2,1692.4 591,1613.4 591.8,1671.1 592.7,1704.5 593.5,1629.6 594.3,1711.5 595.1,1617.9 595.9,1617.2 596.8,1563.4 597.6,1623.9 598.4,1608.4 599.2,1674.6 600,1596.5 600.9,1696.8 601.7,1675.3 602.5,1608.2 603.3,1615.9 604.1,1628.1 605,1613.4 605.8,1623.8 606.6,1613.8 607.4,1680.1 608.2,1672.8 609,1728.6 609.9,1687.5 610.7,1685.5 611.5,1577.3 612.3,1643.2 613.1,1639.9 614,1611 614.8,1668.5 615.6,1592.8 616.4,1673.9 617.2,1648.1 618.1,1692.6 618.9,1611.4 619.7,1605.5 620.5,1622.1 621.3,1682.8 622.2,1687 623,1625 623.8,1619.6 624.6,1618.5 625.4,1687.7 626.3,1637 627.1,1667.9 627.9,1631.3 628.7,1560.4 629.5,1626 630.4,1598.2 631.2,1611.4 632,1618.6 632.8,1626.1 633.6,1719.8 634.4,1636.5 635.3,1684.7 636.1,1716.2 636.9,1666.2 637.7,1606.2 638.5,1598.1 639.4,1679.1 640.2,1621.1 641,1638.3 641.8,1682.9 642.6,1691.3 643.5,1702.1 644.3,1681.4 645.1,1636.6 645.9,1628.2 646.7,1618.1 647.6,1702.5 648.4,1676 649.2,1599.1 650,1606.5 650.8,1677.2 651.7,1682.1 652.5,1635.2 653.3,1684.6 654.1,1635.5 654.9,1635.2 655.7,1632.3 656.6,1683.1 657.4,1619.6 658.2,1681.1 659,1697.1 659.8,1618.2 660.7,1675.2 661.5,1625 662.3,1623.1 663.1,1691.2 663.9,1676.1 664.8,1709.8 665.6,1687.2 666.4,1667 667.2,1677.5 668,1681 668.9,1672.3 669.7,1623.7 670.5,1631.4 671.3,1622 672.1,1683.8 673,1637.3 673.8,1697 674.6,1627.2 675.4,1631.8 676.2,1669.2 677.1,1745.4 677.9,1629.3 678.7,1623.9 679.5,1639.1 680.3,1694 681.1,1604.4 682,1683.8 682.8,1717.5 683.6,1617.1 684.4,1693.6 685.2,1633.4 686.1,1696.3 686.9,1691.8 687.7,1686.1 688.5,1628.7 689.3,1614 690.2,1714.7 691,1609.9 691.8,1683.9 692.6,1624.2 693.4,1678.5 694.3,1685.7 695.1,1611 695.9,1677.5 696.7,1611.6 697.5,1676.9 698.4,1677.3 699.2,1628.2 700,1669.1 700.8,1620.7 701.6,1677.8 702.4,1718.1 703.3,1630.6 704.1,1625 704.9,1686.1 705.7,1620.2 706.5,1677 707.4,1591 708.2,1677.6 709,1680.7 709.8,1623.3 710.6,1634.4 711.5,1690.4 712.3,1698.9 713.1,1674 713.9,1644 714.7,1575.1 715.6,1707.8 716.4,1688.4 717.2,1636.7 718,1630.7 718.8,1609.5 719.7,1682.6 720.5,1673.1 721.3,1647.3 722.1,1680.5 722.9,1675.3 723.8,1621.5 724.6,1683.7 725.4,1621.5 726.2,1674.1 727,1697.9 727.8,1628.9 728.7,1638.3 729.5,1647.5 730.3,1614.3 731.1,1696.5 731.9,1648 732.8,1622.4 733.6,1669.1 734.4,1682.6 735.2,1673.5 736,1598.1 736.9,1638.8 737.7,1611.8 738.5,1616 739.3,1671.2 740.1,1615.1 741,1626.3 741.8,1680.8 742.6,1622.2 743.4,1619.9 744.2,1680.2 745.1,1680.3 745.9,1630.5 746.7,1611.9 747.5,1616.7 748.3,1686.6 749.1,1613.6 750,1622.7 750.8,1697.6 751.6,1626.3 752.4,1682.9 753.2,1619.4 754.1,1681 754.9,1642.4 755.7,1626.4 756.5,1687.2 757.3,1688.4 758.2,1691.9 759,1645 759.8,1686.4 760.6,1637.5 761.4,1633.3 762.3,1633 763.1,1686.2 763.9,1624.5 764.7,1688.3 765.5,1619.4 766.4,1610.3 767.2,1671.6 768,1617.8 768.8,1692.2 769.6,1643.4 770.4,1676.2 771.3,1682.7 772.1,1631.7 772.9,1632.6 773.7,1584.1 774.5,1671.8 775.4,1637.9 776.2,1683.2 777,1695.4 777.8,1629.8 778.6,1721.3 779.5,1674.6 780.3,1670.4 781.1,1601.5 781.9,1691.2 782.7,1690.5 783.6,1624.1 784.4,1687.7 785.2,1663.8 786,1632.5 786.8,1686.2 787.7,1641.3 788.5,1587.3 789.3,1626.8 790.1,1709.6 790.9,1555.3 791.8,1640.6 792.6,1627.6 793.4,1692.8 794.2,1624.8 795,1689.4 795.8,1697.6 796.7,1604.9 797.5,1643 798.3,1628.3 799.1,1760.8 799.9,1668.4 800.8,1611.6 801.6,1625.5 802.4,1699.9 803.2,1634.4 804,1679.7 804.9,1638.8 805.7,1733 806.5,1683.9 807.3,1621.6 808.1,1702.6 809,1685.3 809.8,1625.8 810.6,1675.8 811.4,1620.2 812.2,1684.6 813.1,1558.2 813.9,1620.6 814.7,1610.3 815.5,1696.8 816.3,1637.3 817.1,1674.8 818,1692.1 818.8,1670.3 819.6,1681 820.4,1604.5 821.2,1673.6 822.1,1620.2 822.9,1616 823.7,1641.7 824.5,1583.1 825.3,1725 826.2,1586.1 827,1623.1 827.8,1629.8 828.6,1647.4 829.4,1683.1 830.3,1634.6 831.1,1669.6 831.9,1702.6 832.7,1642.2 833.5,1624 834.4,1609.6 835.2,1704.9 836,1688.8 836.8,1636.5 837.6,1680.7 838.4,1620.9 839.3,1702.7 840.1,1636 840.9,1599.3 841.7,1689.4 842.5,1594.5 843.4,1639.4 844.2,1618.1 845,1641.9 845.8,1622.9 846.6,1624.2 847.5,1620 848.3,1620.8 849.1,1677.2 849.9,1675 850.7,1619.8 851.6,1686.6 852.4,1626 853.2,1647.7 854,1683.9 854.8,1628.4 855.7,1667.9 856.5,1681.3 857.3,1579.4 858.1,1686 858.9,1637.7 859.8,1642.1 860.6,1644.1 861.4,1679.7 862.2,1689.9 863,1667.8 863.8,1603.4 864.7,1621 865.5,1698.1 866.3,1632.4 867.1,1679.9 867.9,1624 868.8,1677.9 869.6,1632.2 870.4,1684.6 871.2,1617.2 872,1609.7 872.9,1633.5 873.7,1622.6 874.5,1687.6 875.3,1614.5 876.1,1627.1 877,1684.5 877.8,1627.8 878.6,1691.6 879.4,1614.8 880.2,1682.9 881.1,1675.4 881.9,1677.3 882.7,1623.6 883.5,1674.7 884.3,1679.9 885.1,1635.9 886,1666.2 886.8,1683.3 887.6,1599.4 888.4,1680.3 889.2,1640.9 890.1,1642.8 890.9,1611.2 891.7,1620.2 892.5,1673.2 893.3,1682.8 894.2,1638.5 895,1607.7 895.8,1686.8 896.6,1642.9 897.4,1672.7 898.3,1673.9 899.1,1613.8 899.9,1675.6 900.7,1692.1 901.5,1626.3 902.4,1711.9 903.2,1617.7 904,1690.8 904.8,1636.4 905.6,1705.6 906.5,1624.5 907.3,1641.3 908.1,1619.3 908.9,1691.6 909.7,1596.1 910.5,1646 911.4,1614.8" stroke="#0ef50e"/>
</g>
<rect x="694.3" y="1589.5" width="220.5" height="87.2" fill="#fff" stroke="#1c1c1c" stroke-width="1.9"/>
<path d="M707.6,1611.9H828.4" fill="none" stroke="#0903ea" stroke-width="4.9" stroke-dasharray="18.2 4.7 9 4.7"/>
<path d="M707.6,1650.6H828.4" fill="none" stroke="#0ef50e" stroke-width="4.8"/>
<text class="lg" x="837.7" y="1621.9">GT</text>
<text class="lg" x="837.7" y="1664.7">R<tspan dy="-13.5" font-size="22.2">3</tspan><tspan dy="13.5" dx="1.5">det</tspan></text>
<text class="tk" x="92.9" y="1955.2" text-anchor="middle">0</text>
<text class="tk" x="215.8" y="1955.2" text-anchor="middle">5</text>
<text class="tk" x="338.7" y="1955.2" text-anchor="middle">10</text>
<text class="tk" x="461.6" y="1955.2" text-anchor="middle">15</text>
<text class="tk" x="584.5" y="1955.2" text-anchor="middle">20</text>
<text class="tk" x="707.4" y="1955.2" text-anchor="middle">25</text>
<text class="tk" x="830.3" y="1955.2" text-anchor="middle">30</text>
<text class="tk" x="953.1" y="1955.2" text-anchor="middle">35</text>
<text class="tk" x="79" y="1559.6" text-anchor="end">2</text>
<text class="tk" x="79" y="1632.7" text-anchor="end">1</text>
<text class="tk" x="79" y="1705.8" text-anchor="end">0</text>
<text class="tk" x="79" y="1779" text-anchor="end">-1</text>
<text class="tk" x="79" y="1852.1" text-anchor="end">-2</text>
<text class="tk" x="79" y="1925.2" text-anchor="end">-3</text>
<text class="lb" x="523" y="1992.6" text-anchor="middle">Time(s)</text>
<text class="lb" transform="translate(38,1733) rotate(-90)" text-anchor="middle">Displacement(pixel)</text>
</g>
<g id="p31">
<text class="tt" x="1655.3" y="1543.5" text-anchor="middle">point</text>
<g stroke="#1f1f1f" stroke-width="2.05" fill="none">
<rect x="1225.1" y="1550.2" width="860.4" height="365.6"/>
<path d="M1225.1,1915.8v-9.2M1225.1,1550.2v9.2M1348,1915.8v-9.2M1348,1550.2v9.2M1470.9,1915.8v-9.2M1470.9,1550.2v9.2M1593.8,1915.8v-9.2M1593.8,1550.2v9.2M1716.8,1915.8v-9.2M1716.8,1550.2v9.2M1839.7,1915.8v-9.2M1839.7,1550.2v9.2M1962.6,1915.8v-9.2M1962.6,1550.2v9.2M2085.5,1915.8v-9.2M2085.5,1550.2v9.2M1225.1,1550.2h9.2M2085.5,1550.2h-9.2M1225.1,1623.3h9.2M2085.5,1623.3h-9.2M1225.1,1696.4h9.2M2085.5,1696.4h-9.2M1225.1,1769.6h9.2M2085.5,1769.6h-9.2M1225.1,1842.7h9.2M2085.5,1842.7h-9.2M1225.1,1915.8h9.2M2085.5,1915.8h-9.2"/>
</g>
<clipPath id="c31"><rect x="1222.7" y="1547.8" width="865.2" height="370.4"/></clipPath>
<g clip-path="url(#c31)" fill="none" stroke-width="4.8" stroke-linejoin="round">
<polyline points="1225.1,1703.7 1226.7,1691.3 1228.4,1703.6 1230,1686.5 1231.7,1680.3 1233.3,1694.4 1234.9,1680.4 1236.6,1694.2 1238.2,1675.7 1239.9,1674.1 1241.5,1677.1 1243.1,1689 1244.8,1673.7 1246.4,1691.7 1248.1,1685.9 1249.7,1676.5 1251.3,1692.6 1253,1677.6 1254.6,1686.5 1256.3,1686.6 1257.9,1677.1 1259.6,1688.8 1261.2,1690.8 1262.8,1678.8 1264.5,1693.5 1266.1,1676.6 1267.8,1692.4 1269.4,1700.9 1271,1690.3 1272.7,1703.6 1274.3,1692 1276,1706.3 1277.6,1706.9 1279.2,1694.1 1280.9,1705.1 1282.5,1711.1 1284.2,1708 1285.8,1682.9 1287.4,1697.9 1289.1,1681.5 1290.7,1698.4 1292.4,1680.6 1294,1668.7 1295.6,1675.7 1297.3,1692.2 1298.9,1675.1 1300.6,1677.5 1302.2,1693.8 1303.8,1695.6 1305.5,1675.9 1307.1,1690.6 1308.8,1693.6 1310.4,1686.2 1312,1678.2 1313.7,1675.9 1315.3,1680.8 1317,1666.6 1318.6,1673.8 1320.2,1663 1321.9,1659.9 1323.5,1660.5 1325.2,1666.9 1326.8,1653.8 1328.5,1659.6 1330.1,1650.7 1331.7,1652.6 1333.4,1660.4 1335,1662.7 1336.7,1653.9 1338.3,1649.1 1339.9,1657.4 1341.6,1644.8 1343.2,1655.6 1344.9,1650.8 1346.5,1649.2 1348.1,1640.5 1349.8,1646.6 1351.4,1636.6 1353.1,1645.8 1354.7,1633.2 1356.3,1644 1358,1631.5 1359.6,1640 1361.3,1626.7 1362.9,1636.5 1364.5,1629.7 1366.2,1636.8 1367.8,1642.9 1369.5,1651.1 1371.1,1636.3 1372.7,1631.9 1374.4,1622 1376,1617.8 1377.7,1617.4 1379.3,1616.9 1380.9,1622.4 1382.6,1613.6 1384.2,1614.5 1385.9,1613 1387.5,1626.3 1389.1,1618.6 1390.8,1626.7 1392.4,1617 1394.1,1630.3 1395.7,1620.3 1397.4,1627.1 1399,1617.3 1400.6,1625.2 1402.3,1617.9 1403.9,1617.5 1405.6,1618.4 1407.2,1632.2 1408.8,1630.7 1410.5,1649.6 1412.1,1657.8 1413.8,1671.2 1415.4,1679.6 1417,1682.3 1418.7,1684 1420.3,1690.3 1422,1697.5 1423.6,1712 1425.2,1720.2 1426.9,1730.5 1428.5,1737.1 1430.2,1737.5 1431.8,1744.2 1433.4,1749.9 1435.1,1758.9 1436.7,1761.7 1438.4,1769.1 1440,1780.7 1441.6,1788.2 1443.3,1790.8 1444.9,1790.4 1446.6,1796.5 1448.2,1799.8 1449.8,1799.6 1451.5,1807.7 1453.1,1806 1454.8,1816.1 1456.4,1818.1 1458.1,1828.2 1459.7,1831.4 1461.3,1839 1463,1840 1464.6,1843.7 1466.3,1847.4 1467.9,1855.4 1469.5,1853.8 1471.2,1867.1 1472.8,1858.9 1474.5,1873.7 1476.1,1852.4 1477.7,1846.3 1479.4,1852.8 1481,1881.5 1482.7,1860.4 1484.3,1876.1 1485.9,1868 1487.6,1868.9 1489.2,1858.8 1490.9,1873.8 1492.5,1872.2 1494.1,1881.8 1495.8,1872.8 1497.4,1884.9 1499.1,1872.5 1500.7,1870.7 1502.3,1896.1 1504,1897.5 1505.6,1888.4 1507.3,1879.1 1508.9,1884 1510.5,1890.8 1512.2,1879.4 1513.8,1892.4 1515.5,1888.9 1517.1,1882.9 1518.7,1892.9 1520.4,1879.8 1522,1893.4 1523.7,1882.5 1525.3,1887.6 1527,1888.4 1528.6,1889 1530.2,1878.5 1531.9,1890.2 1533.5,1879.9 1535.2,1889.1 1536.8,1889.5 1538.4,1877.8 1540.1,1880.6 1541.7,1892.6 1543.4,1889.9 1545,1876.5 1546.6,1868.3 1548.3,1863.2 1549.9,1877.4 1551.6,1882.8 1553.2,1851.8 1554.8,1875.4 1556.5,1849.6 1558.1,1880.6 1559.8,1870.2 1561.4,1840 1563,1841.2 1564.7,1843.8 1566.3,1876.9 1568,1866.5 1569.6,1843.5 1571.2,1877.8 1572.9,1839 1574.5,1873.7 1576.2,1844.9 1577.8,1874.3 1579.4,1847.9 1581.1,1881 1582.7,1849.1 1584.4,1871.7 1586,1873 1587.7,1877.9 1589.3,1871.4 1590.9,1881.5 1592.6,1847.7 1594.2,1852.4 1595.9,1874.5 1597.5,1850.4 1599.1,1886.9 1600.8,1849.7 1602.4,1849.3 1604.1,1861.8 1605.7,1879.4 1607.3,1878.7 1609,1893.1 1610.6,1886.9 1612.3,1855.3 1613.9,1847.9 1615.5,1878 1617.2,1847.2 1618.8,1841.9 1620.5,1845.8 1622.1,1877 1623.7,1874.4 1625.4,1866.1 1627,1862.1 1628.7,1862.7 1630.3,1888.5 1631.9,1868.2 1633.6,1884.1 1635.2,1865.8 1636.9,1876.9 1638.5,1880.9 1640.1,1858.8 1641.8,1861.9 1643.4,1860.2 1645.1,1873.9 1646.7,1856.7 1648.3,1868.2 1650,1853.3 1651.6,1875.8 1653.3,1851.3 1654.9,1875.6 1656.6,1848.3 1658.2,1848.5 1659.8,1861.6 1661.5,1850.2 1663.1,1871.2 1664.8,1853.7 1666.4,1876.9 1668,1862.7 1669.7,1881.9 1671.3,1866.8 1673,1866.8 1674.6,1881.5 1676.2,1879.6 1677.9,1860.2 1679.5,1887.5 1681.2,1861 1682.8,1880.5 1684.4,1889.7 1686.1,1887.3 1687.7,1890.1 1689.4,1870.2 1691,1867.1 1692.6,1884.1 1694.3,1870.5 1695.9,1884.4 1697.6,1888 1699.2,1887.4 1700.8,1861.7 1702.5,1876.4 1704.1,1862.5 1705.8,1882.1 1707.4,1872.7 1709,1882.5 1710.7,1874.5 1712.3,1885.4 1714,1878.7 1715.6,1890.8 1717.2,1889.1 1718.9,1883.9 1720.5,1891.5 1722.2,1883.9 1723.8,1893.5 1725.5,1882.6 1727.1,1890.5 1728.7,1883.7 1730.4,1895.8 1732,1883.2 1733.7,1889.8 1735.3,1881.8 1736.9,1889.7 1738.6,1879.3 1740.2,1891.9 1741.9,1888.2 1743.5,1877.2 1745.1,1893.6 1746.8,1889.9 1748.4,1890.2 1750.1,1872.2 1751.7,1885.5 1753.3,1875.6 1755,1868.5 1756.6,1871.6 1758.3,1881.4 1759.9,1866.7 1761.5,1865.8 1763.2,1885.9 1764.8,1869.2 1766.5,1884.4 1768.1,1870.7 1769.7,1885.8 1771.4,1882.7 1773,1895.3 1774.7,1891.6 1776.3,1865.9 1777.9,1871.5 1779.6,1885.3 1781.2,1865 1782.9,1885.5 1784.5,1871.4 1786.2,1870.3 1787.8,1879.4 1789.4,1867.6 1791.1,1886.2 1792.7,1865.6 1794.4,1881.1 1796,1869 1797.6,1882.1 1799.3,1883.7 1800.9,1869.3 1802.6,1868.3 1804.2,1866.9 1805.8,1887.2 1807.5,1872.2 1809.1,1875.8 1810.8,1898.1 1812.4,1901.2 1814,1897.4 1815.7,1876.6 1817.3,1888.4 1819,1879.5 1820.6,1863.5 1822.2,1877.5 1823.9,1865.9 1825.5,1857.3 1827.2,1859.8 1828.8,1882.2 1830.4,1874.4 1832.1,1885.7 1833.7,1879.6 1835.4,1894.8 1837,1878.7 1838.6,1897.2 1840.3,1886.4 1841.9,1898.6 1843.6,1888.6 1845.2,1889 1846.8,1889 1848.5,1900.5 1850.1,1886.1 1851.8,1902.6 1853.4,1876.9 1855.1,1888.4 1856.7,1863.4 1858.3,1876.9 1860,1855.4 1861.6,1875 1863.3,1851.8 1864.9,1867.1 1866.5,1854.2 1868.2,1872.7 1869.8,1859.4 1871.5,1873.5 1873.1,1862.8 1874.7,1880 1876.4,1869.3 1878,1885.2 1879.7,1876.3 1881.3,1895.2 1882.9,1872.4 1884.6,1885.6 1886.2,1868.5 1887.9,1879 1889.5,1857.8 1891.1,1865.2 1892.8,1849.9 1894.4,1857.5 1896.1,1842.1 1897.7,1848.1 1899.3,1831.7 1901,1843.8 1902.6,1824.6 1904.3,1843.7 1905.9,1821.7 1907.5,1831.9 1909.2,1817.2 1910.8,1813.4 1912.5,1822.4 1914.1,1812.9 1915.8,1833.9 1917.4,1819.6 1919,1823.5 1920.7,1837.6 1922.3,1821.5 1924,1830.8 1925.6,1815.2 1927.2,1817.1 1928.9,1810.1 1930.5,1817.7 1932.2,1809.6 1933.8,1813.7 1935.4,1814.8 1937.1,1834.3 1938.7,1817.2 1940.4,1838.1 1942,1812.5 1943.6,1834.7 1945.3,1824.5 1946.9,1809.5 1948.6,1814.2 1950.2,1828.6 1951.8,1814.7 1953.5,1821.2 1955.1,1818.3 1956.8,1842.2 1958.4,1841.2 1960,1839.4 1961.7,1827.8 1963.3,1834.2 1965,1832.1 1966.6,1820.2 1968.2,1835 1969.9,1832.6 1971.5,1812.3 1973.2,1816.4 1974.8,1809 1976.4,1812.7 1978.1,1826.2 1979.7,1813.6 1981.4,1835.2 1983,1820.4 1984.7,1837.1 1986.3,1830 1987.9,1839 1989.6,1837.5 1991.2,1817 1992.9,1833.4 1994.5,1808.6 1996.1,1816.6 1997.8,1807.6 1999.4,1810.5 2001.1,1829.6 2002.7,1814.6 2004.3,1810 2006,1830.5 2007.6,1828.3 2009.3,1835.5 2010.9,1834.6 2012.5,1817.4 2014.2,1831.7 2015.8,1818 2017.5,1835.9 2019.1,1811.8 2020.7,1811.6 2022.4,1808.3 2024,1815.5 2025.7,1810.9 2027.3,1825 2028.9,1827.5 2030.6,1827.1 2032.2,1815.8 2033.9,1813.8 2035.5,1828.1 2037.1,1830.7 2038.8,1820.2 2040.4,1805.4 2042.1,1807.8 2043.7,1814.9" stroke="#0903ea" stroke-width="4.9" stroke-dasharray="18.2 4.7 9 4.7"/>
<polyline points="1225.1,1693.1 1226.7,1701.3 1228.4,1689.8 1230,1695.2 1231.7,1694.4 1233.3,1676.7 1234.9,1690.4 1236.6,1680.7 1238.2,1687.9 1239.9,1671.4 1241.5,1673.3 1243.1,1687.2 1244.8,1667.9 1246.4,1681.9 1248.1,1669.1 1249.7,1669.4 1251.3,1681 1253,1670.3 1254.6,1670.2 1256.3,1686.4 1257.9,1673.6 1259.6,1685.7 1261.2,1689.2 1262.8,1698.1 1264.5,1686.2 1266.1,1702.8 1267.8,1689.7 1269.4,1688.6 1271,1700.4 1272.7,1683.4 1274.3,1702.5 1276,1698.3 1277.6,1682.1 1279.2,1695.5 1280.9,1683.7 1282.5,1684.6 1284.2,1698.5 1285.8,1683.4 1287.4,1696.3 1289.1,1681.5 1290.7,1693.2 1292.4,1693.6 1294,1676.8 1295.6,1678 1297.3,1673.5 1298.9,1688.8 1300.6,1675.9 1302.2,1691.2 1303.8,1671.2 1305.5,1691.4 1307.1,1676.1 1308.8,1681.6 1310.4,1665.6 1312,1679.1 1313.7,1665.4 1315.3,1675.2 1317,1659.8 1318.6,1675.7 1320.2,1673.8 1321.9,1652.1 1323.5,1662.2 1325.2,1651 1326.8,1663.1 1328.5,1645.1 1330.1,1661.5 1331.7,1653.8 1333.4,1658.2 1335,1639.3 1336.7,1656.5 1338.3,1646 1339.9,1637.3 1341.6,1651 1343.2,1641.4 1344.9,1630.8 1346.5,1623.2 1348.1,1638 1349.8,1626.5 1351.4,1630.8 1353.1,1648.8 1354.7,1632.3 1356.3,1642.3 1358,1621.1 1359.6,1615 1361.3,1630.1 1362.9,1613.1 1364.5,1630.1 1366.2,1628.8 1367.8,1611.9 1369.5,1623.3 1371.1,1623.2 1372.7,1616.9 1374.4,1608.6 1376,1601.4 1377.7,1614.1 1379.3,1616.5 1380.9,1615 1382.6,1598 1384.2,1598.5 1385.9,1617.4 1387.5,1603.7 1389.1,1618.4 1390.8,1614.4 1392.4,1615.1 1394.1,1598.8 1395.7,1613 1397.4,1600.9 1399,1620 1400.6,1618.6 1402.3,1607.2 1403.9,1607.4 1405.6,1628.2 1407.2,1642.8 1408.8,1660 1410.5,1665.5 1412.1,1659.3 1413.8,1673.7 1415.4,1666.5 1417,1692.2 1418.7,1679.9 1420.3,1684.3 1422,1707.3 1423.6,1702.6 1425.2,1704.1 1426.9,1715.2 1428.5,1733.5 1430.2,1723.4 1431.8,1742.5 1433.4,1735.2 1435.1,1751.6 1436.7,1741 1438.4,1747.5 1440,1771.2 1441.6,1763.8 1443.3,1767.9 1444.9,1788.3 1446.6,1772.2 1448.2,1777.8 1449.8,1792 1451.5,1789.1 1453.1,1781.1 1454.8,1789.5 1456.4,1787.5 1458.1,1792.1 1459.7,1807.3 1461.3,1814.4 1463,1815.9 1464.6,1803.4 1466.3,1825.1 1467.9,1813.3 1469.5,1826.2 1471.2,1810.7 1472.8,1827 1474.5,1822.6 1476.1,1813.2 1477.7,1815.8 1479.4,1824.3 1481,1820.5 1482.7,1833.9 1484.3,1821.9 1485.9,1837.2 1487.6,1833.1 1489.2,1845.9 1490.9,1838.5 1492.5,1849.5 1494.1,1844.5 1495.8,1847.2 1497.4,1859.5 1499.1,1846.4 1500.7,1850 1502.3,1865.3 1504,1858.3 1505.6,1867.9 1507.3,1859.9 1508.9,1863.1 1510.5,1872.7 1512.2,1857.6 1513.8,1860.3 1515.5,1868 1517.1,1855.9 1518.7,1855.5 1520.4,1877.2 1522,1873.7 1523.7,1865.8 1525.3,1881 1527,1869.6 1528.6,1876.1 1530.2,1865.6 1531.9,1864.5 1533.5,1869.7 1535.2,1856.3 1536.8,1875.1 1538.4,1860.5 1540.1,1873.9 1541.7,1853.9 1543.4,1864.5 1545,1847.8 1546.6,1853.5 1548.3,1856 1549.9,1835.7 1551.6,1829.5 1553.2,1843.6 1554.8,1822.9 1556.5,1840.4 1558.1,1822.8 1559.8,1831.1 1561.4,1845.8 1563,1826.5 1564.7,1837.7 1566.3,1828.1 1568,1836.5 1569.6,1825.7 1571.2,1838.5 1572.9,1832.3 1574.5,1830.4 1576.2,1842.1 1577.8,1829.3 1579.4,1829.6 1581.1,1842 1582.7,1831.1 1584.4,1824.5 1586,1841.3 1587.7,1842.7 1589.3,1823.9 1590.9,1826.2 1592.6,1842.3 1594.2,1823.5 1595.9,1843.6 1597.5,1831.1 1599.1,1827.1 1600.8,1841.6 1602.4,1842.7 1604.1,1830.8 1605.7,1843.6 1607.3,1833.7 1609,1831 1610.6,1826.6 1612.3,1837.1 1613.9,1820.6 1615.5,1816.3 1617.2,1816.8 1618.8,1837.8 1620.5,1838.2 1622.1,1837 1623.7,1820.3 1625.4,1839.7 1627,1826.6 1628.7,1842.2 1630.3,1839.2 1631.9,1845.1 1633.6,1828.2 1635.2,1849.3 1636.9,1832.4 1638.5,1845.5 1640.1,1847.9 1641.8,1837.7 1643.4,1851.1 1645.1,1849.4 1646.7,1842.7 1648.3,1853.8 1650,1851.1 1651.6,1833.6 1653.3,1847.5 1654.9,1847 1656.6,1828.9 1658.2,1831.3 1659.8,1844.9 1661.5,1826 1663.1,1836.2 1664.8,1822 1666.4,1838.7 1668,1843.1 1669.7,1831.1 1671.3,1828.2 1673,1845.4 1674.6,1852.2 1676.2,1843.5 1677.9,1862.1 1679.5,1842.1 1681.2,1843.9 1682.8,1854.1 1684.4,1854 1686.1,1842.8 1687.7,1854.5 1689.4,1853.7 1691,1847.9 1692.6,1859.1 1694.3,1848.2 1695.9,1851.9 1697.6,1849.1 1699.2,1854.8 1700.8,1866.5 1702.5,1855.9 1704.1,1869.4 1705.8,1855 1707.4,1874.3 1709,1872.9 1710.7,1860.5 1712.3,1857.3 1714,1872.3 1715.6,1864 1717.2,1861.6 1718.9,1857.1 1720.5,1873.7 1722.2,1856.6 1723.8,1868.3 1725.5,1869.3 1727.1,1860.3 1728.7,1859.1 1730.4,1873.6 1732,1870.5 1733.7,1858.1 1735.3,1869.7 1736.9,1856.1 1738.6,1867.3 1740.2,1868.4 1741.9,1854 1743.5,1866.3 1745.1,1852.6 1746.8,1871.8 1748.4,1868.2 1750.1,1857.3 1751.7,1869.1 1753.3,1852.4 1755,1866.1 1756.6,1853.4 1758.3,1868.1 1759.9,1851.6 1761.5,1871.8 1763.2,1859.8 1764.8,1869.9 1766.5,1867.7 1768.1,1852.1 1769.7,1868.4 1771.4,1850.1 1773,1856.6 1774.7,1869.4 1776.3,1862.4 1777.9,1855.4 1779.6,1869.3 1781.2,1848.2 1782.9,1851.6 1784.5,1865.7 1786.2,1849.6 1787.8,1863.4 1789.4,1850.4 1791.1,1847.7 1792.7,1861.2 1794.4,1847.4 1796,1865.4 1797.6,1851.8 1799.3,1863.7 1800.9,1849.3 1802.6,1870 1804.2,1868.8 1805.8,1873 1807.5,1852.2 1809.1,1868.9 1810.8,1857.5 1812.4,1867.4 1814,1860.8 1815.7,1852.8 1817.3,1862.4 1819,1846.9 1820.6,1847.4 1822.2,1851.3 1823.9,1836.9 1825.5,1837.6 1827.2,1839.9 1828.8,1848.9 1830.4,1854.1 1832.1,1834.5 1833.7,1853.6 1835.4,1849.2 1837,1830.6 1838.6,1846.4 1840.3,1835.4 1841.9,1843.5 1843.6,1843.4 1845.2,1850.4 1846.8,1833.5 1848.5,1843.9 1850.1,1833.2 1851.8,1845.8 1853.4,1848.6 1855.1,1833 1856.7,1839.2 1858.3,1847.5 1860,1833.1 1861.6,1854.6 1863.3,1839.9 1864.9,1849.7 1866.5,1833.7 1868.2,1848 1869.8,1837.3 1871.5,1836.3 1873.1,1831.7 1874.7,1846.1 1876.4,1846.7 1878,1847.6 1879.7,1850.1 1881.3,1831.1 1882.9,1841 1884.6,1828.8 1886.2,1824.6 1887.9,1818.9 1889.5,1832.4 1891.1,1812.4 1892.8,1824.2 1894.4,1818.4 1896.1,1809.5 1897.7,1822.5 1899.3,1819.3 1901,1802.9 1902.6,1812.5 1904.3,1809.3 1905.9,1800.1 1907.5,1810.8 1909.2,1806.9 1910.8,1807.6 1912.5,1790.6 1914.1,1804.1 1915.8,1807.3 1917.4,1796.6 1919,1808 1920.7,1793.9 1922.3,1804.5 1924,1786.5 1925.6,1805.5 1927.2,1798.5 1928.9,1786.2 1930.5,1784.4 1932.2,1805.1 1933.8,1790.4 1935.4,1804.3 1937.1,1790.3 1938.7,1805.8 1940.4,1794.3 1942,1793.5 1943.6,1787.6 1945.3,1801.4 1946.9,1787.3 1948.6,1789.9 1950.2,1807.1 1951.8,1796.7 1953.5,1795.2 1955.1,1806.7 1956.8,1798.2 1958.4,1799.1 1960,1804.9 1961.7,1787.5 1963.3,1806.8 1965,1797.2 1966.6,1783.7 1968.2,1802.9 1969.9,1801 1971.5,1786.3 1973.2,1785.4 1974.8,1793.4 1976.4,1784.9 1978.1,1780.8 1979.7,1802.8 1981.4,1789.7 1983,1799.7 1984.7,1791.9 1986.3,1807 1987.9,1794.6 1989.6,1808 1991.2,1804.8 1992.9,1785.3 1994.5,1798.5 1996.1,1778.3 1997.8,1794.7 1999.4,1784.8 2001.1,1795.9 2002.7,1788.6 2004.3,1782.4 2006,1796.3 2007.6,1795.8 2009.3,1780.1 2010.9,1792.1 2012.5,1776.5 2014.2,1777.1 2015.8,1776.3 2017.5,1790 2019.1,1779.7 2020.7,1791.8 2022.4,1793 2024,1777.5 2025.7,1788.8 2027.3,1780.4 2028.9,1777.7 2030.6,1795.7 2032.2,1781.8 2033.9,1789.6 2035.5,1782.4 2037.1,1791.7 2038.8,1791.1 2040.4,1781.7 2042.1,1798 2043.7,1784.6" stroke="#0ef50e"/>
</g>
<rect x="1784.6" y="1589.5" width="261" height="80.3" fill="#fff" stroke="#1c1c1c" stroke-width="1.9"/>
<path d="M1798.2,1612.3H1919" fill="none" stroke="#0903ea" stroke-width="4.9" stroke-dasharray="18.2 4.7 9 4.7"/>
<path d="M1798.2,1647H1919" fill="none" stroke="#0ef50e" stroke-width="4.8"/>
<text class="lg" x="1928.3" y="1622.3">GT</text>
<text class="lg" x="1928.3" y="1657">YOLOv6</text>
<text class="tk" x="1225.1" y="1955.2" text-anchor="middle">0</text>
<text class="tk" x="1348" y="1955.2" text-anchor="middle">5</text>
<text class="tk" x="1470.9" y="1955.2" text-anchor="middle">10</text>
<text class="tk" x="1593.8" y="1955.2" text-anchor="middle">15</text>
<text class="tk" x="1716.8" y="1955.2" text-anchor="middle">20</text>
<text class="tk" x="1839.7" y="1955.2" text-anchor="middle">25</text>
<text class="tk" x="1962.6" y="1955.2" text-anchor="middle">30</text>
<text class="tk" x="2085.5" y="1955.2" text-anchor="middle">35</text>
<text class="tk" x="1211.2" y="1559.6" text-anchor="end">2</text>
<text class="tk" x="1211.2" y="1632.7" text-anchor="end">1</text>
<text class="tk" x="1211.2" y="1705.8" text-anchor="end">0</text>
<text class="tk" x="1211.2" y="1779" text-anchor="end">-1</text>
<text class="tk" x="1211.2" y="1852.1" text-anchor="end">-2</text>
<text class="tk" x="1211.2" y="1925.2" text-anchor="end">-3</text>
<text class="lb" x="1655.3" y="1992.6" text-anchor="middle">Time(s)</text>
<text class="lb" transform="translate(1170.2,1733) rotate(-90)" text-anchor="middle">Displacement(pixel)</text>
</g>
<g id="p40">
<text class="tt" x="523" y="2051" text-anchor="middle">point</text>
<g stroke="#1f1f1f" stroke-width="2.05" fill="none">
<rect x="92.9" y="2057.7" width="860.2" height="364.6"/>
<path d="M92.9,2422.3v-9.2M92.9,2057.7v9.2M215.8,2422.3v-9.2M215.8,2057.7v9.2M338.7,2422.3v-9.2M338.7,2057.7v9.2M461.6,2422.3v-9.2M461.6,2057.7v9.2M584.5,2422.3v-9.2M584.5,2057.7v9.2M707.4,2422.3v-9.2M707.4,2057.7v9.2M830.3,2422.3v-9.2M830.3,2057.7v9.2M953.1,2422.3v-9.2M953.1,2057.7v9.2M92.9,2057.7h9.2M953.1,2057.7h-9.2M92.9,2130.6h9.2M953.1,2130.6h-9.2M92.9,2203.5h9.2M953.1,2203.5h-9.2M92.9,2276.5h9.2M953.1,2276.5h-9.2M92.9,2349.4h9.2M953.1,2349.4h-9.2M92.9,2422.3h9.2M953.1,2422.3h-9.2"/>
</g>
<clipPath id="c40"><rect x="90.5" y="2055.3" width="865" height="369.4"/></clipPath>
<g clip-path="url(#c40)" fill="none" stroke-width="4.8" stroke-linejoin="round">
<polyline points="92.9,2210.8 94.5,2198.4 96.2,2210.7 97.8,2193.7 99.5,2187.4 101.1,2201.5 102.7,2187.5 104.4,2201.3 106,2182.9 107.7,2181.3 109.3,2184.3 110.9,2196.1 112.6,2180.9 114.2,2198.9 115.9,2193 117.5,2183.6 119.1,2199.7 120.8,2184.8 122.4,2193.6 124.1,2193.8 125.7,2184.3 127.3,2196 129,2197.9 130.6,2185.9 132.3,2200.6 133.9,2183.8 135.5,2199.5 137.2,2208 138.8,2197.5 140.5,2210.7 142.1,2199.1 143.7,2213.4 145.4,2214 147,2201.2 148.7,2212.2 150.3,2218.1 151.9,2215.1 153.6,2190 155.2,2205 156.9,2188.7 158.5,2205.5 160.1,2187.7 161.8,2175.8 163.4,2182.9 165.1,2199.3 166.7,2182.3 168.3,2184.6 170,2201 171.6,2202.7 173.3,2183.1 174.9,2197.7 176.6,2200.7 178.2,2193.4 179.8,2185.4 181.5,2183 183.1,2188 184.8,2173.7 186.4,2181 188,2170.2 189.7,2167.1 191.3,2167.7 193,2174 194.6,2161 196.2,2166.8 197.9,2157.9 199.5,2159.8 201.2,2167.6 202.8,2169.9 204.4,2161.1 206.1,2156.3 207.7,2164.6 209.4,2152 211,2162.8 212.6,2158.1 214.3,2156.4 215.9,2147.8 217.6,2153.9 219.2,2143.9 220.8,2153 222.5,2140.4 224.1,2151.3 225.8,2138.7 227.4,2147.2 229,2134 230.7,2143.8 232.3,2137 234,2144.1 235.6,2150.2 237.2,2158.3 238.9,2143.6 240.5,2139.2 242.2,2129.3 243.8,2125.1 245.4,2124.7 247.1,2124.2 248.7,2129.7 250.4,2120.9 252,2121.9 253.6,2120.4 255.3,2133.6 256.9,2125.9 258.6,2134 260.2,2124.4 261.8,2137.6 263.5,2127.7 265.1,2134.4 266.8,2124.6 268.4,2132.5 270,2125.2 271.7,2124.8 273.3,2125.7 275,2139.5 276.6,2138 278.2,2156.8 279.9,2165 281.5,2178.3 283.2,2186.7 284.8,2189.4 286.4,2191.2 288.1,2197.4 289.7,2204.6 291.4,2219 293,2227.2 294.6,2237.6 296.3,2244.1 297.9,2244.5 299.6,2251.1 301.2,2256.8 302.8,2265.8 304.5,2268.7 306.1,2276 307.8,2287.5 309.4,2295.1 311,2297.6 312.7,2297.2 314.3,2303.4 316,2306.6 317.6,2306.4 319.2,2314.4 320.9,2312.8 322.5,2322.8 324.2,2324.8 325.8,2334.9 327.5,2338.1 329.1,2345.7 330.7,2346.7 332.4,2350.3 334,2354 335.7,2362.1 337.3,2360.4 338.9,2373.8 340.6,2365.5 342.2,2380.3 343.9,2359.1 345.5,2353 347.1,2359.5 348.8,2388.1 350.4,2367.1 352.1,2382.7 353.7,2374.6 355.3,2375.6 357,2365.4 358.6,2380.4 360.3,2378.8 361.9,2388.4 363.5,2379.5 365.2,2391.5 366.8,2379.2 368.5,2377.3 370.1,2402.7 371.7,2404.1 373.4,2394.9 375,2385.7 376.7,2390.6 378.3,2397.4 379.9,2386 381.6,2399 383.2,2395.5 384.9,2389.5 386.5,2399.5 388.1,2386.4 389.8,2400 391.4,2389.1 393.1,2394.2 394.7,2394.9 396.3,2395.6 398,2385.1 399.6,2396.8 401.3,2386.5 402.9,2395.7 404.5,2396.1 406.2,2384.4 407.8,2387.2 409.5,2399.2 411.1,2396.5 412.7,2383.1 414.4,2374.9 416,2369.8 417.7,2384 419.3,2389.4 420.9,2358.5 422.6,2382 424.2,2356.3 425.9,2387.2 427.5,2376.9 429.1,2346.7 430.8,2347.9 432.4,2350.5 434.1,2383.5 435.7,2373.1 437.3,2350.2 439,2384.4 440.6,2345.7 442.3,2380.3 443.9,2351.6 445.5,2380.9 447.2,2354.6 448.8,2387.6 450.5,2355.8 452.1,2378.3 453.7,2379.7 455.4,2384.5 457,2378.1 458.7,2388.1 460.3,2354.4 461.9,2359 463.6,2381.2 465.2,2357 466.9,2393.5 468.5,2356.4 470.1,2356 471.8,2368.5 473.4,2386 475.1,2385.3 476.7,2399.7 478.4,2393.5 480,2362 481.6,2354.6 483.3,2384.6 484.9,2353.9 486.6,2348.7 488.2,2352.5 489.8,2383.7 491.5,2381 493.1,2372.7 494.8,2368.7 496.4,2369.3 498,2395.1 499.7,2374.8 501.3,2390.7 503,2372.4 504.6,2383.5 506.2,2387.5 507.9,2365.5 509.5,2368.6 511.2,2366.9 512.8,2380.5 514.4,2363.3 516.1,2374.9 517.7,2360 519.4,2382.4 521,2357.9 522.6,2382.2 524.3,2355 525.9,2355.2 527.6,2368.3 529.2,2356.9 530.8,2377.8 532.5,2360.4 534.1,2383.5 535.8,2369.3 537.4,2388.5 539,2373.4 540.7,2373.4 542.3,2388.1 544,2386.2 545.6,2366.9 547.2,2394.1 548.9,2367.7 550.5,2387.1 552.2,2396.3 553.8,2393.8 555.4,2396.6 557.1,2376.8 558.7,2373.8 560.4,2390.7 562,2377.2 563.6,2391 565.3,2394.6 566.9,2394 568.6,2368.3 570.2,2383 571.8,2369.2 573.5,2388.7 575.1,2379.3 576.8,2389.1 578.4,2381.1 580,2391.9 581.7,2385.3 583.3,2397.4 585,2395.7 586.6,2390.5 588.2,2398 589.9,2390.5 591.5,2400.1 593.2,2389.2 594.8,2397.1 596.4,2390.3 598.1,2402.4 599.7,2389.8 601.4,2396.4 603,2388.4 604.6,2396.3 606.3,2385.9 607.9,2398.5 609.6,2394.7 611.2,2383.8 612.8,2400.1 614.5,2396.4 616.1,2396.8 617.8,2378.8 619.4,2392.1 621,2382.2 622.7,2375.1 624.3,2378.2 626,2388 627.6,2373.3 629.2,2372.4 630.9,2392.5 632.5,2375.8 634.2,2390.9 635.8,2377.3 637.5,2392.3 639.1,2389.3 640.7,2401.9 642.4,2398.2 644,2372.5 645.7,2378.2 647.3,2391.9 648.9,2371.6 650.6,2392.1 652.2,2378 653.9,2376.9 655.5,2386 657.1,2374.2 658.8,2392.8 660.4,2372.2 662.1,2387.7 663.7,2375.6 665.3,2388.7 667,2390.3 668.6,2375.9 670.3,2374.9 671.9,2373.6 673.5,2393.8 675.2,2378.8 676.8,2382.4 678.5,2404.7 680.1,2407.7 681.7,2403.9 683.4,2383.2 685,2394.9 686.7,2386.1 688.3,2370.1 689.9,2384.1 691.6,2372.6 693.2,2364 694.9,2366.5 696.5,2388.8 698.1,2381 699.8,2392.3 701.4,2386.2 703.1,2401.3 704.7,2385.3 706.3,2403.8 708,2393 709.6,2405.1 711.3,2395.1 712.9,2395.6 714.5,2395.5 716.2,2407 717.8,2392.7 719.5,2409.1 721.1,2383.5 722.7,2395 724.4,2370.1 726,2383.5 727.7,2362.1 729.3,2381.6 730.9,2358.5 732.6,2373.7 734.2,2360.9 735.9,2379.4 737.5,2366 739.1,2380.2 740.8,2369.5 742.4,2386.6 744.1,2375.9 745.7,2391.8 747.3,2382.9 749,2401.7 750.6,2379.1 752.3,2392.2 753.9,2375.1 755.5,2385.6 757.2,2364.5 758.8,2371.8 760.5,2356.6 762.1,2364.2 763.7,2348.8 765.4,2354.8 767,2338.5 768.7,2350.5 770.3,2331.3 771.9,2350.4 773.6,2328.5 775.2,2338.6 776.9,2324 778.5,2320.2 780.1,2329.1 781.8,2319.7 783.4,2340.6 785.1,2326.4 786.7,2330.2 788.4,2344.3 790,2328.3 791.6,2337.5 793.3,2321.9 794.9,2323.9 796.6,2316.9 798.2,2324.5 799.8,2316.4 801.5,2320.5 803.1,2321.6 804.8,2341 806.4,2324 808,2344.9 809.7,2319.3 811.3,2341.4 813,2331.2 814.6,2316.3 816.2,2321 817.9,2335.3 819.5,2321.5 821.2,2328 822.8,2325 824.4,2348.9 826.1,2347.9 827.7,2346.1 829.4,2334.5 831,2340.9 832.6,2338.8 834.3,2326.9 835.9,2341.8 837.6,2339.4 839.2,2319 840.8,2323.2 842.5,2315.8 844.1,2319.5 845.8,2332.9 847.4,2320.4 849,2341.9 850.7,2327.2 852.3,2343.8 854,2336.7 855.6,2345.7 857.2,2344.2 858.9,2323.8 860.5,2340.1 862.2,2315.4 863.8,2323.3 865.4,2314.4 867.1,2317.3 868.7,2336.3 870.4,2321.4 872,2316.7 873.6,2337.3 875.3,2335 876.9,2342.3 878.6,2341.3 880.2,2324.1 881.8,2338.5 883.5,2324.7 885.1,2342.7 886.8,2318.6 888.4,2318.4 890,2315.1 891.7,2322.2 893.3,2317.7 895,2331.8 896.6,2334.2 898.2,2333.8 899.9,2322.5 901.5,2320.6 903.2,2334.8 904.8,2337.5 906.4,2326.9 908.1,2312.2 909.7,2314.6 911.4,2321.6" stroke="#0903ea" stroke-width="4.9" stroke-dasharray="18.2 4.7 9 4.7"/>
<polyline points="92.9,2203.5 93.7,2221.8 94.5,2203.5 95.4,2203.5 96.2,2203.5 97,2203.5 97.8,2203.5 98.6,2203.5 99.5,2203.5 100.3,2221.8 101.1,2203.5 101.9,2203.5 102.7,2203.5 103.6,2203.5 104.4,2203.5 105.2,2203.5 106,2203.5 106.8,2185.3 107.6,2185.3 108.5,2185.3 109.3,2203.5 110.1,2185.3 110.9,2203.5 111.7,2185.3 112.6,2185.3 113.4,2203.5 114.2,2185.3 115,2203.5 115.8,2185.3 116.7,2221.8 117.5,2221.8 118.3,2221.8 119.1,2221.8 119.9,2185.3 120.8,2203.5 121.6,2203.5 122.4,2203.5 123.2,2185.3 124,2203.5 124.9,2203.5 125.7,2185.3 126.5,2203.5 127.3,2203.5 128.1,2203.5 128.9,2185.3 129.8,2185.3 130.6,2203.5 131.4,2203.5 132.2,2185.3 133,2203.5 133.9,2221.8 134.7,2221.8 135.5,2221.8 136.3,2203.5 137.1,2203.5 138,2221.8 138.8,2221.8 139.6,2221.8 140.4,2203.5 141.2,2203.5 142.1,2203.5 142.9,2203.5 143.7,2203.5 144.5,2203.5 145.3,2203.5 146.2,2203.5 147,2203.5 147.8,2203.5 148.6,2203.5 149.4,2221.8 150.2,2221.8 151.1,2221.8 151.9,2185.3 152.7,2203.5 153.5,2203.5 154.3,2203.5 155.2,2185.3 156,2185.3 156.8,2203.5 157.6,2185.3 158.4,2203.5 159.3,2203.5 160.1,2185.3 160.9,2185.3 161.7,2203.5 162.5,2203.5 163.4,2203.5 164.2,2203.5 165,2203.5 165.8,2203.5 166.6,2203.5 167.5,2203.5 168.3,2203.5 169.1,2203.5 169.9,2203.5 170.7,2203.5 171.6,2185.3 172.4,2203.5 173.2,2203.5 174,2185.3 174.8,2203.5 175.6,2203.5 176.5,2203.5 177.3,2203.5 178.1,2203.5 178.9,2185.3 179.7,2185.3 180.6,2185.3 181.4,2185.3 182.2,2185.3 183,2185.3 183.8,2185.3 184.7,2185.3 185.5,2185.3 186.3,2185.3 187.1,2185.3 187.9,2185.3 188.8,2185.3 189.6,2185.3 190.4,2185.3 191.2,2167.1 192,2167.1 192.9,2185.3 193.7,2185.3 194.5,2185.3 195.3,2185.3 196.1,2185.3 196.9,2185.3 197.8,2185.3 198.6,2167.1 199.4,2185.3 200.2,2167.1 201,2185.3 201.9,2167.1 202.7,2167.1 203.5,2167.1 204.3,2167.1 205.1,2167.1 206,2167.1 206.8,2167.1 207.6,2167.1 208.4,2167.1 209.2,2167.1 210.1,2167.1 210.9,2167.1 211.7,2148.8 212.5,2148.8 213.3,2148.8 214.2,2148.8 215,2148.8 215.8,2148.8 216.6,2148.8 217.4,2148.8 218.3,2148.8 219.1,2148.8 219.9,2148.8 220.7,2167.1 221.5,2148.8 222.3,2148.8 223.2,2148.8 224,2148.8 224.8,2148.8 225.6,2148.8 226.4,2148.8 227.3,2148.8 228.1,2148.8 228.9,2148.8 229.7,2148.8 230.5,2167.1 231.4,2148.8 232.2,2148.8 233,2148.8 233.8,2148.8 234.6,2148.8 235.5,2167.1 236.3,2148.8 237.1,2148.8 237.9,2148.8 238.7,2148.8 239.6,2148.8 240.4,2148.8 241.2,2148.8 242,2148.8 242.8,2148.8 243.6,2148.8 244.5,2148.8 245.3,2148.8 246.1,2148.8 246.9,2148.8 247.7,2148.8 248.6,2148.8 249.4,2148.8 250.2,2148.8 251,2148.8 251.8,2148.8 252.7,2148.8 253.5,2148.8 254.3,2148.8 255.1,2130.6 255.9,2130.6 256.8,2148.8 257.6,2148.8 258.4,2148.8 259.2,2148.8 260,2148.8 260.9,2148.8 261.7,2148.8 262.5,2148.8 263.3,2148.8 264.1,2148.8 265,2148.8 265.8,2148.8 266.6,2148.8 267.4,2148.8 268.2,2148.8 269,2148.8 269.9,2148.8 270.7,2130.6 271.5,2130.6 272.3,2148.8 273.1,2148.8 274,2167.1 274.8,2148.8 275.6,2148.8 276.4,2167.1 277.2,2167.1 278.1,2148.8 278.9,2148.8 279.7,2167.1 280.5,2167.1 281.3,2167.1 282.2,2185.3 283,2167.1 283.8,2167.1 284.6,2185.3 285.4,2167.1 286.3,2185.3 287.1,2167.1 287.9,2203.5 288.7,2221.8 289.5,2221.8 290.3,2203.5 291.2,2221.8 292,2240 292.8,2221.8 293.6,2240 294.4,2240 295.3,2221.8 296.1,2240 296.9,2240 297.7,2221.8 298.5,2240 299.4,2221.8 300.2,2240 301,2221.8 301.8,2240 302.6,2258.2 303.5,2276.5 304.3,2276.5 305.1,2294.7 305.9,2294.7 306.7,2294.7 307.6,2294.7 308.4,2294.7 309.2,2294.7 310,2294.7 310.8,2294.7 311.6,2294.7 312.5,2294.7 313.3,2294.7 314.1,2294.7 314.9,2294.7 315.7,2294.7 316.6,2294.7 317.4,2294.7 318.2,2294.7 319,2294.7 319.8,2294.7 320.7,2294.7 321.5,2294.7 322.3,2294.7 323.1,2294.7 323.9,2312.9 324.8,2312.9 325.6,2312.9 326.4,2312.9 327.2,2312.9 328,2312.9 328.9,2312.9 329.7,2312.9 330.5,2312.9 331.3,2331.2 332.1,2331.2 333,2331.2 333.8,2331.2 334.6,2331.2 335.4,2331.2 336.2,2331.2 337,2331.2 337.9,2331.2 338.7,2331.2 339.5,2349.4 340.3,2349.4 341.1,2331.2 342,2349.4 342.8,2331.2 343.6,2349.4 344.4,2349.4 345.2,2331.2 346.1,2331.2 346.9,2331.2 347.7,2349.4 348.5,2367.6 349.3,2349.4 350.2,2367.6 351,2367.6 351.8,2349.4 352.6,2367.6 353.4,2349.4 354.3,2367.6 355.1,2367.6 355.9,2349.4 356.7,2367.6 357.5,2367.6 358.3,2385.8 359.2,2367.6 360,2385.8 360.8,2367.6 361.6,2385.8 362.4,2367.6 363.3,2385.8 364.1,2385.8 364.9,2404.1 365.7,2385.8 366.5,2404.1 367.4,2404.1 368.2,2404.1 369,2404.1 369.8,2385.8 370.6,2404.1 371.5,2404.1 372.3,2422.3 373.1,2404.1 373.9,2404.1 374.7,2404.1 375.6,2385.8 376.4,2404.1 377.2,2404.1 378,2404.1 378.8,2404.1 379.6,2404.1 380.5,2404.1 381.3,2404.1 382.1,2404.1 382.9,2404.1 383.7,2404.1 384.6,2404.1 385.4,2385.8 386.2,2404.1 387,2404.1 387.8,2404.1 388.7,2404.1 389.5,2404.1 390.3,2404.1 391.1,2404.1 391.9,2404.1 392.8,2404.1 393.6,2404.1 394.4,2404.1 395.2,2404.1 396,2404.1 396.9,2404.1 397.7,2404.1 398.5,2404.1 399.3,2385.8 400.1,2385.8 401,2404.1 401.8,2385.8 402.6,2404.1 403.4,2385.8 404.2,2404.1 405,2404.1 405.9,2404.1 406.7,2404.1 407.5,2404.1 408.3,2404.1 409.1,2404.1 410,2404.1 410.8,2404.1 411.6,2404.1 412.4,2404.1 413.2,2404.1 414.1,2367.6 414.9,2367.6 415.7,2367.6 416.5,2367.6 417.3,2367.6 418.2,2367.6 419,2367.6 419.8,2367.6 420.6,2367.6 421.4,2367.6 422.3,2349.4 423.1,2349.4 423.9,2367.6 424.7,2367.6 425.5,2349.4 426.3,2367.6 427.2,2367.6 428,2349.4 428.8,2367.6 429.6,2367.6 430.4,2349.4 431.3,2349.4 432.1,2367.6 432.9,2349.4 433.7,2367.6 434.5,2367.6 435.4,2367.6 436.2,2367.6 437,2349.4 437.8,2367.6 438.6,2367.6 439.5,2367.6 440.3,2367.6 441.1,2367.6 441.9,2367.6 442.7,2367.6 443.6,2349.4 444.4,2349.4 445.2,2349.4 446,2367.6 446.8,2367.6 447.7,2367.6 448.5,2367.6 449.3,2349.4 450.1,2367.6 450.9,2349.4 451.7,2349.4 452.6,2349.4 453.4,2349.4 454.2,2367.6 455,2349.4 455.8,2349.4 456.7,2367.6 457.5,2367.6 458.3,2349.4 459.1,2349.4 459.9,2349.4 460.8,2349.4 461.6,2349.4 462.4,2349.4 463.2,2349.4 464,2331.2 464.9,2331.2 465.7,2349.4 466.5,2349.4 467.3,2349.4 468.1,2349.4 469,2349.4 469.8,2349.4 470.6,2349.4 471.4,2349.4 472.2,2349.4 473,2349.4 473.9,2349.4 474.7,2331.2 475.5,2349.4 476.3,2349.4 477.1,2367.6 478,2367.6 478.8,2349.4 479.6,2349.4 480.4,2349.4 481.2,2349.4 482.1,2349.4 482.9,2349.4 483.7,2349.4 484.5,2349.4 485.3,2349.4 486.2,2349.4 487,2349.4 487.8,2349.4 488.6,2331.2 489.4,2349.4 490.3,2349.4 491.1,2349.4 491.9,2349.4 492.7,2349.4 493.5,2349.4 494.4,2349.4 495.2,2349.4 496,2349.4 496.8,2349.4 497.6,2349.4 498.4,2367.6 499.3,2349.4 500.1,2349.4 500.9,2367.6 501.7,2349.4 502.5,2367.6 503.4,2367.6 504.2,2367.6 505,2367.6 505.8,2367.6 506.6,2367.6 507.5,2367.6 508.3,2367.6 509.1,2367.6 509.9,2367.6 510.7,2367.6 511.6,2367.6 512.4,2367.6 513.2,2367.6 514,2367.6 514.8,2367.6 515.7,2367.6 516.5,2367.6 517.3,2385.8 518.1,2367.6 518.9,2349.4 519.7,2349.4 520.6,2367.6 521.4,2349.4 522.2,2349.4 523,2349.4 523.8,2367.6 524.7,2367.6 525.5,2349.4 526.3,2367.6 527.1,2367.6 527.9,2349.4 528.8,2349.4 529.6,2367.6 530.4,2349.4 531.2,2367.6 532,2367.6 532.9,2367.6 533.7,2367.6 534.5,2349.4 535.3,2349.4 536.1,2349.4 537,2367.6 537.8,2349.4 538.6,2349.4 539.4,2349.4 540.2,2367.6 541,2367.6 541.9,2367.6 542.7,2385.8 543.5,2367.6 544.3,2367.6 545.1,2367.6 546,2367.6 546.8,2385.8 547.6,2367.6 548.4,2385.8 549.2,2385.8 550.1,2367.6 550.9,2385.8 551.7,2367.6 552.5,2404.1 553.3,2404.1 554.2,2404.1 555,2367.6 555.8,2385.8 556.6,2367.6 557.4,2385.8 558.3,2385.8 559.1,2367.6 559.9,2367.6 560.7,2385.8 561.5,2385.8 562.4,2367.6 563.2,2367.6 564,2367.6 564.8,2367.6 565.6,2385.8 566.4,2385.8 567.3,2385.8 568.1,2404.1 568.9,2385.8 569.7,2404.1 570.5,2404.1 571.4,2404.1 572.2,2385.8 573,2385.8 573.8,2404.1 574.6,2385.8 575.5,2404.1 576.3,2404.1 577.1,2404.1 577.9,2385.8 578.7,2404.1 579.6,2385.8 580.4,2385.8 581.2,2385.8 582,2404.1 582.8,2385.8 583.7,2385.8 584.5,2404.1 585.3,2404.1 586.1,2404.1 586.9,2404.1 587.7,2404.1 588.6,2385.8 589.4,2404.1 590.2,2385.8 591,2385.8 591.8,2404.1 592.7,2404.1 593.5,2404.1 594.3,2385.8 595.1,2404.1 595.9,2385.8 596.8,2404.1 597.6,2385.8 598.4,2404.1 599.2,2404.1 600,2385.8 600.9,2385.8 601.7,2404.1 602.5,2404.1 603.3,2385.8 604.1,2385.8 605,2404.1 605.8,2385.8 606.6,2385.8 607.4,2385.8 608.2,2385.8 609,2404.1 609.9,2385.8 610.7,2385.8 611.5,2404.1 612.3,2404.1 613.1,2385.8 614,2404.1 614.8,2385.8 615.6,2385.8 616.4,2404.1 617.2,2385.8 618.1,2404.1 618.9,2385.8 619.7,2385.8 620.5,2385.8 621.3,2385.8 622.2,2385.8 623,2367.6 623.8,2404.1 624.6,2367.6 625.4,2404.1 626.3,2385.8 627.1,2404.1 627.9,2404.1 628.7,2404.1 629.5,2385.8 630.4,2404.1 631.2,2404.1 632,2404.1 632.8,2385.8 633.6,2404.1 634.4,2404.1 635.3,2385.8 636.1,2404.1 636.9,2404.1 637.7,2404.1 638.5,2385.8 639.4,2385.8 640.2,2385.8 641,2404.1 641.8,2385.8 642.6,2404.1 643.5,2404.1 644.3,2385.8 645.1,2404.1 645.9,2404.1 646.7,2385.8 647.6,2385.8 648.4,2404.1 649.2,2404.1 650,2385.8 650.8,2404.1 651.7,2404.1 652.5,2385.8 653.3,2404.1 654.1,2404.1 654.9,2404.1 655.7,2404.1 656.6,2404.1 657.4,2404.1 658.2,2404.1 659,2404.1 659.8,2404.1 660.7,2404.1 661.5,2404.1 662.3,2404.1 663.1,2404.1 663.9,2404.1 664.8,2404.1 665.6,2385.8 666.4,2404.1 667.2,2404.1 668,2404.1 668.9,2404.1 669.7,2404.1 670.5,2404.1 671.3,2404.1 672.1,2404.1 673,2404.1 673.8,2404.1 674.6,2404.1 675.4,2404.1 676.2,2404.1 677.1,2404.1 677.9,2385.8 678.7,2404.1 679.5,2404.1 680.3,2385.8 681.1,2404.1 682,2404.1 682.8,2367.6 683.6,2367.6 684.4,2385.8 685.2,2367.6 686.1,2367.6 686.9,2367.6 687.7,2367.6 688.5,2385.8 689.3,2367.6 690.2,2367.6 691,2349.4 691.8,2385.8 692.6,2349.4 693.4,2385.8 694.3,2385.8 695.1,2385.8 695.9,2385.8 696.7,2385.8 697.5,2349.4 698.4,2385.8 699.2,2367.6 700,2367.6 700.8,2367.6 701.6,2367.6 702.4,2367.6 703.3,2367.6 704.1,2367.6 704.9,2367.6 705.7,2367.6 706.5,2349.4 707.4,2367.6 708.2,2367.6 709,2367.6 709.8,2367.6 710.6,2367.6 711.5,2367.6 712.3,2367.6 713.1,2367.6 713.9,2367.6 714.7,2367.6 715.6,2367.6 716.4,2367.6 717.2,2367.6 718,2367.6 718.8,2367.6 719.7,2367.6 720.5,2367.6 721.3,2367.6 722.1,2367.6 722.9,2367.6 723.8,2367.6 724.6,2367.6 725.4,2367.6 726.2,2367.6 727,2385.8 727.8,2367.6 728.7,2385.8 729.5,2385.8 730.3,2367.6 731.1,2367.6 731.9,2367.6 732.8,2367.6 733.6,2367.6 734.4,2367.6 735.2,2367.6 736,2367.6 736.9,2367.6 737.7,2367.6 738.5,2367.6 739.3,2367.6 740.1,2367.6 741,2367.6 741.8,2349.4 742.6,2367.6 743.4,2367.6 744.2,2367.6 745.1,2367.6 745.9,2367.6 746.7,2367.6 747.5,2367.6 748.3,2367.6 749.1,2367.6 750,2367.6 750.8,2349.4 751.6,2367.6 752.4,2331.2 753.2,2331.2 754.1,2349.4 754.9,2331.2 755.7,2331.2 756.5,2331.2 757.3,2349.4 758.2,2331.2 759,2349.4 759.8,2349.4 760.6,2331.2 761.4,2331.2 762.3,2331.2 763.1,2331.2 763.9,2312.9 764.7,2331.2 765.5,2331.2 766.4,2312.9 767.2,2331.2 768,2312.9 768.8,2331.2 769.6,2331.2 770.4,2312.9 771.3,2331.2 772.1,2312.9 772.9,2331.2 773.7,2312.9 774.5,2331.2 775.4,2331.2 776.2,2294.7 777,2312.9 777.8,2294.7 778.6,2312.9 779.5,2312.9 780.3,2312.9 781.1,2331.2 781.9,2312.9 782.7,2331.2 783.6,2312.9 784.4,2312.9 785.2,2312.9 786,2312.9 786.8,2312.9 787.7,2312.9 788.5,2331.2 789.3,2312.9 790.1,2331.2 790.9,2294.7 791.8,2312.9 792.6,2312.9 793.4,2312.9 794.2,2312.9 795,2294.7 795.8,2294.7 796.7,2294.7 797.5,2312.9 798.3,2312.9 799.1,2294.7 799.9,2312.9 800.8,2312.9 801.6,2294.7 802.4,2312.9 803.2,2294.7 804,2294.7 804.9,2294.7 805.7,2312.9 806.5,2294.7 807.3,2294.7 808.1,2312.9 809,2294.7 809.8,2312.9 810.6,2331.2 811.4,2312.9 812.2,2312.9 813.1,2331.2 813.9,2331.2 814.7,2294.7 815.5,2294.7 816.3,2294.7 817.1,2312.9 818,2312.9 818.8,2294.7 819.6,2312.9 820.4,2294.7 821.2,2294.7 822.1,2294.7 822.9,2294.7 823.7,2312.9 824.5,2312.9 825.3,2312.9 826.2,2294.7 827,2312.9 827.8,2331.2 828.6,2312.9 829.4,2331.2 830.3,2331.2 831.1,2312.9 831.9,2312.9 832.7,2331.2 833.5,2331.2 834.4,2331.2 835.2,2294.7 836,2294.7 836.8,2312.9 837.6,2294.7 838.4,2312.9 839.3,2312.9 840.1,2312.9 840.9,2294.7 841.7,2312.9 842.5,2294.7 843.4,2312.9 844.2,2312.9 845,2312.9 845.8,2312.9 846.6,2294.7 847.5,2312.9 848.3,2312.9 849.1,2294.7 849.9,2312.9 850.7,2312.9 851.6,2312.9 852.4,2331.2 853.2,2312.9 854,2331.2 854.8,2312.9 855.7,2331.2 856.5,2312.9 857.3,2331.2 858.1,2312.9 858.9,2312.9 859.8,2312.9 860.6,2312.9 861.4,2312.9 862.2,2312.9 863,2312.9 863.8,2312.9 864.7,2312.9 865.5,2312.9 866.3,2312.9 867.1,2312.9 867.9,2312.9 868.8,2294.7 869.6,2294.7 870.4,2312.9 871.2,2294.7 872,2294.7 872.9,2312.9 873.7,2294.7 874.5,2294.7 875.3,2312.9 876.1,2294.7 877,2312.9 877.8,2294.7 878.6,2294.7 879.4,2312.9 880.2,2294.7 881.1,2294.7 881.9,2276.5 882.7,2312.9 883.5,2312.9 884.3,2312.9 885.1,2312.9 886,2294.7 886.8,2312.9 887.6,2312.9 888.4,2294.7 889.2,2312.9 890.1,2312.9 890.9,2312.9 891.7,2312.9 892.5,2312.9 893.3,2312.9 894.2,2312.9 895,2312.9 895.8,2312.9 896.6,2312.9 897.4,2312.9 898.3,2312.9 899.1,2294.7 899.9,2294.7 900.7,2312.9 901.5,2312.9 902.4,2294.7 903.2,2294.7 904,2294.7 904.8,2294.7 905.6,2312.9 906.5,2312.9 907.3,2312.9 908.1,2312.9 908.9,2294.7 909.7,2312.9 910.5,2312.9 911.4,2294.7" stroke="#f50f00"/>
</g>
<rect x="653.5" y="2097" width="261.3" height="80.3" fill="#fff" stroke="#1c1c1c" stroke-width="1.9"/>
<path d="M667.4,2119.8H680.2" fill="none" stroke="#0903ea" stroke-width="4.9" stroke-dasharray="18.2 4.7 9 4.7"/>
<path d="M679.6,2119.8H788.2" fill="none" stroke="#0903ea" stroke-width="4.9" stroke-dasharray="18.2 4.7 9 4.7"/>
<path d="M667.4,2154.5H788.2" fill="none" stroke="#f50f00" stroke-width="4.8"/>
<text class="lg" x="797.5" y="2129.8">GT</text>
<text class="lg" x="797.5" y="2164.5">YOLOv7</text>
<text class="tk" x="92.9" y="2461.7" text-anchor="middle">0</text>
<text class="tk" x="215.8" y="2461.7" text-anchor="middle">5</text>
<text class="tk" x="338.7" y="2461.7" text-anchor="middle">10</text>
<text class="tk" x="461.6" y="2461.7" text-anchor="middle">15</text>
<text class="tk" x="584.5" y="2461.7" text-anchor="middle">20</text>
<text class="tk" x="707.4" y="2461.7" text-anchor="middle">25</text>
<text class="tk" x="830.3" y="2461.7" text-anchor="middle">30</text>
<text class="tk" x="953.1" y="2461.7" text-anchor="middle">35</text>
<text class="tk" x="79" y="2067.1" text-anchor="end">2</text>
<text class="tk" x="79" y="2140" text-anchor="end">1</text>
<text class="tk" x="79" y="2212.9" text-anchor="end">0</text>
<text class="tk" x="79" y="2285.9" text-anchor="end">-1</text>
<text class="tk" x="79" y="2358.8" text-anchor="end">-2</text>
<text class="tk" x="79" y="2431.7" text-anchor="end">-3</text>
<text class="lb" x="523" y="2499.1" text-anchor="middle">Time(s)</text>
<text class="lb" transform="translate(38,2240) rotate(-90)" text-anchor="middle">Displacement(pixel)</text>
</g>
<g id="p41">
<text class="tt" style="font-size:27.8px" x="1655.3" y="2051.4" text-anchor="middle">point</text>
<g stroke="#1f1f1f" stroke-width="2.05" fill="none">
<rect x="1225.1" y="2057.7" width="860.4" height="364.6"/>
<path d="M1225.1,2422.3v-9.2M1225.1,2057.7v9.2M1348,2422.3v-9.2M1348,2057.7v9.2M1470.9,2422.3v-9.2M1470.9,2057.7v9.2M1593.8,2422.3v-9.2M1593.8,2057.7v9.2M1716.8,2422.3v-9.2M1716.8,2057.7v9.2M1839.7,2422.3v-9.2M1839.7,2057.7v9.2M1962.6,2422.3v-9.2M1962.6,2057.7v9.2M2085.5,2422.3v-9.2M2085.5,2057.7v9.2M1225.1,2057.7h9.2M2085.5,2057.7h-9.2M1225.1,2130.6h9.2M2085.5,2130.6h-9.2M1225.1,2203.5h9.2M2085.5,2203.5h-9.2M1225.1,2276.5h9.2M2085.5,2276.5h-9.2M1225.1,2349.4h9.2M2085.5,2349.4h-9.2M1225.1,2422.3h9.2M2085.5,2422.3h-9.2"/>
</g>
<clipPath id="c41"><rect x="1222.7" y="2055.3" width="865.2" height="369.4"/></clipPath>
<g clip-path="url(#c41)" fill="none" stroke-width="4.8" stroke-linejoin="round">
<polyline points="1225.1,2210.8 1226.7,2198.4 1228.4,2210.7 1230,2193.7 1231.7,2187.4 1233.3,2201.5 1234.9,2187.5 1236.6,2201.3 1238.2,2182.9 1239.9,2181.3 1241.5,2184.3 1243.1,2196.1 1244.8,2180.9 1246.4,2198.9 1248.1,2193 1249.7,2183.6 1251.3,2199.7 1253,2184.8 1254.6,2193.6 1256.3,2193.8 1257.9,2184.3 1259.6,2196 1261.2,2197.9 1262.8,2185.9 1264.5,2200.6 1266.1,2183.8 1267.8,2199.5 1269.4,2208 1271,2197.5 1272.7,2210.7 1274.3,2199.1 1276,2213.4 1277.6,2214 1279.2,2201.2 1280.9,2212.2 1282.5,2218.1 1284.2,2215.1 1285.8,2190 1287.4,2205 1289.1,2188.7 1290.7,2205.5 1292.4,2187.7 1294,2175.8 1295.6,2182.9 1297.3,2199.3 1298.9,2182.3 1300.6,2184.6 1302.2,2201 1303.8,2202.7 1305.5,2183.1 1307.1,2197.7 1308.8,2200.7 1310.4,2193.4 1312,2185.4 1313.7,2183 1315.3,2188 1317,2173.7 1318.6,2181 1320.2,2170.2 1321.9,2167.1 1323.5,2167.7 1325.2,2174 1326.8,2161 1328.5,2166.8 1330.1,2157.9 1331.7,2159.8 1333.4,2167.6 1335,2169.9 1336.7,2161.1 1338.3,2156.3 1339.9,2164.6 1341.6,2152 1343.2,2162.8 1344.9,2158.1 1346.5,2156.4 1348.1,2147.8 1349.8,2153.9 1351.4,2143.9 1353.1,2153 1354.7,2140.4 1356.3,2151.3 1358,2138.7 1359.6,2147.2 1361.3,2134 1362.9,2143.8 1364.5,2137 1366.2,2144.1 1367.8,2150.2 1369.5,2158.3 1371.1,2143.6 1372.7,2139.2 1374.4,2129.3 1376,2125.1 1377.7,2124.7 1379.3,2124.2 1380.9,2129.7 1382.6,2120.9 1384.2,2121.9 1385.9,2120.4 1387.5,2133.6 1389.1,2125.9 1390.8,2134 1392.4,2124.4 1394.1,2137.6 1395.7,2127.7 1397.4,2134.4 1399,2124.6 1400.6,2132.5 1402.3,2125.2 1403.9,2124.8 1405.6,2125.7 1407.2,2139.5 1408.8,2138 1410.5,2156.8 1412.1,2165 1413.8,2178.3 1415.4,2186.7 1417,2189.4 1418.7,2191.2 1420.3,2197.4 1422,2204.6 1423.6,2219 1425.2,2227.2 1426.9,2237.6 1428.5,2244.1 1430.2,2244.5 1431.8,2251.1 1433.4,2256.8 1435.1,2265.8 1436.7,2268.7 1438.4,2276 1440,2287.5 1441.6,2295.1 1443.3,2297.6 1444.9,2297.2 1446.6,2303.4 1448.2,2306.6 1449.8,2306.4 1451.5,2314.4 1453.1,2312.8 1454.8,2322.8 1456.4,2324.8 1458.1,2334.9 1459.7,2338.1 1461.3,2345.7 1463,2346.7 1464.6,2350.3 1466.3,2354 1467.9,2362.1 1469.5,2360.4 1471.2,2373.8 1472.8,2365.5 1474.5,2380.3 1476.1,2359.1 1477.7,2353 1479.4,2359.5 1481,2388.1 1482.7,2367.1 1484.3,2382.7 1485.9,2374.6 1487.6,2375.6 1489.2,2365.4 1490.9,2380.4 1492.5,2378.8 1494.1,2388.4 1495.8,2379.5 1497.4,2391.5 1499.1,2379.2 1500.7,2377.3 1502.3,2402.7 1504,2404.1 1505.6,2394.9 1507.3,2385.7 1508.9,2390.6 1510.5,2397.4 1512.2,2386 1513.8,2399 1515.5,2395.5 1517.1,2389.5 1518.7,2399.5 1520.4,2386.4 1522,2400 1523.7,2389.1 1525.3,2394.2 1527,2394.9 1528.6,2395.6 1530.2,2385.1 1531.9,2396.8 1533.5,2386.5 1535.2,2395.7 1536.8,2396.1 1538.4,2384.4 1540.1,2387.2 1541.7,2399.2 1543.4,2396.5 1545,2383.1 1546.6,2374.9 1548.3,2369.8 1549.9,2384 1551.6,2389.4 1553.2,2358.5 1554.8,2382 1556.5,2356.3 1558.1,2387.2 1559.8,2376.9 1561.4,2346.7 1563,2347.9 1564.7,2350.5 1566.3,2383.5 1568,2373.1 1569.6,2350.2 1571.2,2384.4 1572.9,2345.7 1574.5,2380.3 1576.2,2351.6 1577.8,2380.9 1579.4,2354.6 1581.1,2387.6 1582.7,2355.8 1584.4,2378.3 1586,2379.7 1587.7,2384.5 1589.3,2378.1 1590.9,2388.1 1592.6,2354.4 1594.2,2359 1595.9,2381.2 1597.5,2357 1599.1,2393.5 1600.8,2356.4 1602.4,2356 1604.1,2368.5 1605.7,2386 1607.3,2385.3 1609,2399.7 1610.6,2393.5 1612.3,2362 1613.9,2354.6 1615.5,2384.6 1617.2,2353.9 1618.8,2348.7 1620.5,2352.5 1622.1,2383.7 1623.7,2381 1625.4,2372.7 1627,2368.7 1628.7,2369.3 1630.3,2395.1 1631.9,2374.8 1633.6,2390.7 1635.2,2372.4 1636.9,2383.5 1638.5,2387.5 1640.1,2365.5 1641.8,2368.6 1643.4,2366.9 1645.1,2380.5 1646.7,2363.3 1648.3,2374.9 1650,2360 1651.6,2382.4 1653.3,2357.9 1654.9,2382.2 1656.6,2355 1658.2,2355.2 1659.8,2368.3 1661.5,2356.9 1663.1,2377.8 1664.8,2360.4 1666.4,2383.5 1668,2369.3 1669.7,2388.5 1671.3,2373.4 1673,2373.4 1674.6,2388.1 1676.2,2386.2 1677.9,2366.9 1679.5,2394.1 1681.2,2367.7 1682.8,2387.1 1684.4,2396.3 1686.1,2393.8 1687.7,2396.6 1689.4,2376.8 1691,2373.8 1692.6,2390.7 1694.3,2377.2 1695.9,2391 1697.6,2394.6 1699.2,2394 1700.8,2368.3 1702.5,2383 1704.1,2369.2 1705.8,2388.7 1707.4,2379.3 1709,2389.1 1710.7,2381.1 1712.3,2391.9 1714,2385.3 1715.6,2397.4 1717.2,2395.7 1718.9,2390.5 1720.5,2398 1722.2,2390.5 1723.8,2400.1 1725.5,2389.2 1727.1,2397.1 1728.7,2390.3 1730.4,2402.4 1732,2389.8 1733.7,2396.4 1735.3,2388.4 1736.9,2396.3 1738.6,2385.9 1740.2,2398.5 1741.9,2394.7 1743.5,2383.8 1745.1,2400.1 1746.8,2396.4 1748.4,2396.8 1750.1,2378.8 1751.7,2392.1 1753.3,2382.2 1755,2375.1 1756.6,2378.2 1758.3,2388 1759.9,2373.3 1761.5,2372.4 1763.2,2392.5 1764.8,2375.8 1766.5,2390.9 1768.1,2377.3 1769.7,2392.3 1771.4,2389.3 1773,2401.9 1774.7,2398.2 1776.3,2372.5 1777.9,2378.2 1779.6,2391.9 1781.2,2371.6 1782.9,2392.1 1784.5,2378 1786.2,2376.9 1787.8,2386 1789.4,2374.2 1791.1,2392.8 1792.7,2372.2 1794.4,2387.7 1796,2375.6 1797.6,2388.7 1799.3,2390.3 1800.9,2375.9 1802.6,2374.9 1804.2,2373.6 1805.8,2393.8 1807.5,2378.8 1809.1,2382.4 1810.8,2404.7 1812.4,2407.7 1814,2403.9 1815.7,2383.2 1817.3,2394.9 1819,2386.1 1820.6,2370.1 1822.2,2384.1 1823.9,2372.6 1825.5,2364 1827.2,2366.5 1828.8,2388.8 1830.4,2381 1832.1,2392.3 1833.7,2386.2 1835.4,2401.3 1837,2385.3 1838.6,2403.8 1840.3,2393 1841.9,2405.1 1843.6,2395.1 1845.2,2395.6 1846.8,2395.5 1848.5,2407 1850.1,2392.7 1851.8,2409.1 1853.4,2383.5 1855.1,2395 1856.7,2370.1 1858.3,2383.5 1860,2362.1 1861.6,2381.6 1863.3,2358.5 1864.9,2373.7 1866.5,2360.9 1868.2,2379.4 1869.8,2366 1871.5,2380.2 1873.1,2369.5 1874.7,2386.6 1876.4,2375.9 1878,2391.8 1879.7,2382.9 1881.3,2401.7 1882.9,2379.1 1884.6,2392.2 1886.2,2375.1 1887.9,2385.6 1889.5,2364.5 1891.1,2371.8 1892.8,2356.6 1894.4,2364.2 1896.1,2348.8 1897.7,2354.8 1899.3,2338.5 1901,2350.5 1902.6,2331.3 1904.3,2350.4 1905.9,2328.5 1907.5,2338.6 1909.2,2324 1910.8,2320.2 1912.5,2329.1 1914.1,2319.7 1915.8,2340.6 1917.4,2326.4 1919,2330.2 1920.7,2344.3 1922.3,2328.3 1924,2337.5 1925.6,2321.9 1927.2,2323.9 1928.9,2316.9 1930.5,2324.5 1932.2,2316.4 1933.8,2320.5 1935.4,2321.6 1937.1,2341 1938.7,2324 1940.4,2344.9 1942,2319.3 1943.6,2341.4 1945.3,2331.2 1946.9,2316.3 1948.6,2321 1950.2,2335.3 1951.8,2321.5 1953.5,2328 1955.1,2325 1956.8,2348.9 1958.4,2347.9 1960,2346.1 1961.7,2334.5 1963.3,2340.9 1965,2338.8 1966.6,2326.9 1968.2,2341.8 1969.9,2339.4 1971.5,2319 1973.2,2323.2 1974.8,2315.8 1976.4,2319.5 1978.1,2332.9 1979.7,2320.4 1981.4,2341.9 1983,2327.2 1984.7,2343.8 1986.3,2336.7 1987.9,2345.7 1989.6,2344.2 1991.2,2323.8 1992.9,2340.1 1994.5,2315.4 1996.1,2323.3 1997.8,2314.4 1999.4,2317.3 2001.1,2336.3 2002.7,2321.4 2004.3,2316.7 2006,2337.3 2007.6,2335 2009.3,2342.3 2010.9,2341.3 2012.5,2324.1 2014.2,2338.5 2015.8,2324.7 2017.5,2342.7 2019.1,2318.6 2020.7,2318.4 2022.4,2315.1 2024,2322.2 2025.7,2317.7 2027.3,2331.8 2028.9,2334.2 2030.6,2333.8 2032.2,2322.5 2033.9,2320.6 2035.5,2334.8 2037.1,2337.5 2038.8,2326.9 2040.4,2312.2 2042.1,2314.6 2043.7,2321.6" stroke="#0903ea" stroke-width="4.9" stroke-dasharray="18.2 4.7 9 4.7"/>
<polyline points="1225.1,2195.2 1226.7,2202.1 1228.4,2195.6 1230,2188 1231.7,2199.3 1233.3,2202.4 1234.9,2189.7 1236.6,2195.3 1238.2,2186.2 1239.9,2187 1241.5,2182 1243.1,2186 1244.8,2183.1 1246.4,2177.2 1248.1,2182.4 1249.7,2188.1 1251.3,2203.6 1253,2193.2 1254.6,2201 1256.3,2197.3 1257.9,2189.2 1259.6,2184.1 1261.2,2182.6 1262.8,2182.2 1264.5,2181.6 1266.1,2194.8 1267.8,2195 1269.4,2190.9 1271,2205.4 1272.7,2199.8 1274.3,2197.7 1276,2205.7 1277.6,2191.4 1279.2,2194.7 1280.9,2197.4 1282.5,2197.7 1284.2,2190.3 1285.8,2197.1 1287.4,2190.3 1289.1,2193.2 1290.7,2178.4 1292.4,2185.2 1294,2174.6 1295.6,2182.9 1297.3,2200.5 1298.9,2189 1300.6,2195.2 1302.2,2186.2 1303.8,2191.5 1305.5,2177.4 1307.1,2181.3 1308.8,2196 1310.4,2186.9 1312,2193.9 1313.7,2184.9 1315.3,2194 1317,2191 1318.6,2179.1 1320.2,2182.4 1321.9,2176.4 1323.5,2162.8 1325.2,2164.6 1326.8,2162.7 1328.5,2165.4 1330.1,2157.2 1331.7,2167.9 1333.4,2158.8 1335,2161.1 1336.7,2172 1338.3,2168.9 1339.9,2167.2 1341.6,2155.3 1343.2,2155.9 1344.9,2158.5 1346.5,2148.4 1348.1,2147.5 1349.8,2146.8 1351.4,2159.4 1353.1,2162.8 1354.7,2154.2 1356.3,2156.4 1358,2154.8 1359.6,2151.4 1361.3,2146.6 1362.9,2157.8 1364.5,2148.1 1366.2,2152.6 1367.8,2136.7 1369.5,2136.5 1371.1,2131.4 1372.7,2136.1 1374.4,2127.8 1376,2124.5 1377.7,2134.7 1379.3,2123 1380.9,2128.9 1382.6,2122.2 1384.2,2126.7 1385.9,2120.6 1387.5,2127.4 1389.1,2120.8 1390.8,2135.1 1392.4,2133.2 1394.1,2141.8 1395.7,2135.1 1397.4,2143.3 1399,2137.1 1400.6,2146.1 1402.3,2135.5 1403.9,2146.1 1405.6,2138 1407.2,2144.5 1408.8,2146 1410.5,2156.4 1412.1,2181.4 1413.8,2180 1415.4,2186.6 1417,2180.5 1418.7,2177.1 1420.3,2192.8 1422,2194.1 1423.6,2208.9 1425.2,2207.5 1426.9,2221.4 1428.5,2214.7 1430.2,2229.4 1431.8,2228.6 1433.4,2242.2 1435.1,2239.6 1436.7,2261.7 1438.4,2264.9 1440,2282.1 1441.6,2276.1 1443.3,2288.8 1444.9,2283.6 1446.6,2295.2 1448.2,2286.3 1449.8,2297.5 1451.5,2287.8 1453.1,2300.2 1454.8,2303.5 1456.4,2299 1458.1,2307.8 1459.7,2320.5 1461.3,2318.1 1463,2332.9 1464.6,2332.8 1466.3,2327.8 1467.9,2335.3 1469.5,2345.7 1471.2,2342.9 1472.8,2359.7 1474.5,2349 1476.1,2355.3 1477.7,2357.7 1479.4,2354.8 1481,2357.4 1482.7,2370.2 1484.3,2366.8 1485.9,2375.5 1487.6,2373.9 1489.2,2383.7 1490.9,2379.1 1492.5,2383.2 1494.1,2396.2 1495.8,2398.1 1497.4,2387.7 1499.1,2396.2 1500.7,2393.2 1502.3,2401.9 1504,2397.7 1505.6,2404.8 1507.3,2401.2 1508.9,2408.2 1510.5,2401.9 1512.2,2408.4 1513.8,2401 1515.5,2405.7 1517.1,2406.3 1518.7,2408.6 1520.4,2398.7 1522,2407.5 1523.7,2405 1525.3,2394.1 1527,2392.1 1528.6,2401 1530.2,2394.3 1531.9,2392.3 1533.5,2403.2 1535.2,2405 1536.8,2407.7 1538.4,2395.8 1540.1,2405.3 1541.7,2394.9 1543.4,2405 1545,2395.9 1546.6,2389.9 1548.3,2388.3 1549.9,2383.6 1551.6,2367.2 1553.2,2373.9 1554.8,2369.4 1556.5,2360.1 1558.1,2358.3 1559.8,2369.4 1561.4,2365.6 1563,2356.8 1564.7,2364.9 1566.3,2364.1 1568,2358 1569.6,2364.5 1571.2,2359.2 1572.9,2368.5 1574.5,2366 1576.2,2357.4 1577.8,2360.8 1579.4,2370.6 1581.1,2370.4 1582.7,2359.6 1584.4,2361.4 1586,2362 1587.7,2368.5 1589.3,2372 1590.9,2362.3 1592.6,2365.5 1594.2,2365.5 1595.9,2355.4 1597.5,2367.5 1599.1,2359.6 1600.8,2364 1602.4,2359.9 1604.1,2358.9 1605.7,2366.9 1607.3,2364.5 1609,2379.5 1610.6,2362.9 1612.3,2367.4 1613.9,2352.3 1615.5,2358 1617.2,2349.9 1618.8,2348.2 1620.5,2350.8 1622.1,2359.3 1623.7,2354.9 1625.4,2368.1 1627,2365.7 1628.7,2377.3 1630.3,2368.9 1631.9,2380.9 1633.6,2373.5 1635.2,2383.5 1636.9,2376.4 1638.5,2387.9 1640.1,2378.3 1641.8,2388.6 1643.4,2385.4 1645.1,2377.4 1646.7,2383.3 1648.3,2374.6 1650,2382 1651.6,2370.9 1653.3,2372.3 1654.9,2361.3 1656.6,2368.3 1658.2,2361.1 1659.8,2372.6 1661.5,2362.1 1663.1,2369.9 1664.8,2370 1666.4,2371.6 1668,2365.2 1669.7,2374.8 1671.3,2374 1673,2367.4 1674.6,2376.5 1676.2,2372.7 1677.9,2374.6 1679.5,2385.9 1681.2,2377.7 1682.8,2389 1684.4,2378.4 1686.1,2390.9 1687.7,2382.3 1689.4,2389.5 1691,2389.3 1692.6,2382.3 1694.3,2387.6 1695.9,2387.9 1697.6,2390.1 1699.2,2379.8 1700.8,2389.8 1702.5,2385 1704.1,2390.4 1705.8,2385.4 1707.4,2396.3 1709,2400.6 1710.7,2392.5 1712.3,2400.4 1714,2393.7 1715.6,2403.2 1717.2,2407.2 1718.9,2398.7 1720.5,2407.6 1722.2,2407.9 1723.8,2397.8 1725.5,2396 1727.1,2399.9 1728.7,2406 1730.4,2396.5 1732,2403.3 1733.7,2395.1 1735.3,2402.5 1736.9,2395.1 1738.6,2392.5 1740.2,2393.1 1741.9,2403.1 1743.5,2404.8 1745.1,2394.5 1746.8,2396.6 1748.4,2395.4 1750.1,2398.7 1751.7,2388.7 1753.3,2391.1 1755,2382 1756.6,2382.1 1758.3,2392.9 1759.9,2386.1 1761.5,2396.6 1763.2,2386.6 1764.8,2393 1766.5,2392 1768.1,2383.4 1769.7,2391.4 1771.4,2390.9 1773,2395.4 1774.7,2405.9 1776.3,2402.2 1777.9,2397.3 1779.6,2388.5 1781.2,2392 1782.9,2395.9 1784.5,2385.5 1786.2,2395.3 1787.8,2388.1 1789.4,2386.2 1791.1,2384.3 1792.7,2393.1 1794.4,2385.6 1796,2390.7 1797.6,2392.6 1799.3,2385.9 1800.9,2389.9 1802.6,2392.6 1804.2,2391.8 1805.8,2385.7 1807.5,2394.8 1809.1,2394.7 1810.8,2395.7 1812.4,2390.3 1814,2402.6 1815.7,2390.3 1817.3,2381.2 1819,2376.5 1820.6,2379.7 1822.2,2369.1 1823.9,2374.5 1825.5,2369.2 1827.2,2375.1 1828.8,2375 1830.4,2365.8 1832.1,2364.2 1833.7,2377.6 1835.4,2381.9 1837,2372.9 1838.6,2384.5 1840.3,2386.2 1841.9,2374.7 1843.6,2385.2 1845.2,2378.3 1846.8,2376.6 1848.5,2376.4 1850.1,2384.2 1851.8,2378.7 1853.4,2385.1 1855.1,2377.3 1856.7,2386.4 1858.3,2377.6 1860,2374.6 1861.6,2376.1 1863.3,2372.1 1864.9,2381.5 1866.5,2377.8 1868.2,2387.7 1869.8,2382.2 1871.5,2387.6 1873.1,2378.6 1874.7,2378.9 1876.4,2384.4 1878,2378.9 1879.7,2384.5 1881.3,2372.4 1882.9,2376.5 1884.6,2364 1886.2,2369.3 1887.9,2354.1 1889.5,2358.6 1891.1,2353.6 1892.8,2341.6 1894.4,2337 1896.1,2332.9 1897.7,2338.4 1899.3,2335.8 1901,2324.5 1902.6,2332 1904.3,2322.1 1905.9,2318.1 1907.5,2323.3 1909.2,2309 1910.8,2304.6 1912.5,2305.4 1914.1,2318.6 1915.8,2318.9 1917.4,2328.3 1919,2321.7 1920.7,2325.6 1922.3,2315.4 1924,2310 1925.6,2314.6 1927.2,2308.4 1928.9,2297.9 1930.5,2293.6 1932.2,2305.1 1933.8,2308.2 1935.4,2300.9 1937.1,2311.5 1938.7,2313.8 1940.4,2304.5 1942,2314.1 1943.6,2304.7 1945.3,2312.9 1946.9,2307.2 1948.6,2316 1950.2,2309.1 1951.8,2318.9 1953.5,2311.7 1955.1,2314.3 1956.8,2325 1958.4,2318.6 1960,2329.4 1961.7,2314.6 1963.3,2310.9 1965,2304.5 1966.6,2314.2 1968.2,2309.2 1969.9,2300.1 1971.5,2306 1973.2,2298.4 1974.8,2301.7 1976.4,2315.2 1978.1,2312.6 1979.7,2311.8 1981.4,2323.6 1983,2326.9 1984.7,2326.7 1986.3,2321.4 1987.9,2330 1989.6,2316 1991.2,2324.2 1992.9,2313 1994.5,2308.3 1996.1,2313.8 1997.8,2303.1 1999.4,2311.5 2001.1,2316.7 2002.7,2316.5 2004.3,2320.1 2006,2314.1 2007.6,2319.5 2009.3,2310.7 2010.9,2319.6 2012.5,2311.9 2014.2,2321.3 2015.8,2318.3 2017.5,2306.5 2019.1,2311.4 2020.7,2301 2022.4,2310 2024,2302.7 2025.7,2312 2027.3,2310.4 2028.9,2319.9 2030.6,2312.5 2032.2,2322.3 2033.9,2322.4 2035.5,2315.4 2037.1,2318.4 2038.8,2308.9 2040.4,2314.1 2042.1,2322.5 2043.7,2324.9" stroke="#f50f00"/>
</g>
<rect x="1837.4" y="2097" width="208.2" height="80.3" fill="#fff" stroke="#1c1c1c" stroke-width="1.9"/>
<path d="M1849.6,2119.8H1970.4" fill="none" stroke="#0903ea" stroke-width="4.9" stroke-dasharray="18.2 4.7 9 4.7"/>
<path d="M1849.6,2154.5H1970.4" fill="none" stroke="#f50f00" stroke-width="4.8"/>
<text class="lg" x="1979.7" y="2129.8">GT</text>
<text class="lg" x="1979.7" y="2164.5">Ours</text>
<text class="tk" x="1225.1" y="2461.7" text-anchor="middle">0</text>
<text class="tk" x="1348" y="2461.7" text-anchor="middle">5</text>
<text class="tk" x="1470.9" y="2461.7" text-anchor="middle">10</text>
<text class="tk" x="1593.8" y="2461.7" text-anchor="middle">15</text>
<text class="tk" x="1716.8" y="2461.7" text-anchor="middle">20</text>
<text class="tk" x="1839.7" y="2461.7" text-anchor="middle">25</text>
<text class="tk" x="1962.6" y="2461.7" text-anchor="middle">30</text>
<text class="tk" x="2085.5" y="2461.7" text-anchor="middle">35</text>
<text class="tk" x="1211.2" y="2067.1" text-anchor="end">2</text>
<text class="tk" x="1211.2" y="2140" text-anchor="end">1</text>
<text class="tk" x="1211.2" y="2212.9" text-anchor="end">0</text>
<text class="tk" x="1211.2" y="2285.9" text-anchor="end">-1</text>
<text class="tk" x="1211.2" y="2358.8" text-anchor="end">-2</text>
<text class="tk" x="1211.2" y="2431.7" text-anchor="end">-3</text>
<text class="lb" style="font-size:27.9px" x="1655.5" y="2496.8" text-anchor="middle">Time(s)</text>
<text class="lb" style="font-size:27.6px" transform="translate(1170.3,2238.7) rotate(-90)" text-anchor="middle">Displacement(pixel)</text>
</g>
</svg></body></html>
